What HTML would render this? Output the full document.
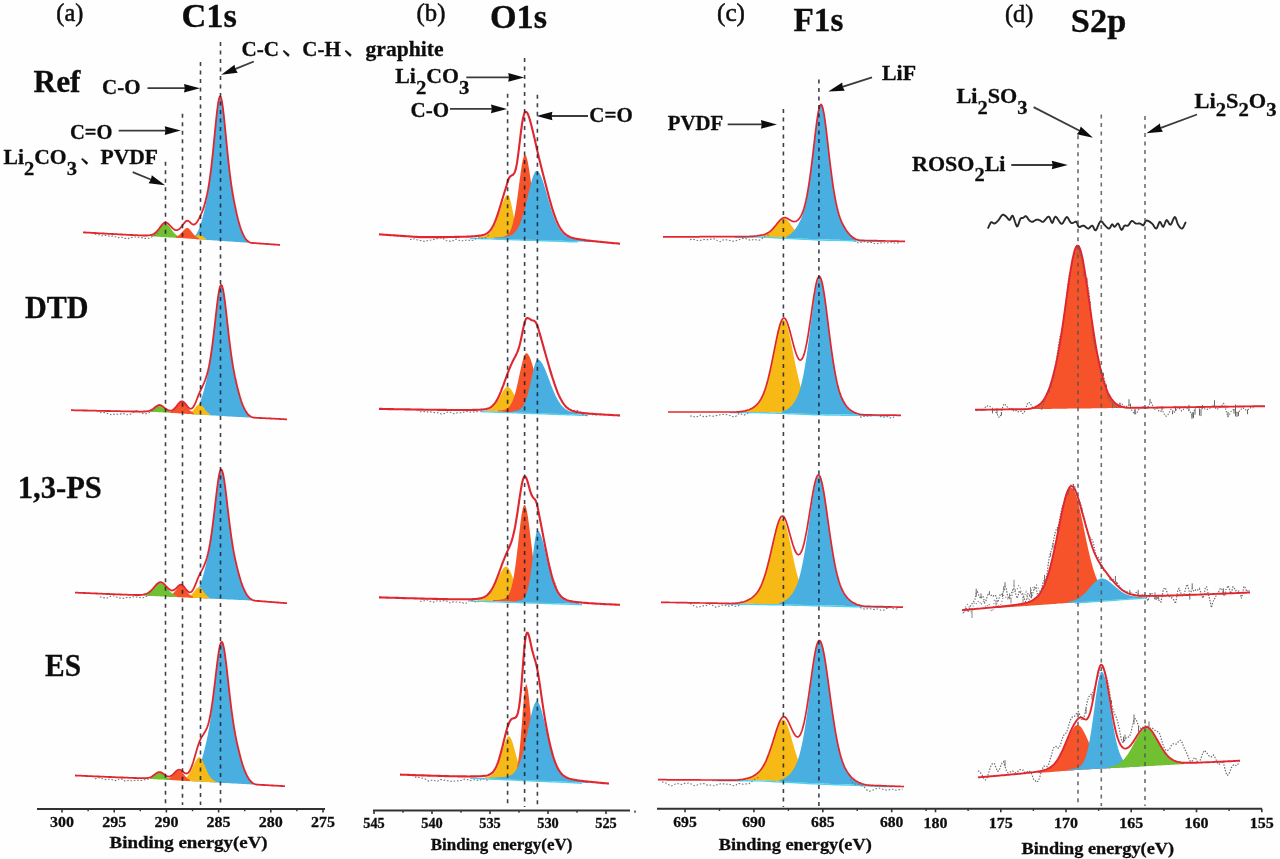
<!DOCTYPE html><html><head><meta charset="utf-8"><style>html,body{margin:0;padding:0;background:#fefefe;overflow:hidden}svg{display:block}</style></head><body><svg width="1280" height="859" viewBox="0 0 1280 859" font-family="'Liberation Serif', serif">
<rect width="1280" height="859" fill="#fefefe"/>
<defs><filter id="bl" x="-2%" y="-2%" width="104%" height="104%"><feGaussianBlur stdDeviation="0.55"/></filter></defs><g filter="url(#bl)">
<polygon points="193.0,237.6 194.0,236.8 195.0,235.8 196.0,234.5 197.0,232.9 198.0,231.0 199.0,228.8 200.0,226.2 201.0,223.2 202.0,219.8 203.0,216.1 204.0,211.9 205.0,207.4 206.0,202.6 207.0,197.6 208.0,192.1 209.0,185.8 210.0,178.7 211.0,170.7 212.0,161.9 213.0,152.4 214.0,142.2 215.0,131.8 216.0,121.6 217.0,112.2 218.0,104.5 219.0,99.1 220.0,96.9 221.0,97.9 222.0,102.0 223.0,108.8 224.0,117.5 225.0,127.3 226.0,137.6 227.0,147.8 228.0,157.6 229.0,166.8 230.0,175.3 231.0,182.9 232.0,189.7 233.0,195.7 234.0,201.0 235.0,206.0 236.0,210.8 237.0,215.2 238.0,219.3 239.0,223.1 240.0,226.5 241.0,229.4 242.0,232.1 243.0,234.4 244.0,236.4 245.0,238.0 246.0,239.4 247.0,240.6 248.0,241.4 248.0,242.8 247.0,242.7 246.0,242.6 245.0,242.6 244.0,242.5 243.0,242.4 242.0,242.3 241.0,242.3 240.0,242.2 239.0,242.1 238.0,242.1 237.0,242.0 236.0,241.9 235.0,241.8 234.0,241.8 233.0,241.7 232.0,241.6 231.0,241.6 230.0,241.5 229.0,241.4 228.0,241.4 227.0,241.3 226.0,241.2 225.0,241.2 224.0,241.1 223.0,241.0 222.0,240.9 221.0,240.9 220.0,240.8 219.0,240.7 218.0,240.7 217.0,240.6 216.0,240.5 215.0,240.4 214.0,240.4 213.0,240.3 212.0,240.2 211.0,240.2 210.0,240.1 209.0,240.0 208.0,240.0 207.0,239.9 206.0,239.8 205.0,239.8 204.0,239.7 203.0,239.6 202.0,239.5 201.0,239.5 200.0,239.4 199.0,239.3 198.0,239.3 197.0,239.2 196.0,239.1 195.0,239.1 194.0,239.0 193.0,238.9" fill="#48aee0"/>
<polygon points="193.0,237.7 194.0,237.2 195.0,236.7 196.0,236.0 197.0,235.4 198.0,234.8 199.0,234.6 200.0,234.6 201.0,235.1 202.0,235.7 203.0,236.5 204.0,237.3 205.0,238.0 206.0,238.6 206.0,239.8 205.0,239.8 204.0,239.7 203.0,239.6 202.0,239.5 201.0,239.5 200.0,239.4 199.0,239.3 198.0,239.3 197.0,239.2 196.0,239.1 195.0,239.1 194.0,239.0 193.0,238.9" fill="#f6b914"/>
<polygon points="151.0,235.2 152.0,234.9 153.0,234.5 154.0,234.0 155.0,233.4 156.0,232.5 157.0,231.5 158.0,230.4 159.0,229.2 160.0,227.9 161.0,226.7 162.0,225.5 163.0,224.6 164.0,223.9 165.0,223.6 166.0,223.7 167.0,224.2 168.0,225.0 169.0,226.2 170.0,227.5 171.0,228.8 172.0,230.2 173.0,231.5 174.0,232.7 175.0,233.8 176.0,234.7 177.0,235.5 178.0,236.1 179.0,236.6 180.0,237.0 180.0,238.0 179.0,237.9 178.0,237.9 177.0,237.8 176.0,237.8 175.0,237.7 174.0,237.7 173.0,237.6 172.0,237.5 171.0,237.5 170.0,237.4 169.0,237.4 168.0,237.3 167.0,237.2 166.0,237.2 165.0,237.1 164.0,237.1 163.0,237.0 162.0,237.0 161.0,236.9 160.0,236.8 159.0,236.8 158.0,236.7 157.0,236.7 156.0,236.6 155.0,236.6 154.0,236.5 153.0,236.4 152.0,236.4 151.0,236.3" fill="#70c032"/>
<polygon points="176.0,236.5 177.0,236.2 178.0,235.7 179.0,235.1 180.0,234.3 181.0,233.3 182.0,232.3 183.0,231.1 184.0,230.0 185.0,229.0 186.0,228.2 187.0,227.9 188.0,228.1 189.0,228.7 190.0,229.7 191.0,230.9 192.0,232.2 193.0,233.5 194.0,234.7 195.0,235.7 196.0,236.5 197.0,237.2 198.0,237.8 199.0,238.2 199.0,239.3 198.0,239.3 197.0,239.2 196.0,239.1 195.0,239.1 194.0,239.0 193.0,238.9 192.0,238.8 191.0,238.8 190.0,238.7 189.0,238.6 188.0,238.6 187.0,238.5 186.0,238.4 185.0,238.3 184.0,238.3 183.0,238.2 182.0,238.1 181.0,238.1 180.0,238.0 179.0,237.9 178.0,237.9 177.0,237.8 176.0,237.8" fill="#f6532a"/>
<polygon points="193.0,412.7 194.0,411.9 195.0,410.9 196.0,409.7 197.0,408.3 198.0,406.6 199.0,404.6 200.0,402.3 201.0,399.7 202.0,396.8 203.0,393.5 204.0,390.0 205.0,386.1 206.0,382.0 207.0,377.8 208.0,373.2 209.0,368.0 210.0,362.2 211.0,355.6 212.0,348.4 213.0,340.5 214.0,332.0 215.0,323.2 216.0,314.2 217.0,305.5 218.0,297.7 219.0,291.2 220.0,286.9 221.0,285.0 222.0,285.9 223.0,289.3 224.0,295.0 225.0,302.4 226.0,310.8 227.0,319.7 228.0,328.7 229.0,337.4 230.0,345.6 231.0,353.2 232.0,360.2 233.0,366.4 234.0,372.0 235.0,377.0 236.0,381.4 237.0,385.7 238.0,389.8 239.0,393.6 240.0,397.1 241.0,400.3 242.0,403.1 243.0,405.7 244.0,408.0 245.0,409.9 246.0,411.7 247.0,413.1 248.0,414.4 249.0,415.4 250.0,416.2 250.0,417.5 249.0,417.5 248.0,417.4 247.0,417.4 246.0,417.3 245.0,417.3 244.0,417.2 243.0,417.2 242.0,417.1 241.0,417.1 240.0,417.0 239.0,417.0 238.0,416.9 237.0,416.9 236.0,416.8 235.0,416.8 234.0,416.7 233.0,416.7 232.0,416.6 231.0,416.6 230.0,416.5 229.0,416.4 228.0,416.4 227.0,416.3 226.0,416.3 225.0,416.2 224.0,416.1 223.0,416.1 222.0,416.0 221.0,415.9 220.0,415.9 219.0,415.8 218.0,415.8 217.0,415.7 216.0,415.6 215.0,415.6 214.0,415.5 213.0,415.5 212.0,415.4 211.0,415.3 210.0,415.3 209.0,415.2 208.0,415.1 207.0,415.1 206.0,415.0 205.0,415.0 204.0,414.9 203.0,414.8 202.0,414.8 201.0,414.7 200.0,414.7 199.0,414.6 198.0,414.5 197.0,414.5 196.0,414.4 195.0,414.4 194.0,414.3 193.0,414.2" fill="#48aee0"/>
<polygon points="189.0,412.9 190.0,412.6 191.0,412.0 192.0,411.3 193.0,410.4 194.0,409.3 195.0,408.1 196.0,406.8 197.0,405.7 198.0,404.8 199.0,404.2 200.0,404.2 201.0,404.6 202.0,405.6 203.0,406.8 204.0,408.1 205.0,409.5 206.0,410.7 207.0,411.8 208.0,412.8 209.0,413.5 210.0,414.1 210.0,415.3 209.0,415.2 208.0,415.1 207.0,415.1 206.0,415.0 205.0,415.0 204.0,414.9 203.0,414.8 202.0,414.8 201.0,414.7 200.0,414.7 199.0,414.6 198.0,414.5 197.0,414.5 196.0,414.4 195.0,414.4 194.0,414.3 193.0,414.2 192.0,414.2 191.0,414.1 190.0,414.0 189.0,414.0" fill="#f6b914"/>
<polygon points="170.0,411.7 171.0,411.4 172.0,410.9 173.0,410.2 174.0,409.4 175.0,408.4 176.0,407.2 177.0,405.9 178.0,404.6 179.0,403.4 180.0,402.4 181.0,401.7 182.0,401.6 183.0,401.9 184.0,402.6 185.0,403.7 186.0,405.1 187.0,406.5 188.0,407.9 189.0,409.2 190.0,410.4 191.0,411.3 192.0,412.1 193.0,412.7 194.0,413.2 194.0,414.3 193.0,414.2 192.0,414.2 191.0,414.1 190.0,414.0 189.0,414.0 188.0,413.9 187.0,413.9 186.0,413.8 185.0,413.7 184.0,413.7 183.0,413.6 182.0,413.6 181.0,413.5 180.0,413.4 179.0,413.4 178.0,413.3 177.0,413.2 176.0,413.2 175.0,413.1 174.0,413.1 173.0,413.0 172.0,412.9 171.0,412.9 170.0,412.8" fill="#f6532a"/>
<polygon points="150.0,410.6 151.0,410.2 152.0,409.6 153.0,409.0 154.0,408.3 155.0,407.5 156.0,406.7 157.0,406.0 158.0,405.5 159.0,405.2 160.0,405.2 161.0,405.5 162.0,406.1 163.0,406.8 164.0,407.7 165.0,408.5 166.0,409.4 167.0,410.1 168.0,410.8 169.0,411.3 170.0,411.8 170.0,412.8 169.0,412.8 168.0,412.7 167.0,412.6 166.0,412.6 165.0,412.5 164.0,412.4 163.0,412.4 162.0,412.3 161.0,412.3 160.0,412.2 159.0,412.2 158.0,412.2 157.0,412.1 156.0,412.1 155.0,412.1 154.0,412.1 153.0,412.0 152.0,412.0 151.0,412.0 150.0,412.0" fill="#70c032"/>
<polygon points="192.0,596.6 193.0,595.9 194.0,595.0 195.0,593.9 196.0,592.6 197.0,591.1 198.0,589.3 199.0,587.2 200.0,584.8 201.0,582.2 202.0,579.2 203.0,575.9 204.0,572.4 205.0,568.5 206.0,564.5 207.0,560.3 208.0,555.7 209.0,550.5 210.0,544.7 211.0,538.2 212.0,531.0 213.0,523.2 214.0,515.0 215.0,506.3 216.0,497.7 217.0,489.3 218.0,481.8 219.0,475.6 220.0,471.4 221.0,469.7 222.0,470.5 223.0,473.7 224.0,479.0 225.0,485.9 226.0,493.8 227.0,502.3 228.0,510.9 229.0,519.3 230.0,527.3 231.0,534.8 232.0,541.7 233.0,547.9 234.0,553.5 235.0,558.4 236.0,562.9 237.0,567.0 238.0,571.0 239.0,574.8 240.0,578.3 241.0,581.5 242.0,584.5 243.0,587.1 244.0,589.5 245.0,591.6 246.0,593.4 247.0,595.0 248.0,596.4 249.0,597.5 250.0,598.4 251.0,599.2 251.0,600.5 250.0,600.4 249.0,600.4 248.0,600.3 247.0,600.3 246.0,600.2 245.0,600.2 244.0,600.1 243.0,600.1 242.0,600.0 241.0,600.0 240.0,600.0 239.0,599.9 238.0,599.9 237.0,599.8 236.0,599.8 235.0,599.7 234.0,599.7 233.0,599.6 232.0,599.6 231.0,599.6 230.0,599.5 229.0,599.5 228.0,599.4 227.0,599.4 226.0,599.3 225.0,599.3 224.0,599.2 223.0,599.2 222.0,599.2 221.0,599.1 220.0,599.1 219.0,599.0 218.0,599.0 217.0,598.9 216.0,598.9 215.0,598.8 214.0,598.8 213.0,598.8 212.0,598.7 211.0,598.7 210.0,598.6 209.0,598.6 208.0,598.5 207.0,598.5 206.0,598.4 205.0,598.4 204.0,598.4 203.0,598.3 202.0,598.3 201.0,598.2 200.0,598.2 199.0,598.1 198.0,598.1 197.0,598.0 196.0,598.0 195.0,598.0 194.0,597.9 193.0,597.9 192.0,597.8" fill="#48aee0"/>
<polygon points="189.0,596.3 190.0,595.8 191.0,595.0 192.0,594.1 193.0,593.0 194.0,591.7 195.0,590.4 196.0,589.1 197.0,588.1 198.0,587.4 199.0,587.1 200.0,587.4 201.0,588.2 202.0,589.4 203.0,590.8 204.0,592.2 205.0,593.5 206.0,594.7 207.0,595.7 208.0,596.6 209.0,597.2 209.0,598.6 208.0,598.5 207.0,598.5 206.0,598.4 205.0,598.4 204.0,598.4 203.0,598.3 202.0,598.3 201.0,598.2 200.0,598.2 199.0,598.1 198.0,598.1 197.0,598.0 196.0,598.0 195.0,598.0 194.0,597.9 193.0,597.9 192.0,597.8 191.0,597.8 190.0,597.7 189.0,597.7" fill="#f6b914"/>
<polygon points="169.0,595.7 170.0,595.4 171.0,594.9 172.0,594.2 173.0,593.4 174.0,592.4 175.0,591.2 176.0,589.9 177.0,588.6 178.0,587.3 179.0,586.3 180.0,585.6 181.0,585.3 182.0,585.6 183.0,586.3 184.0,587.3 185.0,588.7 186.0,590.1 187.0,591.5 188.0,592.8 189.0,593.9 190.0,594.9 191.0,595.7 192.0,596.3 193.0,596.7 193.0,597.9 192.0,597.8 191.0,597.8 190.0,597.7 189.0,597.7 188.0,597.6 187.0,597.6 186.0,597.5 185.0,597.5 184.0,597.5 183.0,597.4 182.0,597.4 181.0,597.3 180.0,597.3 179.0,597.2 178.0,597.2 177.0,597.1 176.0,597.1 175.0,597.1 174.0,597.0 173.0,597.0 172.0,596.9 171.0,596.9 170.0,596.8 169.0,596.8" fill="#f6532a"/>
<polygon points="144.0,594.6 145.0,594.3 146.0,594.0 147.0,593.6 148.0,593.0 149.0,592.4 150.0,591.6 151.0,590.7 152.0,589.7 153.0,588.6 154.0,587.5 155.0,586.3 156.0,585.2 157.0,584.2 158.0,583.4 159.0,582.8 160.0,582.5 161.0,582.5 162.0,582.8 163.0,583.4 164.0,584.3 165.0,585.4 166.0,586.6 167.0,587.8 168.0,589.0 169.0,590.2 170.0,591.4 171.0,592.4 172.0,593.3 173.0,594.0 174.0,594.7 175.0,595.2 176.0,595.7 177.0,596.0 177.0,597.1 176.0,597.1 175.0,597.1 174.0,597.0 173.0,597.0 172.0,596.9 171.0,596.9 170.0,596.8 169.0,596.8 168.0,596.7 167.0,596.7 166.0,596.7 165.0,596.6 164.0,596.6 163.0,596.5 162.0,596.5 161.0,596.4 160.0,596.4 159.0,596.3 158.0,596.3 157.0,596.3 156.0,596.2 155.0,596.2 154.0,596.1 153.0,596.1 152.0,596.0 151.0,596.0 150.0,595.9 149.0,595.9 148.0,595.9 147.0,595.8 146.0,595.8 145.0,595.7 144.0,595.7" fill="#70c032"/>
<polygon points="191.0,779.6 192.0,778.8 193.0,777.9 194.0,776.8 195.0,775.4 196.0,773.8 197.0,772.0 198.0,769.9 199.0,767.6 200.0,764.9 201.0,762.0 202.0,758.7 203.0,755.2 204.0,751.4 205.0,747.4 206.0,743.2 207.0,738.8 208.0,733.9 209.0,728.5 210.0,722.3 211.0,715.6 212.0,708.2 213.0,700.3 214.0,691.9 215.0,683.1 216.0,674.2 217.0,665.6 218.0,657.6 219.0,650.9 220.0,645.8 221.0,642.9 222.0,642.4 223.0,644.5 224.0,648.8 225.0,655.1 226.0,662.8 227.0,671.3 228.0,680.2 229.0,689.2 230.0,697.9 231.0,706.1 232.0,713.8 233.0,720.9 234.0,727.4 235.0,733.2 236.0,738.5 237.0,743.1 238.0,747.5 239.0,751.7 240.0,755.7 241.0,759.4 242.0,762.9 243.0,766.1 244.0,768.9 245.0,771.5 246.0,773.8 247.0,775.9 248.0,777.7 249.0,779.2 250.0,780.5 251.0,781.6 252.0,782.6 253.0,783.3 253.0,784.5 252.0,784.4 251.0,784.4 250.0,784.3 249.0,784.3 248.0,784.2 247.0,784.2 246.0,784.1 245.0,784.1 244.0,784.0 243.0,784.0 242.0,783.9 241.0,783.8 240.0,783.8 239.0,783.7 238.0,783.7 237.0,783.6 236.0,783.6 235.0,783.5 234.0,783.5 233.0,783.4 232.0,783.4 231.0,783.3 230.0,783.3 229.0,783.2 228.0,783.1 227.0,783.1 226.0,783.0 225.0,783.0 224.0,782.9 223.0,782.9 222.0,782.8 221.0,782.8 220.0,782.7 219.0,782.7 218.0,782.6 217.0,782.6 216.0,782.5 215.0,782.4 214.0,782.4 213.0,782.3 212.0,782.3 211.0,782.2 210.0,782.2 209.0,782.1 208.0,782.1 207.0,782.0 206.0,782.0 205.0,781.9 204.0,781.9 203.0,781.8 202.0,781.7 201.0,781.7 200.0,781.6 199.0,781.6 198.0,781.5 197.0,781.5 196.0,781.4 195.0,781.4 194.0,781.3 193.0,781.3 192.0,781.2 191.0,781.1" fill="#48aee0"/>
<polygon points="181.0,779.6 182.0,779.4 183.0,779.2 184.0,778.8 185.0,778.3 186.0,777.6 187.0,776.7 188.0,775.6 189.0,774.2 190.0,772.6 191.0,770.8 192.0,768.7 193.0,766.6 194.0,764.4 195.0,762.3 196.0,760.4 197.0,758.8 198.0,757.7 199.0,757.1 200.0,757.3 201.0,758.1 202.0,759.6 203.0,761.6 204.0,763.9 205.0,766.3 206.0,768.8 207.0,771.1 208.0,773.2 209.0,775.1 210.0,776.7 211.0,778.0 212.0,779.1 213.0,779.9 214.0,780.5 215.0,781.0 216.0,781.4 216.0,782.5 215.0,782.4 214.0,782.4 213.0,782.3 212.0,782.3 211.0,782.2 210.0,782.2 209.0,782.1 208.0,782.1 207.0,782.0 206.0,782.0 205.0,781.9 204.0,781.9 203.0,781.8 202.0,781.7 201.0,781.7 200.0,781.6 199.0,781.6 198.0,781.5 197.0,781.5 196.0,781.4 195.0,781.4 194.0,781.3 193.0,781.3 192.0,781.2 191.0,781.1 190.0,781.1 189.0,781.0 188.0,781.0 187.0,780.9 186.0,780.9 185.0,780.8 184.0,780.8 183.0,780.7 182.0,780.7 181.0,780.6" fill="#f6b914"/>
<polygon points="168.0,778.7 169.0,778.3 170.0,777.7 171.0,777.0 172.0,776.2 173.0,775.2 174.0,774.1 175.0,773.0 176.0,772.0 177.0,771.2 178.0,770.7 179.0,770.5 180.0,770.8 181.0,771.4 182.0,772.3 183.0,773.5 184.0,774.6 185.0,775.8 186.0,776.9 187.0,777.9 188.0,778.7 189.0,779.3 190.0,779.9 190.0,781.1 189.0,781.0 188.0,781.0 187.0,780.9 186.0,780.9 185.0,780.8 184.0,780.8 183.0,780.7 182.0,780.7 181.0,780.6 180.0,780.6 179.0,780.5 178.0,780.4 177.0,780.4 176.0,780.3 175.0,780.3 174.0,780.2 173.0,780.2 172.0,780.1 171.0,780.1 170.0,780.0 169.0,780.0 168.0,779.9" fill="#f6532a"/>
<polygon points="150.0,777.6 151.0,777.2 152.0,776.7 153.0,776.0 154.0,775.3 155.0,774.6 156.0,773.9 157.0,773.2 158.0,772.7 159.0,772.5 160.0,772.5 161.0,772.8 162.0,773.4 163.0,774.1 164.0,774.9 165.0,775.8 166.0,776.6 167.0,777.3 168.0,778.0 169.0,778.5 170.0,779.0 170.0,780.0 169.0,780.0 168.0,779.9 167.0,779.9 166.0,779.8 165.0,779.7 164.0,779.7 163.0,779.6 162.0,779.6 161.0,779.5 160.0,779.5 159.0,779.4 158.0,779.4 157.0,779.3 156.0,779.3 155.0,779.2 154.0,779.2 153.0,779.1 152.0,779.0 151.0,779.0 150.0,778.9" fill="#70c032"/>
<polygon points="479.0,236.9 480.0,236.8 481.0,236.7 482.0,236.6 483.0,236.4 484.0,236.2 485.0,235.8 486.0,235.4 487.0,234.9 488.0,234.2 489.0,233.4 490.0,232.4 491.0,231.2 492.0,229.8 493.0,228.2 494.0,226.3 495.0,224.1 496.0,221.7 497.0,219.1 498.0,216.3 499.0,213.4 500.0,210.4 501.0,207.4 502.0,204.6 503.0,201.9 504.0,199.5 505.0,197.5 506.0,196.1 507.0,195.2 508.0,195.0 509.0,196.1 510.0,198.8 511.0,202.9 512.0,207.6 513.0,212.7 514.0,217.6 515.0,222.2 516.0,226.2 517.0,229.4 518.0,232.1 519.0,234.1 520.0,235.5 521.0,236.6 522.0,237.3 523.0,237.8 524.0,238.2 525.0,238.4 525.0,239.5 524.0,239.5 523.0,239.5 522.0,239.4 521.0,239.4 520.0,239.4 519.0,239.3 518.0,239.3 517.0,239.3 516.0,239.2 515.0,239.2 514.0,239.2 513.0,239.1 512.0,239.1 511.0,239.1 510.0,239.0 509.0,239.0 508.0,239.0 507.0,238.9 506.0,238.9 505.0,238.8 504.0,238.8 503.0,238.8 502.0,238.7 501.0,238.7 500.0,238.7 499.0,238.6 498.0,238.6 497.0,238.6 496.0,238.5 495.0,238.5 494.0,238.5 493.0,238.4 492.0,238.4 491.0,238.4 490.0,238.3 489.0,238.3 488.0,238.3 487.0,238.2 486.0,238.2 485.0,238.2 484.0,238.1 483.0,238.1 482.0,238.1 481.0,238.0 480.0,238.0 479.0,238.0" fill="#f6b914"/>
<polygon points="495.0,237.5 496.0,237.5 497.0,237.4 498.0,237.4 499.0,237.3 500.0,237.2 501.0,237.1 502.0,237.0 503.0,236.8 504.0,236.6 505.0,236.3 506.0,235.8 507.0,235.1 508.0,234.3 509.0,233.0 510.0,231.4 511.0,229.2 512.0,226.4 513.0,222.8 514.0,218.5 515.0,213.2 516.0,207.2 517.0,200.4 518.0,193.0 519.0,185.3 520.0,177.6 521.0,170.3 522.0,163.9 523.0,158.9 524.0,155.6 525.0,154.5 526.0,155.6 527.0,158.5 528.0,163.0 529.0,168.9 530.0,175.6 531.0,182.8 532.0,190.1 533.0,197.3 534.0,204.1 535.0,210.2 536.0,215.7 537.0,220.4 538.0,224.4 539.0,227.7 540.0,230.3 541.0,232.4 542.0,234.1 543.0,235.3 544.0,236.3 545.0,237.0 546.0,237.5 547.0,237.9 548.0,238.3 549.0,238.5 550.0,238.7 551.0,238.9 552.0,239.1 553.0,239.2 554.0,239.3 555.0,239.4 556.0,239.5 557.0,239.6 557.0,240.6 556.0,240.6 555.0,240.6 554.0,240.5 553.0,240.5 552.0,240.4 551.0,240.4 550.0,240.4 549.0,240.3 548.0,240.3 547.0,240.3 546.0,240.2 545.0,240.2 544.0,240.2 543.0,240.1 542.0,240.1 541.0,240.1 540.0,240.0 539.0,240.0 538.0,240.0 537.0,239.9 536.0,239.9 535.0,239.9 534.0,239.8 533.0,239.8 532.0,239.8 531.0,239.7 530.0,239.7 529.0,239.7 528.0,239.6 527.0,239.6 526.0,239.6 525.0,239.5 524.0,239.5 523.0,239.5 522.0,239.4 521.0,239.4 520.0,239.4 519.0,239.3 518.0,239.3 517.0,239.3 516.0,239.2 515.0,239.2 514.0,239.2 513.0,239.1 512.0,239.1 511.0,239.1 510.0,239.0 509.0,239.0 508.0,239.0 507.0,238.9 506.0,238.9 505.0,238.8 504.0,238.8 503.0,238.8 502.0,238.7 501.0,238.7 500.0,238.7 499.0,238.6 498.0,238.6 497.0,238.6 496.0,238.5 495.0,238.5" fill="#f6532a"/>
<polygon points="493.0,237.4 494.0,237.4 495.0,237.4 496.0,237.4 497.0,237.3 498.0,237.3 499.0,237.3 500.0,237.2 501.0,237.2 502.0,237.1 503.0,237.0 504.0,236.9 505.0,236.8 506.0,236.7 507.0,236.5 508.0,236.3 509.0,236.0 510.0,235.6 511.0,235.2 512.0,234.7 513.0,234.0 514.0,233.2 515.0,232.2 516.0,231.0 517.0,229.6 518.0,227.9 519.0,225.9 520.0,223.7 521.0,221.1 522.0,218.2 523.0,215.0 524.0,211.6 525.0,207.8 526.0,203.8 527.0,199.7 528.0,195.5 529.0,191.2 530.0,187.1 531.0,183.2 532.0,179.6 533.0,176.5 534.0,173.9 535.0,172.1 536.0,171.1 537.0,171.0 538.0,171.5 539.0,172.5 540.0,174.1 541.0,176.2 542.0,178.7 543.0,181.5 544.0,184.6 545.0,187.9 546.0,191.3 547.0,194.8 548.0,198.3 549.0,201.8 550.0,205.2 551.0,208.5 552.0,211.7 553.0,214.6 554.0,217.4 555.0,220.0 556.0,222.4 557.0,224.5 558.0,226.5 559.0,228.3 560.0,229.8 561.0,231.2 562.0,232.4 563.0,233.5 564.0,234.4 565.0,235.2 566.0,235.9 567.0,236.5 568.0,237.0 569.0,237.5 570.0,237.9 571.0,238.2 572.0,238.5 573.0,238.7 574.0,238.9 575.0,239.1 576.0,239.3 577.0,239.5 578.0,239.6 579.0,239.7 580.0,239.8 581.0,240.0 582.0,240.1 583.0,240.3 584.0,240.4 585.0,240.5 586.0,240.6 587.0,240.7 588.0,240.9 589.0,241.0 590.0,241.1 591.0,241.2 591.0,242.2 590.0,242.1 589.0,242.1 588.0,242.0 587.0,241.9 586.0,241.8 585.0,241.8 584.0,241.7 583.0,241.6 582.0,241.5 581.0,241.5 580.0,241.4 579.0,241.4 578.0,241.3 577.0,241.3 576.0,241.3 575.0,241.2 574.0,241.2 573.0,241.2 572.0,241.1 571.0,241.1 570.0,241.1 569.0,241.0 568.0,241.0 567.0,241.0 566.0,240.9 565.0,240.9 564.0,240.9 563.0,240.8 562.0,240.8 561.0,240.8 560.0,240.7 559.0,240.7 558.0,240.7 557.0,240.6 556.0,240.6 555.0,240.6 554.0,240.5 553.0,240.5 552.0,240.4 551.0,240.4 550.0,240.4 549.0,240.3 548.0,240.3 547.0,240.3 546.0,240.2 545.0,240.2 544.0,240.2 543.0,240.1 542.0,240.1 541.0,240.1 540.0,240.0 539.0,240.0 538.0,240.0 537.0,239.9 536.0,239.9 535.0,239.9 534.0,239.8 533.0,239.8 532.0,239.8 531.0,239.7 530.0,239.7 529.0,239.7 528.0,239.6 527.0,239.6 526.0,239.6 525.0,239.5 524.0,239.5 523.0,239.5 522.0,239.4 521.0,239.4 520.0,239.4 519.0,239.3 518.0,239.3 517.0,239.3 516.0,239.2 515.0,239.2 514.0,239.2 513.0,239.1 512.0,239.1 511.0,239.1 510.0,239.0 509.0,239.0 508.0,239.0 507.0,238.9 506.0,238.9 505.0,238.8 504.0,238.8 503.0,238.8 502.0,238.7 501.0,238.7 500.0,238.7 499.0,238.6 498.0,238.6 497.0,238.6 496.0,238.5 495.0,238.5 494.0,238.5 493.0,238.4" fill="#48aee0"/>
<polygon points="486.0,410.1 487.0,409.9 488.0,409.7 489.0,409.4 490.0,409.0 491.0,408.4 492.0,407.8 493.0,407.0 494.0,406.0 495.0,404.8 496.0,403.5 497.0,402.0 498.0,400.4 499.0,398.6 500.0,396.8 501.0,394.9 502.0,393.1 503.0,391.3 504.0,389.8 505.0,388.5 506.0,387.6 507.0,387.1 508.0,387.0 509.0,387.4 510.0,388.3 511.0,389.5 512.0,391.0 513.0,392.7 514.0,394.6 515.0,396.6 516.0,398.5 517.0,400.4 518.0,402.1 519.0,403.7 520.0,405.2 521.0,406.5 522.0,407.6 523.0,408.6 524.0,409.3 525.0,410.0 526.0,410.5 527.0,411.0 528.0,411.3 529.0,411.6 529.0,412.8 528.0,412.7 527.0,412.7 526.0,412.6 525.0,412.6 524.0,412.6 523.0,412.5 522.0,412.5 521.0,412.5 520.0,412.4 519.0,412.4 518.0,412.4 517.0,412.3 516.0,412.3 515.0,412.2 514.0,412.2 513.0,412.2 512.0,412.1 511.0,412.1 510.0,412.1 509.0,412.0 508.0,412.0 507.0,412.0 506.0,411.9 505.0,411.9 504.0,411.9 503.0,411.8 502.0,411.8 501.0,411.8 500.0,411.7 499.0,411.7 498.0,411.6 497.0,411.6 496.0,411.6 495.0,411.5 494.0,411.5 493.0,411.5 492.0,411.4 491.0,411.4 490.0,411.4 489.0,411.3 488.0,411.3 487.0,411.2 486.0,411.2" fill="#f6b914"/>
<polygon points="498.0,410.6 499.0,410.6 500.0,410.5 501.0,410.4 502.0,410.3 503.0,410.1 504.0,409.9 505.0,409.6 506.0,409.2 507.0,408.6 508.0,407.9 509.0,406.9 510.0,405.7 511.0,404.1 512.0,402.2 513.0,399.9 514.0,397.1 515.0,393.9 516.0,390.2 517.0,386.1 518.0,381.7 519.0,377.1 520.0,372.3 521.0,367.7 522.0,363.4 523.0,359.5 524.0,356.4 525.0,354.3 526.0,353.2 527.0,353.3 528.0,354.2 529.0,355.7 530.0,357.8 531.0,360.5 532.0,363.6 533.0,367.1 534.0,370.7 535.0,374.4 536.0,378.2 537.0,381.9 538.0,385.4 539.0,388.8 540.0,391.9 541.0,394.8 542.0,397.5 543.0,399.8 544.0,401.9 545.0,403.7 546.0,405.2 547.0,406.6 548.0,407.7 549.0,408.6 550.0,409.4 551.0,410.1 552.0,410.6 553.0,411.0 554.0,411.4 555.0,411.7 556.0,412.0 557.0,412.2 558.0,412.3 559.0,412.5 560.0,412.6 561.0,412.8 562.0,412.9 563.0,413.0 563.0,414.0 562.0,413.9 561.0,413.9 560.0,413.9 559.0,413.8 558.0,413.8 557.0,413.8 556.0,413.7 555.0,413.7 554.0,413.6 553.0,413.6 552.0,413.6 551.0,413.5 550.0,413.5 549.0,413.5 548.0,413.4 547.0,413.4 546.0,413.4 545.0,413.3 544.0,413.3 543.0,413.2 542.0,413.2 541.0,413.2 540.0,413.1 539.0,413.1 538.0,413.1 537.0,413.0 536.0,413.0 535.0,413.0 534.0,412.9 533.0,412.9 532.0,412.9 531.0,412.8 530.0,412.8 529.0,412.8 528.0,412.7 527.0,412.7 526.0,412.6 525.0,412.6 524.0,412.6 523.0,412.5 522.0,412.5 521.0,412.5 520.0,412.4 519.0,412.4 518.0,412.4 517.0,412.3 516.0,412.3 515.0,412.2 514.0,412.2 513.0,412.2 512.0,412.1 511.0,412.1 510.0,412.1 509.0,412.0 508.0,412.0 507.0,412.0 506.0,411.9 505.0,411.9 504.0,411.9 503.0,411.8 502.0,411.8 501.0,411.8 500.0,411.7 499.0,411.7 498.0,411.6" fill="#f6532a"/>
<polygon points="513.0,411.1 514.0,411.0 515.0,410.9 516.0,410.8 517.0,410.5 518.0,410.2 519.0,409.8 520.0,409.2 521.0,408.5 522.0,407.5 523.0,406.1 524.0,404.4 525.0,402.3 526.0,399.8 527.0,396.8 528.0,393.3 529.0,389.4 530.0,385.2 531.0,380.7 532.0,376.1 533.0,371.7 534.0,367.6 535.0,364.1 536.0,361.5 537.0,359.9 538.0,359.6 539.0,359.9 540.0,360.6 541.0,361.7 542.0,363.2 543.0,365.0 544.0,367.0 545.0,369.2 546.0,371.6 547.0,374.2 548.0,376.8 549.0,379.5 550.0,382.1 551.0,384.8 552.0,387.3 553.0,389.8 554.0,392.1 555.0,394.4 556.0,396.5 557.0,398.4 558.0,400.2 559.0,401.8 560.0,403.3 561.0,404.7 562.0,405.9 563.0,406.9 564.0,407.8 565.0,408.7 566.0,409.4 567.0,410.0 568.0,410.5 569.0,411.0 570.0,411.4 571.0,411.8 572.0,412.1 573.0,412.3 574.0,412.5 575.0,412.7 576.0,412.9 577.0,413.1 578.0,413.2 579.0,413.3 580.0,413.4 581.0,413.5 582.0,413.6 582.0,414.6 581.0,414.6 580.0,414.6 579.0,414.5 578.0,414.5 577.0,414.5 576.0,414.4 575.0,414.4 574.0,414.4 573.0,414.3 572.0,414.3 571.0,414.2 570.0,414.2 569.0,414.2 568.0,414.1 567.0,414.1 566.0,414.1 565.0,414.0 564.0,414.0 563.0,414.0 562.0,413.9 561.0,413.9 560.0,413.9 559.0,413.8 558.0,413.8 557.0,413.8 556.0,413.7 555.0,413.7 554.0,413.6 553.0,413.6 552.0,413.6 551.0,413.5 550.0,413.5 549.0,413.5 548.0,413.4 547.0,413.4 546.0,413.4 545.0,413.3 544.0,413.3 543.0,413.2 542.0,413.2 541.0,413.2 540.0,413.1 539.0,413.1 538.0,413.1 537.0,413.0 536.0,413.0 535.0,413.0 534.0,412.9 533.0,412.9 532.0,412.9 531.0,412.8 530.0,412.8 529.0,412.8 528.0,412.7 527.0,412.7 526.0,412.6 525.0,412.6 524.0,412.6 523.0,412.5 522.0,412.5 521.0,412.5 520.0,412.4 519.0,412.4 518.0,412.4 517.0,412.3 516.0,412.3 515.0,412.2 514.0,412.2 513.0,412.2" fill="#48aee0"/>
<polygon points="478.0,599.6 479.0,599.5 480.0,599.4 481.0,599.2 482.0,599.0 483.0,598.7 484.0,598.3 485.0,597.9 486.0,597.3 487.0,596.6 488.0,595.8 489.0,594.8 490.0,593.6 491.0,592.3 492.0,590.8 493.0,589.1 494.0,587.2 495.0,585.2 496.0,583.1 497.0,580.9 498.0,578.6 499.0,576.4 500.0,574.2 501.0,572.2 502.0,570.4 503.0,568.8 504.0,567.6 505.0,566.9 506.0,566.6 507.0,566.8 508.0,567.7 509.0,569.1 510.0,571.0 511.0,573.3 512.0,575.8 513.0,578.5 514.0,581.2 515.0,583.9 516.0,586.4 517.0,588.7 518.0,590.9 519.0,592.8 520.0,594.5 521.0,595.9 522.0,597.1 523.0,598.1 524.0,598.9 525.0,599.5 526.0,600.1 527.0,600.5 528.0,600.8 529.0,601.1 530.0,601.3 530.0,602.4 529.0,602.3 528.0,602.3 527.0,602.3 526.0,602.2 525.0,602.2 524.0,602.2 523.0,602.1 522.0,602.1 521.0,602.1 520.0,602.0 519.0,602.0 518.0,602.0 517.0,601.9 516.0,601.9 515.0,601.9 514.0,601.8 513.0,601.8 512.0,601.8 511.0,601.7 510.0,601.7 509.0,601.7 508.0,601.6 507.0,601.6 506.0,601.6 505.0,601.5 504.0,601.5 503.0,601.5 502.0,601.4 501.0,601.4 500.0,601.4 499.0,601.3 498.0,601.3 497.0,601.3 496.0,601.2 495.0,601.2 494.0,601.2 493.0,601.2 492.0,601.1 491.0,601.1 490.0,601.1 489.0,601.0 488.0,601.0 487.0,601.0 486.0,600.9 485.0,600.9 484.0,600.9 483.0,600.8 482.0,600.8 481.0,600.8 480.0,600.7 479.0,600.7 478.0,600.7" fill="#f6b914"/>
<polygon points="493.0,600.1 494.0,600.1 495.0,600.0 496.0,600.0 497.0,599.9 498.0,599.9 499.0,599.8 500.0,599.7 501.0,599.5 502.0,599.3 503.0,599.1 504.0,598.8 505.0,598.3 506.0,597.7 507.0,596.8 508.0,595.6 509.0,593.9 510.0,591.7 511.0,588.9 512.0,585.2 513.0,580.7 514.0,575.2 515.0,568.7 516.0,561.3 517.0,553.2 518.0,544.5 519.0,535.6 520.0,526.9 521.0,519.0 522.0,512.3 523.0,507.5 524.0,505.0 525.0,505.0 526.0,507.3 527.0,511.6 528.0,517.6 529.0,524.9 530.0,532.9 531.0,541.3 532.0,549.6 533.0,557.6 534.0,565.1 535.0,571.7 536.0,577.6 537.0,582.6 538.0,586.7 539.0,590.1 540.0,592.8 541.0,594.9 542.0,596.6 543.0,597.8 544.0,598.7 545.0,599.4 546.0,600.0 547.0,600.4 548.0,600.7 549.0,601.0 550.0,601.2 551.0,601.4 552.0,601.5 553.0,601.7 554.0,601.8 555.0,601.9 556.0,602.0 557.0,602.1 558.0,602.2 558.0,603.3 557.0,603.2 556.0,603.2 555.0,603.2 554.0,603.1 553.0,603.1 552.0,603.1 551.0,603.0 550.0,603.0 549.0,603.0 548.0,602.9 547.0,602.9 546.0,602.9 545.0,602.8 544.0,602.8 543.0,602.8 542.0,602.8 541.0,602.7 540.0,602.7 539.0,602.7 538.0,602.6 537.0,602.6 536.0,602.6 535.0,602.5 534.0,602.5 533.0,602.5 532.0,602.4 531.0,602.4 530.0,602.4 529.0,602.3 528.0,602.3 527.0,602.3 526.0,602.2 525.0,602.2 524.0,602.2 523.0,602.1 522.0,602.1 521.0,602.1 520.0,602.0 519.0,602.0 518.0,602.0 517.0,601.9 516.0,601.9 515.0,601.9 514.0,601.8 513.0,601.8 512.0,601.8 511.0,601.7 510.0,601.7 509.0,601.7 508.0,601.6 507.0,601.6 506.0,601.6 505.0,601.5 504.0,601.5 503.0,601.5 502.0,601.4 501.0,601.4 500.0,601.4 499.0,601.3 498.0,601.3 497.0,601.3 496.0,601.2 495.0,601.2 494.0,601.2 493.0,601.2" fill="#f6532a"/>
<polygon points="516.0,600.9 517.0,600.8 518.0,600.7 519.0,600.6 520.0,600.4 521.0,600.1 522.0,599.7 523.0,599.1 524.0,598.2 525.0,596.8 526.0,594.9 527.0,592.1 528.0,588.5 529.0,583.7 530.0,577.9 531.0,571.0 532.0,563.2 533.0,555.1 534.0,547.0 535.0,539.8 536.0,534.3 537.0,531.1 538.0,530.7 539.0,531.5 540.0,533.1 541.0,535.4 542.0,538.4 543.0,541.9 544.0,545.8 545.0,550.0 546.0,554.3 547.0,558.8 548.0,563.1 549.0,567.4 550.0,571.5 551.0,575.3 552.0,578.9 553.0,582.2 554.0,585.1 555.0,587.8 556.0,590.1 557.0,592.1 558.0,593.9 559.0,595.4 560.0,596.6 561.0,597.7 562.0,598.6 563.0,599.3 564.0,599.9 565.0,600.4 566.0,600.8 567.0,601.2 568.0,601.5 569.0,601.7 570.0,601.9 571.0,602.1 572.0,602.2 573.0,602.4 574.0,602.5 575.0,602.6 576.0,602.7 577.0,602.8 578.0,602.9 579.0,603.0 579.0,604.0 578.0,603.9 577.0,603.9 576.0,603.9 575.0,603.8 574.0,603.8 573.0,603.8 572.0,603.7 571.0,603.7 570.0,603.7 569.0,603.6 568.0,603.6 567.0,603.6 566.0,603.5 565.0,603.5 564.0,603.5 563.0,603.4 562.0,603.4 561.0,603.4 560.0,603.3 559.0,603.3 558.0,603.3 557.0,603.2 556.0,603.2 555.0,603.2 554.0,603.1 553.0,603.1 552.0,603.1 551.0,603.0 550.0,603.0 549.0,603.0 548.0,602.9 547.0,602.9 546.0,602.9 545.0,602.8 544.0,602.8 543.0,602.8 542.0,602.8 541.0,602.7 540.0,602.7 539.0,602.7 538.0,602.6 537.0,602.6 536.0,602.6 535.0,602.5 534.0,602.5 533.0,602.5 532.0,602.4 531.0,602.4 530.0,602.4 529.0,602.3 528.0,602.3 527.0,602.3 526.0,602.2 525.0,602.2 524.0,602.2 523.0,602.1 522.0,602.1 521.0,602.1 520.0,602.0 519.0,602.0 518.0,602.0 517.0,601.9 516.0,601.9" fill="#48aee0"/>
<polygon points="485.0,777.1 486.0,777.0 487.0,776.9 488.0,776.7 489.0,776.4 490.0,776.0 491.0,775.5 492.0,774.7 493.0,773.8 494.0,772.7 495.0,771.2 496.0,769.4 497.0,767.3 498.0,764.9 499.0,762.1 500.0,759.0 501.0,755.7 502.0,752.3 503.0,748.8 504.0,745.5 505.0,742.4 506.0,739.8 507.0,737.8 508.0,736.6 509.0,736.3 510.0,736.9 511.0,738.5 512.0,740.9 513.0,744.0 514.0,747.4 515.0,751.1 516.0,754.9 517.0,758.5 518.0,761.9 519.0,765.0 520.0,767.8 521.0,770.2 522.0,772.2 523.0,773.8 524.0,775.1 525.0,776.2 526.0,777.0 527.0,777.7 528.0,778.2 529.0,778.6 530.0,778.9 531.0,779.1 532.0,779.3 532.0,780.3 531.0,780.3 530.0,780.2 529.0,780.2 528.0,780.1 527.0,780.1 526.0,780.0 525.0,780.0 524.0,779.9 523.0,779.9 522.0,779.9 521.0,779.8 520.0,779.8 519.0,779.7 518.0,779.7 517.0,779.6 516.0,779.6 515.0,779.5 514.0,779.5 513.0,779.5 512.0,779.4 511.0,779.4 510.0,779.3 509.0,779.3 508.0,779.2 507.0,779.2 506.0,779.1 505.0,779.1 504.0,779.1 503.0,779.0 502.0,779.0 501.0,778.9 500.0,778.9 499.0,778.8 498.0,778.8 497.0,778.8 496.0,778.7 495.0,778.7 494.0,778.6 493.0,778.6 492.0,778.5 491.0,778.5 490.0,778.4 489.0,778.4 488.0,778.4 487.0,778.3 486.0,778.3 485.0,778.2" fill="#f6b914"/>
<polygon points="505.0,778.1 506.0,778.0 507.0,778.0 508.0,777.9 509.0,777.8 510.0,777.6 511.0,777.4 512.0,777.0 513.0,776.4 514.0,775.5 515.0,774.0 516.0,771.6 517.0,767.9 518.0,762.6 519.0,755.2 520.0,745.7 521.0,734.3 522.0,721.5 523.0,708.5 524.0,696.7 525.0,688.0 526.0,684.1 527.0,685.4 528.0,690.4 529.0,698.4 530.0,708.3 531.0,719.3 532.0,730.2 533.0,740.4 534.0,749.4 535.0,757.0 536.0,763.2 537.0,767.9 538.0,771.4 539.0,773.9 540.0,775.6 541.0,776.9 542.0,777.7 543.0,778.3 544.0,778.7 545.0,779.0 546.0,779.3 547.0,779.5 548.0,779.6 549.0,779.8 550.0,779.9 551.0,780.1 551.0,781.1 550.0,781.1 549.0,781.1 548.0,781.0 547.0,781.0 546.0,780.9 545.0,780.9 544.0,780.8 543.0,780.8 542.0,780.7 541.0,780.7 540.0,780.7 539.0,780.6 538.0,780.6 537.0,780.5 536.0,780.5 535.0,780.4 534.0,780.4 533.0,780.3 532.0,780.3 531.0,780.3 530.0,780.2 529.0,780.2 528.0,780.1 527.0,780.1 526.0,780.0 525.0,780.0 524.0,779.9 523.0,779.9 522.0,779.9 521.0,779.8 520.0,779.8 519.0,779.7 518.0,779.7 517.0,779.6 516.0,779.6 515.0,779.5 514.0,779.5 513.0,779.5 512.0,779.4 511.0,779.4 510.0,779.3 509.0,779.3 508.0,779.2 507.0,779.2 506.0,779.1 505.0,779.1" fill="#f6532a"/>
<polygon points="490.0,777.4 491.0,777.4 492.0,777.4 493.0,777.4 494.0,777.4 495.0,777.4 496.0,777.4 497.0,777.3 498.0,777.3 499.0,777.3 500.0,777.2 501.0,777.2 502.0,777.1 503.0,777.0 504.0,776.9 505.0,776.8 506.0,776.7 507.0,776.5 508.0,776.2 509.0,775.9 510.0,775.5 511.0,775.0 512.0,774.4 513.0,773.7 514.0,772.8 515.0,771.6 516.0,770.3 517.0,768.7 518.0,766.8 519.0,764.6 520.0,762.1 521.0,759.2 522.0,755.9 523.0,752.3 524.0,748.4 525.0,744.1 526.0,739.6 527.0,734.9 528.0,730.1 529.0,725.2 530.0,720.5 531.0,715.9 532.0,711.8 533.0,708.2 534.0,705.2 535.0,703.0 536.0,701.8 537.0,701.5 538.0,702.2 539.0,703.6 540.0,705.8 541.0,708.7 542.0,712.1 543.0,716.0 544.0,720.1 545.0,724.5 546.0,729.1 547.0,733.6 548.0,738.1 549.0,742.4 550.0,746.5 551.0,750.5 552.0,754.1 553.0,757.5 554.0,760.5 555.0,763.3 556.0,765.8 557.0,767.9 558.0,769.8 559.0,771.5 560.0,772.9 561.0,774.1 562.0,775.2 563.0,776.1 564.0,776.8 565.0,777.4 566.0,778.0 567.0,778.4 568.0,778.8 569.0,779.1 570.0,779.4 571.0,779.6 572.0,779.9 573.0,780.0 574.0,780.2 575.0,780.4 576.0,780.5 577.0,780.7 578.0,780.8 579.0,781.0 580.0,781.1 581.0,781.2 582.0,781.3 583.0,781.4 584.0,781.5 585.0,781.7 586.0,781.8 587.0,781.9 588.0,782.0 588.0,783.0 587.0,782.9 586.0,782.9 585.0,782.8 584.0,782.7 583.0,782.7 582.0,782.6 581.0,782.6 580.0,782.5 579.0,782.4 578.0,782.4 577.0,782.3 576.0,782.3 575.0,782.2 574.0,782.2 573.0,782.1 572.0,782.1 571.0,782.0 570.0,782.0 569.0,781.9 568.0,781.9 567.0,781.8 566.0,781.8 565.0,781.8 564.0,781.7 563.0,781.7 562.0,781.6 561.0,781.6 560.0,781.5 559.0,781.5 558.0,781.4 557.0,781.4 556.0,781.4 555.0,781.3 554.0,781.3 553.0,781.2 552.0,781.2 551.0,781.1 550.0,781.1 549.0,781.1 548.0,781.0 547.0,781.0 546.0,780.9 545.0,780.9 544.0,780.8 543.0,780.8 542.0,780.7 541.0,780.7 540.0,780.7 539.0,780.6 538.0,780.6 537.0,780.5 536.0,780.5 535.0,780.4 534.0,780.4 533.0,780.3 532.0,780.3 531.0,780.3 530.0,780.2 529.0,780.2 528.0,780.1 527.0,780.1 526.0,780.0 525.0,780.0 524.0,779.9 523.0,779.9 522.0,779.9 521.0,779.8 520.0,779.8 519.0,779.7 518.0,779.7 517.0,779.6 516.0,779.6 515.0,779.5 514.0,779.5 513.0,779.5 512.0,779.4 511.0,779.4 510.0,779.3 509.0,779.3 508.0,779.2 507.0,779.2 506.0,779.1 505.0,779.1 504.0,779.1 503.0,779.0 502.0,779.0 501.0,778.9 500.0,778.9 499.0,778.8 498.0,778.8 497.0,778.8 496.0,778.7 495.0,778.7 494.0,778.6 493.0,778.6 492.0,778.5 491.0,778.5 490.0,778.4" fill="#48aee0"/>
<polygon points="760.0,235.4 761.0,235.2 762.0,235.0 763.0,234.8 764.0,234.5 765.0,234.2 766.0,233.8 767.0,233.4 768.0,232.8 769.0,232.2 770.0,231.4 771.0,230.6 772.0,229.6 773.0,228.6 774.0,227.4 775.0,226.2 776.0,225.0 777.0,223.7 778.0,222.5 779.0,221.3 780.0,220.2 781.0,219.3 782.0,218.7 783.0,218.3 784.0,218.2 785.0,218.4 786.0,218.9 787.0,219.8 788.0,220.8 789.0,222.1 790.0,223.5 791.0,224.9 792.0,226.3 793.0,227.7 794.0,229.0 795.0,230.3 796.0,231.4 797.0,232.5 798.0,233.4 799.0,234.2 800.0,234.9 801.0,235.5 802.0,236.0 803.0,236.4 804.0,236.8 805.0,237.1 806.0,237.4 807.0,237.7 807.0,238.8 806.0,238.7 805.0,238.7 804.0,238.6 803.0,238.6 802.0,238.5 801.0,238.5 800.0,238.4 799.0,238.4 798.0,238.3 797.0,238.3 796.0,238.2 795.0,238.2 794.0,238.1 793.0,238.1 792.0,238.0 791.0,238.0 790.0,237.9 789.0,237.9 788.0,237.9 787.0,237.8 786.0,237.8 785.0,237.7 784.0,237.7 783.0,237.6 782.0,237.6 781.0,237.5 780.0,237.5 779.0,237.4 778.0,237.4 777.0,237.3 776.0,237.3 775.0,237.2 774.0,237.2 773.0,237.1 772.0,237.1 771.0,237.0 770.0,237.0 769.0,236.9 768.0,236.9 767.0,236.8 766.0,236.8 765.0,236.7 764.0,236.7 763.0,236.6 762.0,236.6 761.0,236.5 760.0,236.5" fill="#f6b914"/>
<polygon points="786.0,236.7 787.0,236.3 788.0,235.8 789.0,235.2 790.0,234.5 791.0,233.7 792.0,232.8 793.0,231.8 794.0,230.7 795.0,229.5 796.0,228.1 797.0,226.6 798.0,224.9 799.0,223.1 800.0,221.1 801.0,218.9 802.0,216.4 803.0,213.5 804.0,210.1 805.0,206.2 806.0,201.7 807.0,196.6 808.0,190.8 809.0,184.4 810.0,177.5 811.0,169.9 812.0,161.9 813.0,153.4 814.0,144.8 815.0,136.2 816.0,127.9 817.0,120.3 818.0,113.8 819.0,108.7 820.0,105.5 821.0,104.4 822.0,105.6 823.0,108.8 824.0,113.9 825.0,120.6 826.0,128.2 827.0,136.6 828.0,145.3 829.0,154.0 830.0,162.5 831.0,170.6 832.0,178.2 833.0,185.3 834.0,191.7 835.0,197.5 836.0,202.7 837.0,207.3 838.0,211.3 839.0,214.8 840.0,217.8 841.0,220.3 842.0,222.6 843.0,224.6 844.0,226.5 845.0,228.3 846.0,229.9 847.0,231.3 848.0,232.6 849.0,233.8 850.0,234.9 851.0,235.8 852.0,236.7 853.0,237.5 854.0,238.1 855.0,238.7 856.0,239.2 856.0,240.2 855.0,240.2 854.0,240.2 853.0,240.2 852.0,240.2 851.0,240.1 850.0,240.1 849.0,240.1 848.0,240.1 847.0,240.0 846.0,240.0 845.0,240.0 844.0,240.0 843.0,239.9 842.0,239.9 841.0,239.9 840.0,239.9 839.0,239.8 838.0,239.8 837.0,239.8 836.0,239.8 835.0,239.8 834.0,239.7 833.0,239.7 832.0,239.7 831.0,239.7 830.0,239.6 829.0,239.6 828.0,239.6 827.0,239.6 826.0,239.5 825.0,239.5 824.0,239.5 823.0,239.5 822.0,239.4 821.0,239.4 820.0,239.4 819.0,239.4 818.0,239.3 817.0,239.3 816.0,239.2 815.0,239.2 814.0,239.1 813.0,239.1 812.0,239.0 811.0,239.0 810.0,238.9 809.0,238.9 808.0,238.8 807.0,238.8 806.0,238.7 805.0,238.7 804.0,238.6 803.0,238.6 802.0,238.5 801.0,238.5 800.0,238.4 799.0,238.4 798.0,238.3 797.0,238.3 796.0,238.2 795.0,238.2 794.0,238.1 793.0,238.1 792.0,238.0 791.0,238.0 790.0,237.9 789.0,237.9 788.0,237.9 787.0,237.8 786.0,237.8" fill="#48aee0"/>
<polygon points="745.0,410.9 746.0,410.6 747.0,410.3 748.0,410.0 749.0,409.7 750.0,409.3 751.0,408.8 752.0,408.3 753.0,407.7 754.0,407.0 755.0,406.2 756.0,405.3 757.0,404.3 758.0,403.2 759.0,402.0 760.0,400.5 761.0,398.9 762.0,397.0 763.0,394.9 764.0,392.4 765.0,389.6 766.0,386.5 767.0,383.1 768.0,379.4 769.0,375.3 770.0,371.0 771.0,366.4 772.0,361.6 773.0,356.6 774.0,351.6 775.0,346.6 776.0,341.7 777.0,337.0 778.0,332.6 779.0,328.7 780.0,325.3 781.0,322.7 782.0,320.9 783.0,320.0 784.0,320.0 785.0,321.0 786.0,322.9 787.0,325.6 788.0,329.0 789.0,333.0 790.0,337.5 791.0,342.2 792.0,347.2 793.0,352.3 794.0,357.5 795.0,362.5 796.0,367.4 797.0,372.0 798.0,376.4 799.0,380.6 800.0,384.4 801.0,387.9 802.0,391.0 803.0,393.9 804.0,396.4 805.0,398.7 806.0,400.6 807.0,402.3 808.0,403.8 809.0,405.1 810.0,406.2 811.0,407.3 812.0,408.2 813.0,409.0 814.0,409.7 815.0,410.4 816.0,410.9 817.0,411.4 818.0,411.9 819.0,412.3 820.0,412.6 821.0,412.9 822.0,413.2 822.0,414.3 821.0,414.3 820.0,414.3 819.0,414.3 818.0,414.2 817.0,414.2 816.0,414.1 815.0,414.1 814.0,414.1 813.0,414.0 812.0,414.0 811.0,414.0 810.0,413.9 809.0,413.9 808.0,413.8 807.0,413.8 806.0,413.8 805.0,413.7 804.0,413.7 803.0,413.6 802.0,413.6 801.0,413.6 800.0,413.5 799.0,413.5 798.0,413.5 797.0,413.4 796.0,413.4 795.0,413.3 794.0,413.3 793.0,413.3 792.0,413.2 791.0,413.2 790.0,413.1 789.0,413.1 788.0,413.1 787.0,413.0 786.0,413.0 785.0,413.0 784.0,412.9 783.0,412.9 782.0,412.8 781.0,412.8 780.0,412.8 779.0,412.7 778.0,412.7 777.0,412.7 776.0,412.6 775.0,412.6 774.0,412.5 773.0,412.5 772.0,412.5 771.0,412.4 770.0,412.4 769.0,412.3 768.0,412.3 767.0,412.3 766.0,412.2 765.0,412.2 764.0,412.2 763.0,412.1 762.0,412.1 761.0,412.0 760.0,412.0 759.0,412.0 758.0,412.0 757.0,412.0 756.0,412.0 755.0,412.0 754.0,412.0 753.0,412.0 752.0,412.0 751.0,412.0 750.0,412.0 749.0,412.0 748.0,412.0 747.0,412.0 746.0,412.0 745.0,412.0" fill="#f6b914"/>
<polygon points="782.0,411.6 783.0,411.3 784.0,410.9 785.0,410.5 786.0,410.0 787.0,409.5 788.0,408.8 789.0,408.1 790.0,407.3 791.0,406.3 792.0,405.3 793.0,404.0 794.0,402.6 795.0,401.1 796.0,399.3 797.0,397.3 798.0,395.0 799.0,392.3 800.0,389.2 801.0,385.6 802.0,381.5 803.0,376.9 804.0,371.7 805.0,366.0 806.0,359.7 807.0,353.0 808.0,345.8 809.0,338.3 810.0,330.5 811.0,322.6 812.0,314.8 813.0,307.1 814.0,299.9 815.0,293.3 816.0,287.7 817.0,283.2 818.0,280.1 819.0,278.5 820.0,278.5 821.0,280.1 822.0,283.3 823.0,287.9 824.0,293.6 825.0,300.2 826.0,307.5 827.0,315.2 828.0,323.1 829.0,331.0 830.0,338.9 831.0,346.4 832.0,353.7 833.0,360.4 834.0,366.7 835.0,372.5 836.0,377.7 837.0,382.4 838.0,386.6 839.0,390.2 840.0,393.4 841.0,396.1 842.0,398.5 843.0,400.5 844.0,402.3 845.0,404.0 846.0,405.4 847.0,406.7 848.0,407.8 849.0,408.8 850.0,409.7 851.0,410.4 852.0,411.1 853.0,411.7 854.0,412.3 855.0,412.7 856.0,413.1 857.0,413.5 857.0,414.8 856.0,414.7 855.0,414.7 854.0,414.7 853.0,414.7 852.0,414.7 851.0,414.7 850.0,414.7 849.0,414.7 848.0,414.6 847.0,414.6 846.0,414.6 845.0,414.6 844.0,414.6 843.0,414.6 842.0,414.6 841.0,414.6 840.0,414.5 839.0,414.5 838.0,414.5 837.0,414.5 836.0,414.5 835.0,414.5 834.0,414.5 833.0,414.5 832.0,414.4 831.0,414.4 830.0,414.4 829.0,414.4 828.0,414.4 827.0,414.4 826.0,414.4 825.0,414.4 824.0,414.3 823.0,414.3 822.0,414.3 821.0,414.3 820.0,414.3 819.0,414.3 818.0,414.2 817.0,414.2 816.0,414.1 815.0,414.1 814.0,414.1 813.0,414.0 812.0,414.0 811.0,414.0 810.0,413.9 809.0,413.9 808.0,413.8 807.0,413.8 806.0,413.8 805.0,413.7 804.0,413.7 803.0,413.6 802.0,413.6 801.0,413.6 800.0,413.5 799.0,413.5 798.0,413.5 797.0,413.4 796.0,413.4 795.0,413.3 794.0,413.3 793.0,413.3 792.0,413.2 791.0,413.2 790.0,413.1 789.0,413.1 788.0,413.1 787.0,413.0 786.0,413.0 785.0,413.0 784.0,412.9 783.0,412.9 782.0,412.8" fill="#48aee0"/>
<polygon points="741.0,602.4 742.0,602.2 743.0,602.0 744.0,601.7 745.0,601.3 746.0,601.0 747.0,600.6 748.0,600.1 749.0,599.6 750.0,599.0 751.0,598.4 752.0,597.7 753.0,596.9 754.0,596.0 755.0,595.0 756.0,593.9 757.0,592.7 758.0,591.3 759.0,589.7 760.0,587.8 761.0,585.8 762.0,583.5 763.0,580.9 764.0,578.1 765.0,575.0 766.0,571.7 767.0,568.1 768.0,564.3 769.0,560.3 770.0,556.1 771.0,551.8 772.0,547.5 773.0,543.1 774.0,538.9 775.0,534.7 776.0,530.8 777.0,527.3 778.0,524.2 779.0,521.7 780.0,519.9 781.0,518.7 782.0,518.3 783.0,518.9 784.0,520.3 785.0,522.6 786.0,525.6 787.0,529.3 788.0,533.4 789.0,537.9 790.0,542.6 791.0,547.5 792.0,552.3 793.0,557.0 794.0,561.6 795.0,566.0 796.0,570.2 797.0,574.1 798.0,577.6 799.0,580.9 800.0,583.8 801.0,586.4 802.0,588.7 803.0,590.8 804.0,592.6 805.0,594.1 806.0,595.4 807.0,596.6 808.0,597.7 809.0,598.6 810.0,599.5 811.0,600.3 812.0,600.9 813.0,601.5 814.0,602.1 815.0,602.5 816.0,603.0 817.0,603.3 818.0,603.7 819.0,604.0 820.0,604.3 820.0,605.3 819.0,605.3 818.0,605.2 817.0,605.2 816.0,605.2 815.0,605.2 814.0,605.1 813.0,605.1 812.0,605.1 811.0,605.1 810.0,605.0 809.0,605.0 808.0,605.0 807.0,605.0 806.0,604.9 805.0,604.9 804.0,604.9 803.0,604.9 802.0,604.8 801.0,604.8 800.0,604.8 799.0,604.8 798.0,604.8 797.0,604.7 796.0,604.7 795.0,604.7 794.0,604.6 793.0,604.6 792.0,604.6 791.0,604.6 790.0,604.5 789.0,604.5 788.0,604.5 787.0,604.5 786.0,604.4 785.0,604.4 784.0,604.4 783.0,604.4 782.0,604.3 781.0,604.3 780.0,604.3 779.0,604.3 778.0,604.3 777.0,604.2 776.0,604.2 775.0,604.2 774.0,604.2 773.0,604.2 772.0,604.2 771.0,604.1 770.0,604.1 769.0,604.1 768.0,604.1 767.0,604.1 766.0,604.1 765.0,604.0 764.0,604.0 763.0,604.0 762.0,604.0 761.0,604.0 760.0,604.0 759.0,603.9 758.0,603.9 757.0,603.9 756.0,603.9 755.0,603.9 754.0,603.9 753.0,603.8 752.0,603.8 751.0,603.8 750.0,603.8 749.0,603.8 748.0,603.8 747.0,603.7 746.0,603.7 745.0,603.7 744.0,603.7 743.0,603.7 742.0,603.7 741.0,603.6" fill="#f6b914"/>
<polygon points="779.0,603.1 780.0,602.8 781.0,602.4 782.0,602.1 783.0,601.6 784.0,601.1 785.0,600.6 786.0,599.9 787.0,599.2 788.0,598.4 789.0,597.5 790.0,596.5 791.0,595.3 792.0,594.0 793.0,592.5 794.0,590.9 795.0,589.1 796.0,587.0 797.0,584.5 798.0,581.7 799.0,578.5 800.0,574.9 801.0,570.8 802.0,566.3 803.0,561.3 804.0,555.8 805.0,550.0 806.0,543.7 807.0,537.1 808.0,530.3 809.0,523.3 810.0,516.2 811.0,509.2 812.0,502.4 813.0,496.0 814.0,490.2 815.0,485.2 816.0,481.1 817.0,478.2 818.0,476.6 819.0,476.3 820.0,477.5 821.0,479.9 822.0,483.6 823.0,488.3 824.0,493.8 825.0,500.1 826.0,506.8 827.0,513.8 828.0,520.9 829.0,528.0 830.0,535.0 831.0,541.7 832.0,548.2 833.0,554.2 834.0,559.9 835.0,565.1 836.0,569.9 837.0,574.2 838.0,578.0 839.0,581.5 840.0,584.5 841.0,587.1 842.0,589.4 843.0,591.4 844.0,593.1 845.0,594.7 846.0,596.1 847.0,597.4 848.0,598.5 849.0,599.5 850.0,600.4 851.0,601.2 852.0,601.9 853.0,602.6 854.0,603.1 855.0,603.6 856.0,604.1 857.0,604.5 858.0,604.8 859.0,605.2 859.0,606.2 858.0,606.2 857.0,606.1 856.0,606.1 855.0,606.1 854.0,606.1 853.0,606.1 852.0,606.0 851.0,606.0 850.0,606.0 849.0,606.0 848.0,605.9 847.0,605.9 846.0,605.9 845.0,605.9 844.0,605.8 843.0,605.8 842.0,605.8 841.0,605.8 840.0,605.8 839.0,605.7 838.0,605.7 837.0,605.7 836.0,605.7 835.0,605.6 834.0,605.6 833.0,605.6 832.0,605.6 831.0,605.6 830.0,605.5 829.0,605.5 828.0,605.5 827.0,605.5 826.0,605.4 825.0,605.4 824.0,605.4 823.0,605.4 822.0,605.3 821.0,605.3 820.0,605.3 819.0,605.3 818.0,605.2 817.0,605.2 816.0,605.2 815.0,605.2 814.0,605.1 813.0,605.1 812.0,605.1 811.0,605.1 810.0,605.0 809.0,605.0 808.0,605.0 807.0,605.0 806.0,604.9 805.0,604.9 804.0,604.9 803.0,604.9 802.0,604.8 801.0,604.8 800.0,604.8 799.0,604.8 798.0,604.8 797.0,604.7 796.0,604.7 795.0,604.7 794.0,604.6 793.0,604.6 792.0,604.6 791.0,604.6 790.0,604.5 789.0,604.5 788.0,604.5 787.0,604.5 786.0,604.4 785.0,604.4 784.0,604.4 783.0,604.4 782.0,604.3 781.0,604.3 780.0,604.3 779.0,604.3" fill="#48aee0"/>
<polygon points="744.0,779.1 745.0,778.9 746.0,778.7 747.0,778.4 748.0,778.2 749.0,777.9 750.0,777.5 751.0,777.1 752.0,776.7 753.0,776.2 754.0,775.6 755.0,775.0 756.0,774.3 757.0,773.6 758.0,772.7 759.0,771.8 760.0,770.7 761.0,769.5 762.0,768.1 763.0,766.5 764.0,764.8 765.0,762.9 766.0,760.8 767.0,758.4 768.0,755.9 769.0,753.3 770.0,750.4 771.0,747.5 772.0,744.4 773.0,741.3 774.0,738.1 775.0,735.0 776.0,732.0 777.0,729.1 778.0,726.5 779.0,724.2 780.0,722.3 781.0,720.8 782.0,719.9 783.0,719.5 784.0,719.8 785.0,720.7 786.0,722.3 787.0,724.4 788.0,727.0 789.0,730.0 790.0,733.2 791.0,736.6 792.0,740.1 793.0,743.7 794.0,747.1 795.0,750.5 796.0,753.8 797.0,756.8 798.0,759.7 799.0,762.3 800.0,764.7 801.0,766.9 802.0,768.9 803.0,770.7 804.0,772.2 805.0,773.6 806.0,774.7 807.0,775.8 808.0,776.7 809.0,777.5 810.0,778.2 811.0,778.9 812.0,779.5 813.0,780.0 814.0,780.5 815.0,780.9 816.0,781.3 817.0,781.7 818.0,782.0 819.0,782.3 819.0,783.4 818.0,783.4 817.0,783.3 816.0,783.3 815.0,783.2 814.0,783.2 813.0,783.1 812.0,783.1 811.0,783.0 810.0,783.0 809.0,782.9 808.0,782.9 807.0,782.8 806.0,782.8 805.0,782.7 804.0,782.6 803.0,782.6 802.0,782.5 801.0,782.5 800.0,782.4 799.0,782.4 798.0,782.3 797.0,782.3 796.0,782.2 795.0,782.2 794.0,782.1 793.0,782.1 792.0,782.0 791.0,782.0 790.0,781.9 789.0,781.8 788.0,781.8 787.0,781.7 786.0,781.7 785.0,781.6 784.0,781.6 783.0,781.5 782.0,781.5 781.0,781.4 780.0,781.4 779.0,781.3 778.0,781.3 777.0,781.2 776.0,781.2 775.0,781.1 774.0,781.0 773.0,781.0 772.0,780.9 771.0,780.9 770.0,780.8 769.0,780.8 768.0,780.7 767.0,780.7 766.0,780.6 765.0,780.6 764.0,780.5 763.0,780.5 762.0,780.4 761.0,780.4 760.0,780.3 759.0,780.3 758.0,780.3 757.0,780.3 756.0,780.3 755.0,780.3 754.0,780.3 753.0,780.3 752.0,780.3 751.0,780.2 750.0,780.2 749.0,780.2 748.0,780.2 747.0,780.2 746.0,780.2 745.0,780.2 744.0,780.2" fill="#f6b914"/>
<polygon points="779.0,780.2 780.0,780.0 781.0,779.7 782.0,779.3 783.0,778.9 784.0,778.4 785.0,777.9 786.0,777.3 787.0,776.6 788.0,775.8 789.0,775.0 790.0,774.0 791.0,772.8 792.0,771.5 793.0,770.1 794.0,768.5 795.0,766.7 796.0,764.6 797.0,762.2 798.0,759.5 799.0,756.3 800.0,752.7 801.0,748.7 802.0,744.1 803.0,739.1 804.0,733.5 805.0,727.4 806.0,720.9 807.0,714.0 808.0,706.7 809.0,699.1 810.0,691.4 811.0,683.6 812.0,676.0 813.0,668.6 814.0,661.7 815.0,655.5 816.0,650.2 817.0,646.0 818.0,643.1 819.0,641.6 820.0,641.7 821.0,643.0 822.0,645.7 823.0,649.5 824.0,654.3 825.0,660.0 826.0,666.3 827.0,673.2 828.0,680.3 829.0,687.7 830.0,695.1 831.0,702.4 832.0,709.5 833.0,716.4 834.0,722.9 835.0,729.1 836.0,734.8 837.0,740.2 838.0,745.1 839.0,749.5 840.0,753.5 841.0,757.1 842.0,760.3 843.0,763.1 844.0,765.6 845.0,767.8 846.0,769.6 847.0,771.4 848.0,772.9 849.0,774.4 850.0,775.6 851.0,776.8 852.0,777.8 853.0,778.7 854.0,779.5 855.0,780.3 856.0,780.9 857.0,781.5 858.0,782.1 859.0,782.6 860.0,783.0 861.0,783.4 862.0,783.8 862.0,785.0 861.0,785.0 860.0,785.0 859.0,784.9 858.0,784.9 857.0,784.9 856.0,784.8 855.0,784.8 854.0,784.7 853.0,784.7 852.0,784.7 851.0,784.6 850.0,784.6 849.0,784.6 848.0,784.5 847.0,784.5 846.0,784.5 845.0,784.4 844.0,784.4 843.0,784.3 842.0,784.3 841.0,784.3 840.0,784.2 839.0,784.2 838.0,784.2 837.0,784.1 836.0,784.1 835.0,784.1 834.0,784.0 833.0,784.0 832.0,783.9 831.0,783.9 830.0,783.9 829.0,783.8 828.0,783.8 827.0,783.8 826.0,783.7 825.0,783.7 824.0,783.6 823.0,783.6 822.0,783.6 821.0,783.5 820.0,783.5 819.0,783.4 818.0,783.4 817.0,783.3 816.0,783.3 815.0,783.2 814.0,783.2 813.0,783.1 812.0,783.1 811.0,783.0 810.0,783.0 809.0,782.9 808.0,782.9 807.0,782.8 806.0,782.8 805.0,782.7 804.0,782.6 803.0,782.6 802.0,782.5 801.0,782.5 800.0,782.4 799.0,782.4 798.0,782.3 797.0,782.3 796.0,782.2 795.0,782.2 794.0,782.1 793.0,782.1 792.0,782.0 791.0,782.0 790.0,781.9 789.0,781.8 788.0,781.8 787.0,781.7 786.0,781.7 785.0,781.6 784.0,781.6 783.0,781.5 782.0,781.5 781.0,781.4 780.0,781.4 779.0,781.3" fill="#48aee0"/>
<polygon points="1033.0,407.9 1034.0,407.6 1035.0,407.2 1036.0,406.7 1037.0,406.2 1038.0,405.6 1039.0,404.8 1040.0,404.0 1041.0,403.1 1042.0,402.0 1043.0,400.8 1044.0,399.4 1045.0,397.8 1046.0,396.0 1047.0,393.9 1048.0,391.7 1049.0,389.1 1050.0,386.3 1051.0,383.1 1052.0,379.8 1053.0,376.1 1054.0,372.2 1055.0,368.1 1056.0,363.8 1057.0,359.0 1058.0,353.9 1059.0,348.4 1060.0,342.5 1061.0,336.4 1062.0,329.9 1063.0,323.1 1064.0,316.2 1065.0,309.1 1066.0,301.9 1067.0,294.6 1068.0,287.5 1069.0,280.5 1070.0,273.9 1071.0,267.6 1072.0,261.9 1073.0,256.9 1074.0,252.6 1075.0,249.3 1076.0,247.0 1077.0,245.7 1078.0,245.6 1079.0,246.6 1080.0,248.7 1081.0,251.8 1082.0,255.9 1083.0,260.7 1084.0,266.3 1085.0,272.4 1086.0,279.0 1087.0,285.9 1088.0,292.9 1089.0,300.1 1090.0,307.3 1091.0,314.4 1092.0,321.4 1093.0,328.2 1094.0,334.7 1095.0,340.9 1096.0,346.8 1097.0,352.3 1098.0,357.5 1099.0,362.3 1100.0,366.7 1101.0,370.8 1102.0,374.7 1103.0,378.4 1104.0,381.8 1105.0,385.0 1106.0,387.8 1107.0,390.4 1108.0,392.8 1109.0,394.8 1110.0,396.6 1111.0,398.3 1112.0,399.7 1113.0,400.9 1114.0,402.0 1115.0,402.9 1116.0,403.7 1117.0,404.4 1118.0,405.1 1119.0,405.6 1120.0,406.0 1121.0,406.4 1122.0,406.8 1122.0,408.0 1121.0,408.0 1120.0,408.0 1119.0,408.0 1118.0,408.0 1117.0,408.0 1116.0,408.0 1115.0,408.1 1114.0,408.1 1113.0,408.1 1112.0,408.1 1111.0,408.1 1110.0,408.1 1109.0,408.1 1108.0,408.1 1107.0,408.2 1106.0,408.2 1105.0,408.2 1104.0,408.2 1103.0,408.2 1102.0,408.2 1101.0,408.2 1100.0,408.2 1099.0,408.3 1098.0,408.3 1097.0,408.3 1096.0,408.3 1095.0,408.3 1094.0,408.3 1093.0,408.3 1092.0,408.3 1091.0,408.4 1090.0,408.4 1089.0,408.4 1088.0,408.4 1087.0,408.4 1086.0,408.4 1085.0,408.4 1084.0,408.4 1083.0,408.5 1082.0,408.5 1081.0,408.5 1080.0,408.5 1079.0,408.5 1078.0,408.5 1077.0,408.5 1076.0,408.5 1075.0,408.6 1074.0,408.6 1073.0,408.6 1072.0,408.6 1071.0,408.6 1070.0,408.6 1069.0,408.6 1068.0,408.6 1067.0,408.7 1066.0,408.7 1065.0,408.7 1064.0,408.7 1063.0,408.7 1062.0,408.7 1061.0,408.7 1060.0,408.7 1059.0,408.8 1058.0,408.8 1057.0,408.8 1056.0,408.8 1055.0,408.8 1054.0,408.8 1053.0,408.8 1052.0,408.8 1051.0,408.9 1050.0,408.9 1049.0,408.9 1048.0,408.9 1047.0,408.9 1046.0,408.9 1045.0,408.9 1044.0,408.9 1043.0,409.0 1042.0,409.0 1041.0,409.0 1040.0,409.0 1039.0,409.0 1038.0,409.0 1037.0,409.0 1036.0,409.0 1035.0,409.1 1034.0,409.1 1033.0,409.1" fill="#f6532a"/>
<polygon points="997.0,607.0 998.0,606.9 999.0,606.8 1000.0,606.7 1001.0,606.6 1002.0,606.5 1003.0,606.4 1004.0,606.3 1005.0,606.2 1006.0,606.1 1007.0,606.0 1008.0,605.9 1009.0,605.8 1010.0,605.6 1011.0,605.5 1012.0,605.4 1013.0,605.3 1014.0,605.2 1015.0,605.0 1016.0,604.9 1017.0,604.7 1018.0,604.6 1019.0,604.4 1020.0,604.3 1021.0,604.1 1022.0,603.9 1023.0,603.7 1024.0,603.5 1025.0,603.3 1026.0,603.0 1027.0,602.7 1028.0,602.4 1029.0,602.1 1030.0,601.7 1031.0,601.3 1032.0,600.8 1033.0,600.2 1034.0,599.6 1035.0,598.8 1036.0,598.0 1037.0,597.1 1038.0,596.0 1039.0,594.8 1040.0,593.4 1041.0,591.9 1042.0,590.2 1043.0,588.3 1044.0,586.1 1045.0,583.8 1046.0,581.2 1047.0,578.3 1048.0,575.2 1049.0,571.9 1050.0,568.3 1051.0,564.4 1052.0,560.3 1053.0,556.0 1054.0,551.5 1055.0,546.8 1056.0,542.0 1057.0,537.1 1058.0,532.1 1059.0,527.1 1060.0,522.1 1061.0,517.2 1062.0,512.5 1063.0,508.0 1064.0,503.7 1065.0,499.9 1066.0,496.4 1067.0,493.5 1068.0,491.1 1069.0,489.3 1070.0,488.2 1071.0,487.7 1072.0,487.9 1073.0,488.8 1074.0,490.3 1075.0,492.4 1076.0,495.1 1077.0,498.3 1078.0,501.9 1079.0,505.9 1080.0,510.3 1081.0,514.8 1082.0,519.5 1083.0,524.3 1084.0,529.2 1085.0,534.1 1086.0,538.9 1087.0,543.6 1088.0,548.2 1089.0,552.6 1090.0,556.8 1091.0,560.8 1092.0,564.5 1093.0,568.0 1094.0,571.3 1095.0,574.3 1096.0,577.0 1097.0,579.6 1098.0,581.8 1099.0,583.9 1100.0,585.7 1101.0,587.3 1102.0,588.7 1103.0,590.0 1104.0,591.1 1105.0,592.0 1106.0,592.8 1107.0,593.5 1108.0,594.2 1109.0,594.7 1110.0,595.1 1111.0,595.5 1112.0,595.8 1113.0,596.0 1114.0,596.2 1115.0,596.4 1116.0,596.6 1117.0,596.7 1118.0,596.8 1119.0,596.8 1120.0,596.9 1121.0,596.9 1122.0,597.0 1123.0,597.0 1124.0,597.0 1125.0,597.0 1126.0,597.0 1127.0,597.0 1128.0,597.0 1129.0,597.0 1130.0,597.0 1131.0,596.9 1132.0,596.9 1133.0,596.9 1134.0,596.9 1135.0,596.8 1136.0,596.8 1137.0,596.8 1138.0,596.7 1139.0,596.7 1140.0,596.7 1141.0,596.6 1142.0,596.6 1143.0,596.6 1144.0,596.5 1145.0,596.5 1146.0,596.5 1146.0,597.5 1145.0,597.5 1144.0,597.6 1143.0,597.6 1142.0,597.7 1141.0,597.8 1140.0,597.9 1139.0,597.9 1138.0,598.0 1137.0,598.1 1136.0,598.1 1135.0,598.2 1134.0,598.3 1133.0,598.3 1132.0,598.4 1131.0,598.5 1130.0,598.6 1129.0,598.6 1128.0,598.7 1127.0,598.8 1126.0,598.8 1125.0,598.9 1124.0,599.0 1123.0,599.0 1122.0,599.1 1121.0,599.2 1120.0,599.3 1119.0,599.3 1118.0,599.4 1117.0,599.5 1116.0,599.5 1115.0,599.6 1114.0,599.7 1113.0,599.7 1112.0,599.8 1111.0,599.9 1110.0,600.0 1109.0,600.0 1108.0,600.1 1107.0,600.2 1106.0,600.2 1105.0,600.3 1104.0,600.4 1103.0,600.4 1102.0,600.5 1101.0,600.6 1100.0,600.7 1099.0,600.7 1098.0,600.8 1097.0,600.9 1096.0,600.9 1095.0,601.0 1094.0,601.1 1093.0,601.1 1092.0,601.2 1091.0,601.3 1090.0,601.4 1089.0,601.4 1088.0,601.5 1087.0,601.6 1086.0,601.6 1085.0,601.7 1084.0,601.8 1083.0,601.8 1082.0,601.9 1081.0,602.0 1080.0,602.1 1079.0,602.1 1078.0,602.2 1077.0,602.3 1076.0,602.3 1075.0,602.4 1074.0,602.5 1073.0,602.6 1072.0,602.6 1071.0,602.7 1070.0,602.8 1069.0,602.9 1068.0,602.9 1067.0,603.0 1066.0,603.1 1065.0,603.1 1064.0,603.2 1063.0,603.3 1062.0,603.4 1061.0,603.4 1060.0,603.5 1059.0,603.6 1058.0,603.6 1057.0,603.7 1056.0,603.8 1055.0,603.9 1054.0,603.9 1053.0,604.0 1052.0,604.1 1051.0,604.2 1050.0,604.2 1049.0,604.3 1048.0,604.4 1047.0,604.4 1046.0,604.5 1045.0,604.6 1044.0,604.7 1043.0,604.7 1042.0,604.8 1041.0,604.9 1040.0,605.0 1039.0,605.0 1038.0,605.1 1037.0,605.2 1036.0,605.2 1035.0,605.3 1034.0,605.4 1033.0,605.5 1032.0,605.5 1031.0,605.6 1030.0,605.7 1029.0,605.8 1028.0,605.8 1027.0,605.9 1026.0,606.0 1025.0,606.0 1024.0,606.1 1023.0,606.2 1022.0,606.3 1021.0,606.3 1020.0,606.4 1019.0,606.5 1018.0,606.5 1017.0,606.6 1016.0,606.7 1015.0,606.8 1014.0,606.8 1013.0,606.9 1012.0,607.0 1011.0,607.1 1010.0,607.1 1009.0,607.2 1008.0,607.3 1007.0,607.3 1006.0,607.4 1005.0,607.5 1004.0,607.6 1003.0,607.6 1002.0,607.7 1001.0,607.8 1000.0,607.9 999.0,607.9 998.0,608.0 997.0,608.1" fill="#f6532a"/>
<polygon points="1068.0,601.9 1069.0,601.7 1070.0,601.5 1071.0,601.2 1072.0,601.0 1073.0,600.7 1074.0,600.3 1075.0,599.9 1076.0,599.5 1077.0,599.0 1078.0,598.5 1079.0,597.9 1080.0,597.2 1081.0,596.5 1082.0,595.7 1083.0,594.8 1084.0,593.9 1085.0,593.0 1086.0,591.9 1087.0,590.9 1088.0,589.8 1089.0,588.6 1090.0,587.5 1091.0,586.3 1092.0,585.2 1093.0,584.1 1094.0,583.0 1095.0,582.1 1096.0,581.2 1097.0,580.4 1098.0,579.7 1099.0,579.2 1100.0,578.8 1101.0,578.6 1102.0,578.5 1103.0,578.6 1104.0,578.8 1105.0,579.2 1106.0,579.6 1107.0,580.1 1108.0,580.8 1109.0,581.5 1110.0,582.2 1111.0,583.0 1112.0,583.9 1113.0,584.7 1114.0,585.6 1115.0,586.5 1116.0,587.3 1117.0,588.2 1118.0,589.0 1119.0,589.8 1120.0,590.6 1121.0,591.3 1122.0,592.0 1123.0,592.6 1124.0,593.2 1125.0,593.7 1126.0,594.2 1127.0,594.6 1128.0,595.0 1129.0,595.3 1130.0,595.6 1131.0,595.9 1132.0,596.1 1133.0,596.3 1134.0,596.4 1135.0,596.6 1136.0,596.7 1137.0,596.8 1138.0,596.8 1139.0,596.9 1139.0,597.9 1138.0,598.0 1137.0,598.1 1136.0,598.1 1135.0,598.2 1134.0,598.3 1133.0,598.3 1132.0,598.4 1131.0,598.5 1130.0,598.6 1129.0,598.6 1128.0,598.7 1127.0,598.8 1126.0,598.8 1125.0,598.9 1124.0,599.0 1123.0,599.0 1122.0,599.1 1121.0,599.2 1120.0,599.3 1119.0,599.3 1118.0,599.4 1117.0,599.5 1116.0,599.5 1115.0,599.6 1114.0,599.7 1113.0,599.7 1112.0,599.8 1111.0,599.9 1110.0,600.0 1109.0,600.0 1108.0,600.1 1107.0,600.2 1106.0,600.2 1105.0,600.3 1104.0,600.4 1103.0,600.4 1102.0,600.5 1101.0,600.6 1100.0,600.7 1099.0,600.7 1098.0,600.8 1097.0,600.9 1096.0,600.9 1095.0,601.0 1094.0,601.1 1093.0,601.1 1092.0,601.2 1091.0,601.3 1090.0,601.4 1089.0,601.4 1088.0,601.5 1087.0,601.6 1086.0,601.6 1085.0,601.7 1084.0,601.8 1083.0,601.8 1082.0,601.9 1081.0,602.0 1080.0,602.1 1079.0,602.1 1078.0,602.2 1077.0,602.3 1076.0,602.3 1075.0,602.4 1074.0,602.5 1073.0,602.6 1072.0,602.6 1071.0,602.7 1070.0,602.8 1069.0,602.9 1068.0,602.9" fill="#48aee0"/>
<polygon points="1038.0,772.0 1039.0,771.8 1040.0,771.6 1041.0,771.4 1042.0,771.2 1043.0,771.0 1044.0,770.7 1045.0,770.4 1046.0,770.1 1047.0,769.7 1048.0,769.3 1049.0,768.8 1050.0,768.2 1051.0,767.5 1052.0,766.8 1053.0,765.9 1054.0,764.9 1055.0,763.8 1056.0,762.6 1057.0,761.3 1058.0,759.8 1059.0,758.1 1060.0,756.4 1061.0,754.5 1062.0,752.4 1063.0,750.3 1064.0,748.0 1065.0,745.7 1066.0,743.4 1067.0,741.0 1068.0,738.7 1069.0,736.4 1070.0,734.2 1071.0,732.1 1072.0,730.2 1073.0,728.6 1074.0,727.2 1075.0,726.1 1076.0,725.4 1077.0,725.0 1078.0,725.0 1079.0,725.4 1080.0,726.1 1081.0,727.2 1082.0,728.6 1083.0,730.2 1084.0,732.0 1085.0,734.0 1086.0,736.1 1087.0,738.3 1088.0,740.5 1089.0,742.8 1090.0,745.0 1091.0,747.1 1092.0,749.2 1093.0,751.2 1094.0,753.0 1095.0,754.7 1096.0,756.3 1097.0,757.8 1098.0,759.1 1099.0,760.3 1100.0,761.3 1101.0,762.2 1102.0,763.0 1103.0,763.7 1104.0,764.3 1105.0,764.8 1106.0,765.2 1107.0,765.5 1108.0,765.8 1109.0,766.1 1110.0,766.3 1111.0,766.4 1112.0,766.5 1113.0,766.6 1114.0,766.7 1115.0,766.7 1116.0,766.8 1117.0,766.8 1117.0,767.8 1116.0,767.9 1115.0,767.9 1114.0,768.0 1113.0,768.0 1112.0,768.1 1111.0,768.1 1110.0,768.2 1109.0,768.2 1108.0,768.3 1107.0,768.3 1106.0,768.4 1105.0,768.4 1104.0,768.5 1103.0,768.6 1102.0,768.6 1101.0,768.7 1100.0,768.7 1099.0,768.8 1098.0,768.8 1097.0,768.9 1096.0,768.9 1095.0,769.0 1094.0,769.0 1093.0,769.1 1092.0,769.1 1091.0,769.2 1090.0,769.3 1089.0,769.3 1088.0,769.4 1087.0,769.4 1086.0,769.5 1085.0,769.5 1084.0,769.6 1083.0,769.6 1082.0,769.7 1081.0,769.7 1080.0,769.8 1079.0,769.8 1078.0,769.9 1077.0,770.0 1076.0,770.1 1075.0,770.1 1074.0,770.2 1073.0,770.3 1072.0,770.4 1071.0,770.4 1070.0,770.5 1069.0,770.6 1068.0,770.7 1067.0,770.8 1066.0,770.8 1065.0,770.9 1064.0,771.0 1063.0,771.1 1062.0,771.1 1061.0,771.2 1060.0,771.3 1059.0,771.4 1058.0,771.5 1057.0,771.5 1056.0,771.6 1055.0,771.7 1054.0,771.8 1053.0,771.8 1052.0,771.9 1051.0,772.0 1050.0,772.1 1049.0,772.2 1048.0,772.2 1047.0,772.3 1046.0,772.4 1045.0,772.5 1044.0,772.5 1043.0,772.6 1042.0,772.7 1041.0,772.8 1040.0,772.9 1039.0,772.9 1038.0,773.0" fill="#f6532a"/>
<polygon points="1069.0,769.6 1070.0,769.4 1071.0,769.3 1072.0,769.1 1073.0,768.9 1074.0,768.7 1075.0,768.5 1076.0,768.2 1077.0,767.8 1078.0,767.4 1079.0,766.9 1080.0,766.2 1081.0,765.3 1082.0,764.2 1083.0,762.8 1084.0,760.9 1085.0,758.7 1086.0,755.9 1087.0,752.5 1088.0,748.4 1089.0,743.7 1090.0,738.3 1091.0,732.2 1092.0,725.6 1093.0,718.4 1094.0,711.0 1095.0,703.5 1096.0,696.1 1097.0,689.2 1098.0,683.0 1099.0,678.0 1100.0,674.2 1101.0,672.1 1102.0,671.7 1103.0,672.6 1104.0,674.9 1105.0,678.2 1106.0,682.5 1107.0,687.6 1108.0,693.3 1109.0,699.4 1110.0,705.8 1111.0,712.1 1112.0,718.3 1113.0,724.3 1114.0,730.0 1115.0,735.2 1116.0,740.0 1117.0,744.2 1118.0,748.0 1119.0,751.2 1120.0,754.0 1121.0,756.3 1122.0,758.3 1123.0,759.9 1124.0,761.2 1125.0,762.2 1126.0,763.0 1127.0,763.7 1128.0,764.1 1129.0,764.5 1130.0,764.8 1131.0,765.0 1132.0,765.2 1133.0,765.3 1134.0,765.4 1135.0,765.4 1136.0,765.5 1137.0,765.5 1138.0,765.5 1139.0,765.5 1140.0,765.5 1140.0,766.6 1139.0,766.6 1138.0,766.7 1137.0,766.7 1136.0,766.8 1135.0,766.8 1134.0,766.9 1133.0,766.9 1132.0,767.0 1131.0,767.1 1130.0,767.1 1129.0,767.2 1128.0,767.2 1127.0,767.3 1126.0,767.3 1125.0,767.4 1124.0,767.4 1123.0,767.5 1122.0,767.5 1121.0,767.6 1120.0,767.6 1119.0,767.7 1118.0,767.8 1117.0,767.8 1116.0,767.9 1115.0,767.9 1114.0,768.0 1113.0,768.0 1112.0,768.1 1111.0,768.1 1110.0,768.2 1109.0,768.2 1108.0,768.3 1107.0,768.3 1106.0,768.4 1105.0,768.4 1104.0,768.5 1103.0,768.6 1102.0,768.6 1101.0,768.7 1100.0,768.7 1099.0,768.8 1098.0,768.8 1097.0,768.9 1096.0,768.9 1095.0,769.0 1094.0,769.0 1093.0,769.1 1092.0,769.1 1091.0,769.2 1090.0,769.3 1089.0,769.3 1088.0,769.4 1087.0,769.4 1086.0,769.5 1085.0,769.5 1084.0,769.6 1083.0,769.6 1082.0,769.7 1081.0,769.7 1080.0,769.8 1079.0,769.8 1078.0,769.9 1077.0,770.0 1076.0,770.1 1075.0,770.1 1074.0,770.2 1073.0,770.3 1072.0,770.4 1071.0,770.4 1070.0,770.5 1069.0,770.6" fill="#48aee0"/>
<polygon points="1108.0,767.3 1109.0,767.1 1110.0,766.9 1111.0,766.7 1112.0,766.5 1113.0,766.2 1114.0,765.9 1115.0,765.5 1116.0,765.1 1117.0,764.6 1118.0,764.1 1119.0,763.5 1120.0,762.8 1121.0,762.0 1122.0,761.2 1123.0,760.2 1124.0,759.2 1125.0,758.0 1126.0,756.7 1127.0,755.3 1128.0,753.9 1129.0,752.3 1130.0,750.6 1131.0,748.9 1132.0,747.1 1133.0,745.3 1134.0,743.4 1135.0,741.5 1136.0,739.7 1137.0,737.9 1138.0,736.2 1139.0,734.5 1140.0,733.0 1141.0,731.7 1142.0,730.5 1143.0,729.6 1144.0,728.9 1145.0,728.4 1146.0,728.2 1147.0,728.3 1148.0,728.7 1149.0,729.3 1150.0,730.1 1151.0,731.1 1152.0,732.4 1153.0,733.7 1154.0,735.3 1155.0,736.9 1156.0,738.6 1157.0,740.3 1158.0,742.1 1159.0,743.9 1160.0,745.6 1161.0,747.3 1162.0,748.9 1163.0,750.4 1164.0,751.9 1165.0,753.3 1166.0,754.5 1167.0,755.7 1168.0,756.7 1169.0,757.7 1170.0,758.5 1171.0,759.3 1172.0,760.0 1173.0,760.5 1174.0,761.0 1175.0,761.5 1176.0,761.8 1177.0,762.1 1178.0,762.4 1179.0,762.6 1180.0,762.7 1181.0,762.9 1182.0,763.0 1183.0,763.1 1184.0,763.1 1184.0,764.1 1183.0,764.2 1182.0,764.2 1181.0,764.3 1180.0,764.3 1179.0,764.4 1178.0,764.5 1177.0,764.5 1176.0,764.6 1175.0,764.6 1174.0,764.7 1173.0,764.7 1172.0,764.8 1171.0,764.8 1170.0,764.9 1169.0,765.0 1168.0,765.0 1167.0,765.1 1166.0,765.1 1165.0,765.2 1164.0,765.2 1163.0,765.3 1162.0,765.3 1161.0,765.4 1160.0,765.5 1159.0,765.5 1158.0,765.6 1157.0,765.6 1156.0,765.7 1155.0,765.7 1154.0,765.8 1153.0,765.9 1152.0,765.9 1151.0,766.0 1150.0,766.0 1149.0,766.1 1148.0,766.1 1147.0,766.2 1146.0,766.2 1145.0,766.3 1144.0,766.4 1143.0,766.4 1142.0,766.5 1141.0,766.5 1140.0,766.6 1139.0,766.6 1138.0,766.7 1137.0,766.7 1136.0,766.8 1135.0,766.8 1134.0,766.9 1133.0,766.9 1132.0,767.0 1131.0,767.1 1130.0,767.1 1129.0,767.2 1128.0,767.2 1127.0,767.3 1126.0,767.3 1125.0,767.4 1124.0,767.4 1123.0,767.5 1122.0,767.5 1121.0,767.6 1120.0,767.6 1119.0,767.7 1118.0,767.8 1117.0,767.8 1116.0,767.9 1115.0,767.9 1114.0,768.0 1113.0,768.0 1112.0,768.1 1111.0,768.1 1110.0,768.2 1109.0,768.2 1108.0,768.3" fill="#70c032"/>
<polyline points="470.0,238.5 474.0,238.5 478.0,238.6 482.0,238.7 486.0,238.8 490.0,238.9 494.0,239.1 498.0,239.2 502.0,239.3 506.0,239.5 510.0,239.6 514.0,239.8 518.0,239.9 522.0,240.0 526.0,240.2 530.0,240.3 534.0,240.4 538.0,240.6 542.0,240.7 546.0,240.8 550.0,241.0 554.0,241.1 558.0,241.3 562.0,241.4 566.0,241.5 570.0,241.7 574.0,241.8 578.0,241.9" fill="none" stroke="#4fd2f0" stroke-width="1.4"/>
<polyline points="480.0,411.6 484.0,411.7 488.0,411.9 492.0,412.0 496.0,412.2 500.0,412.3 504.0,412.5 508.0,412.6 512.0,412.7 516.0,412.9 520.0,413.0 524.0,413.2 528.0,413.3 532.0,413.5 536.0,413.6 540.0,413.7 544.0,413.9 548.0,414.0 552.0,414.2 556.0,414.3 560.0,414.5 564.0,414.6 568.0,414.7 572.0,414.9 576.0,415.0 580.0,415.2 584.0,415.3 588.0,415.5" fill="none" stroke="#4fd2f0" stroke-width="1.4"/>
<polyline points="470.0,601.0 474.0,601.1 478.0,601.3 482.0,601.4 486.0,601.5 490.0,601.7 494.0,601.8 498.0,601.9 502.0,602.0 506.0,602.2 510.0,602.3 514.0,602.4 518.0,602.6 522.0,602.7 526.0,602.8 530.0,603.0 534.0,603.1 538.0,603.2 542.0,603.4 546.0,603.5 550.0,603.6 554.0,603.7 558.0,603.9 562.0,604.0 566.0,604.1 570.0,604.3 574.0,604.4 578.0,604.5 582.0,604.7" fill="none" stroke="#4fd2f0" stroke-width="1.4"/>
<polyline points="470.0,778.2 474.0,778.4 478.0,778.5 482.0,778.7 486.0,778.9 490.0,779.0 494.0,779.2 498.0,779.4 502.0,779.6 506.0,779.7 510.0,779.9 514.0,780.1 518.0,780.3 522.0,780.5 526.0,780.6 530.0,780.8 534.0,781.0 538.0,781.2 542.0,781.3 546.0,781.5 550.0,781.7 554.0,781.9 558.0,782.0 562.0,782.2 566.0,782.4 570.0,782.6 574.0,782.8 578.0,783.0 582.0,783.2" fill="none" stroke="#4fd2f0" stroke-width="1.4"/>
<polyline points="735.0,237.2 739.0,237.2 743.0,237.2 747.0,237.2 751.0,237.1 755.0,237.1 759.0,237.1 763.0,237.2 767.0,237.4 771.0,237.6 775.0,237.8 779.0,238.0 783.0,238.2 787.0,238.4 791.0,238.6 795.0,238.8 799.0,239.0 803.0,239.2 807.0,239.4 811.0,239.6 815.0,239.8 819.0,240.0 823.0,240.1 827.0,240.2 831.0,240.3 835.0,240.4 839.0,240.4 843.0,240.5 847.0,240.6 851.0,240.7 855.0,240.8 859.0,240.9 863.0,241.0 867.0,241.1 871.0,241.2 875.0,241.3 879.0,241.4 883.0,241.5" fill="none" stroke="#4fd2f0" stroke-width="1.4"/>
<polyline points="730.0,412.6 734.0,412.6 738.0,412.6 742.0,412.6 746.0,412.6 750.0,412.6 754.0,412.6 758.0,412.6 762.0,412.7 766.0,412.8 770.0,413.0 774.0,413.1 778.0,413.3 782.0,413.4 786.0,413.6 790.0,413.8 794.0,413.9 798.0,414.1 802.0,414.2 806.0,414.4 810.0,414.5 814.0,414.7 818.0,414.8 822.0,414.9 826.0,415.0 830.0,415.0 834.0,415.1 838.0,415.1 842.0,415.2 846.0,415.2 850.0,415.3 854.0,415.3 858.0,415.4 862.0,415.4 866.0,415.5 870.0,415.5 874.0,415.6 878.0,415.6 882.0,415.7 886.0,415.7 890.0,415.8" fill="none" stroke="#4fd2f0" stroke-width="1.4"/>
<polyline points="725.0,604.0 729.0,604.0 733.0,604.1 737.0,604.2 741.0,604.2 745.0,604.3 749.0,604.4 753.0,604.4 757.0,604.5 761.0,604.6 765.0,604.6 769.0,604.7 773.0,604.8 777.0,604.8 781.0,604.9 785.0,605.0 789.0,605.1 793.0,605.2 797.0,605.3 801.0,605.4 805.0,605.5 809.0,605.6 813.0,605.7 817.0,605.8 821.0,605.9 825.0,606.0 829.0,606.1 833.0,606.2 837.0,606.3 841.0,606.4 845.0,606.5 849.0,606.6 853.0,606.7 857.0,606.7 861.0,606.8 865.0,606.9 869.0,607.0 873.0,607.1 877.0,607.2 881.0,607.3 885.0,607.4 889.0,607.5" fill="none" stroke="#4fd2f0" stroke-width="1.4"/>
<polyline points="712.0,780.6 716.0,780.6 720.0,780.7 724.0,780.7 728.0,780.7 732.0,780.7 736.0,780.8 740.0,780.8 744.0,780.8 748.0,780.8 752.0,780.9 756.0,780.9 760.0,780.9 764.0,781.1 768.0,781.3 772.0,781.5 776.0,781.8 780.0,782.0 784.0,782.2 788.0,782.4 792.0,782.6 796.0,782.8 800.0,783.0 804.0,783.2 808.0,783.5 812.0,783.7 816.0,783.9 820.0,784.1 824.0,784.2 828.0,784.4 832.0,784.5 836.0,784.7 840.0,784.8 844.0,785.0 848.0,785.1 852.0,785.3 856.0,785.4 860.0,785.6 864.0,785.7 868.0,785.9 872.0,786.0 876.0,786.2 880.0,786.3 884.0,786.5 888.0,786.6 892.0,786.7" fill="none" stroke="#4fd2f0" stroke-width="1.4"/>
<polyline points="1075.0,603.0 1079.0,602.7 1083.0,602.4 1087.0,602.2 1091.0,601.9 1095.0,601.6 1099.0,601.3 1103.0,601.0 1107.0,600.8 1111.0,600.5 1115.0,600.2 1119.0,599.9 1123.0,599.6 1127.0,599.4 1131.0,599.1 1135.0,598.8 1139.0,598.5 1143.0,598.2 1147.0,598.0" fill="none" stroke="#4fd2f0" stroke-width="1.4"/>
<polyline points="95.0,234.5 96.5,234.0 98.0,234.3 99.5,234.9 101.0,235.7 102.5,235.8 104.0,235.7 105.5,235.4 107.0,235.4 108.5,235.9 110.0,236.3 111.5,236.2 113.0,235.9 114.5,236.3 116.0,237.0 117.5,237.5 119.0,237.6 120.5,237.3 122.0,237.3 123.5,237.8 125.0,238.4 126.5,238.5 128.0,238.6 129.5,238.1 131.0,237.7 132.5,237.3 134.0,237.1 135.5,237.0 137.0,237.1 138.5,237.2 140.0,237.4 141.5,237.6 143.0,237.9 144.5,238.4 146.0,238.4 147.5,238.4 149.0,238.2 150.5,237.6 152.0,236.7 153.5,236.0 155.0,235.2 156.5,234.1 158.0,232.7 159.5,230.6" fill="none" stroke="#777" stroke-width="1.1" stroke-dasharray="1.6 1.8"/>
<polyline points="100.0,412.7 101.5,412.5 103.0,412.5 104.5,412.6 106.0,412.8 107.5,413.4 109.0,414.1 110.5,414.5 112.0,414.7 113.5,414.4 115.0,414.0 116.5,414.1 118.0,414.3 119.5,414.2 121.0,413.9 122.5,413.6 124.0,413.7 125.5,414.1 127.0,414.6 128.5,414.8 130.0,414.4 131.5,413.6 133.0,412.5 134.5,411.5 136.0,410.9 137.5,411.0 139.0,411.5 140.5,412.3 142.0,413.1 143.5,413.7 145.0,413.8 146.5,413.7 148.0,413.2 149.5,412.5 151.0,411.8 152.5,410.8 154.0,409.8 155.5,408.7 157.0,408.1 158.5,407.8" fill="none" stroke="#777" stroke-width="1.1" stroke-dasharray="1.6 1.8"/>
<polyline points="100.0,596.7 101.5,597.2 103.0,597.6 104.5,597.9 106.0,598.2 107.5,597.9 109.0,597.3 110.5,596.3 112.0,595.8 113.5,595.7 115.0,596.5 116.5,597.1 118.0,597.5 119.5,597.9 121.0,598.4 122.5,598.5 124.0,598.1 125.5,597.7 127.0,597.5 128.5,597.6 130.0,597.6 131.5,597.4 133.0,596.9 134.5,596.6 136.0,596.9 137.5,597.0 139.0,597.2 140.5,597.7 142.0,597.8 143.5,597.6 145.0,597.2 146.5,596.3 148.0,595.5 149.5,594.5" fill="none" stroke="#777" stroke-width="1.1" stroke-dasharray="1.6 1.8"/>
<polyline points="95.0,778.9 96.5,778.2 98.0,777.8 99.5,777.8 101.0,778.0 102.5,778.7 104.0,779.1 105.5,779.6 107.0,779.4 108.5,779.3 110.0,779.2 111.5,779.5 113.0,780.0 114.5,780.5 116.0,780.6 117.5,780.2 119.0,779.2 120.5,778.8 122.0,779.2 123.5,780.3 125.0,781.1 126.5,781.0 128.0,780.5 129.5,780.4 131.0,780.7 132.5,781.0 134.0,780.7 135.5,780.1 137.0,780.1 138.5,780.3 140.0,780.5 141.5,780.5 143.0,780.3 144.5,779.8 146.0,779.5 147.5,779.2 149.0,778.9" fill="none" stroke="#777" stroke-width="1.1" stroke-dasharray="1.6 1.8"/>
<polyline points="410.0,239.6 411.5,239.2 413.0,239.0 414.5,238.7 416.0,239.3 417.5,239.9 419.0,240.4 420.5,240.6 422.0,241.0 423.5,241.2 425.0,241.4 426.5,241.0 428.0,240.4 429.5,240.2 431.0,240.0 432.5,239.7 434.0,239.4 435.5,238.9 437.0,238.7 438.5,238.4 440.0,237.9 441.5,238.0 443.0,238.5 444.5,239.6 446.0,240.5 447.5,240.8 449.0,241.0 450.5,241.4 452.0,241.3 453.5,240.5 455.0,239.4 456.5,239.1 458.0,239.6 459.5,240.5 461.0,240.9 462.5,240.7 464.0,240.5 465.5,240.3 467.0,240.0 468.5,240.1 470.0,240.5 471.5,240.6 473.0,240.3 474.5,239.4 476.0,238.6 477.5,238.0 479.0,237.8 480.5,237.8 482.0,238.0 483.5,238.2 485.0,237.9 486.5,237.0 488.0,235.6 489.5,234.4" fill="none" stroke="#777" stroke-width="1.1" stroke-dasharray="1.6 1.8"/>
<polyline points="420.0,411.8 421.5,411.7 423.0,411.8 424.5,411.5 426.0,411.8 427.5,411.9 429.0,412.1 430.5,411.9 432.0,412.2 433.5,412.5 435.0,412.6 436.5,412.7 438.0,412.9 439.5,413.2 441.0,413.9 442.5,413.9 444.0,413.7 445.5,413.0 447.0,412.3 448.5,411.9 450.0,412.2 451.5,412.6 453.0,413.5 454.5,413.7 456.0,413.2 457.5,412.7 459.0,412.8 460.5,412.7 462.0,412.5 463.5,412.1 465.0,411.6 466.5,411.4 468.0,411.9 469.5,412.0 471.0,412.1 472.5,412.0 474.0,411.9 475.5,411.8 477.0,411.6 478.5,411.9" fill="none" stroke="#777" stroke-width="1.1" stroke-dasharray="1.6 1.8"/>
<polyline points="540.0,335.2 541.5,340.3 543.0,345.5 544.5,350.6 546.0,356.1 547.5,361.8 549.0,367.5 550.5,372.9 552.0,377.4 553.5,381.2 555.0,385.1 556.5,389.2 558.0,393.1 559.5,396.5 561.0,399.3 562.5,401.5 564.0,403.6 565.5,405.5 567.0,407.2 568.5,408.7 570.0,409.8 571.5,410.3 573.0,410.7 574.5,410.4 576.0,410.6 577.5,410.6 579.0,411.3 580.5,412.2 582.0,414.0 583.5,415.0 585.0,415.5 586.5,415.1 588.0,414.1 589.5,413.9 591.0,414.3 592.5,414.8 594.0,415.1 595.5,415.0 597.0,414.7 598.5,414.6" fill="none" stroke="#777" stroke-width="1.1" stroke-dasharray="1.6 1.8"/>
<polyline points="420.0,601.3 421.5,601.3 423.0,601.2 424.5,600.7 426.0,599.9 427.5,600.0 429.0,600.6 430.5,601.4 432.0,602.0 433.5,602.1 435.0,601.6 436.5,601.1 438.0,600.6 439.5,600.9 441.0,601.2 442.5,601.1 444.0,600.7 445.5,600.7 447.0,601.3 448.5,602.4 450.0,602.8 451.5,602.5 453.0,601.9 454.5,601.7 456.0,601.9 457.5,602.0 459.0,602.2 460.5,602.2 462.0,602.4 463.5,603.2 465.0,603.5 466.5,602.9 468.0,601.6 469.5,600.5 471.0,600.1 472.5,600.7 474.0,601.4 475.5,602.0 477.0,602.0 478.5,602.0" fill="none" stroke="#777" stroke-width="1.1" stroke-dasharray="1.6 1.8"/>
<polyline points="540.0,519.7 541.5,527.2 543.0,535.2 544.5,543.5 546.0,550.9 547.5,557.4 549.0,563.8 550.5,569.6 552.0,575.0 553.5,579.4 555.0,583.6 556.5,587.8 558.0,591.9 559.5,594.6 561.0,596.4 562.5,597.4 564.0,598.3 565.5,599.3 567.0,599.8 568.5,600.2" fill="none" stroke="#777" stroke-width="1.1" stroke-dasharray="1.6 1.8"/>
<polyline points="415.0,777.6 416.5,776.8 418.0,776.9 419.5,777.5 421.0,777.9 422.5,778.2 424.0,778.5 425.5,779.2 427.0,780.3 428.5,781.1 430.0,780.8 431.5,780.2 433.0,780.0 434.5,780.6 436.0,781.1 437.5,781.2 439.0,780.3 440.5,779.6 442.0,779.6 443.5,780.0 445.0,780.4 446.5,780.8 448.0,780.6 449.5,780.9 451.0,781.2 452.5,781.5 454.0,781.2 455.5,781.0 457.0,780.9 458.5,780.8 460.0,780.8 461.5,780.2 463.0,779.5 464.5,779.1 466.0,779.4 467.5,779.5 469.0,780.3 470.5,780.7 472.0,780.4 473.5,780.0 475.0,779.8 476.5,780.0 478.0,780.4 479.5,780.5 481.0,779.6 482.5,778.7 484.0,778.7 485.5,779.3 487.0,780.1 488.5,780.1" fill="none" stroke="#777" stroke-width="1.1" stroke-dasharray="1.6 1.8"/>
<polyline points="690.0,239.6 691.5,239.4 693.0,239.2 694.5,239.6 696.0,240.1 697.5,240.5 699.0,240.6 700.5,240.4 702.0,239.9 703.5,239.6 705.0,239.5 706.5,239.6 708.0,239.6 709.5,239.5 711.0,239.1 712.5,238.8 714.0,238.8 715.5,239.4 717.0,240.4 718.5,241.3 720.0,241.7 721.5,241.1 723.0,240.1 724.5,239.5 726.0,239.7 727.5,240.0 729.0,240.3 730.5,240.7 732.0,241.1 733.5,241.2 735.0,241.1 736.5,240.5 738.0,240.0 739.5,239.4 741.0,239.0 742.5,238.5 744.0,238.3 745.5,238.5 747.0,239.0 748.5,239.7 750.0,240.1 751.5,240.1 753.0,239.7 754.5,239.5 756.0,239.7 757.5,240.1 759.0,240.2 760.5,239.8 762.0,238.7 763.5,237.4 765.0,235.9 766.5,235.3 768.0,235.3 769.5,235.7" fill="none" stroke="#777" stroke-width="1.1" stroke-dasharray="1.6 1.8"/>
<polyline points="850.0,235.3 851.5,237.0 853.0,238.8 854.5,240.8 856.0,242.1 857.5,242.7 859.0,242.7 860.5,242.4 862.0,241.9 863.5,241.7 865.0,241.7 866.5,242.2 868.0,242.5 869.5,242.6 871.0,242.4 872.5,242.7 874.0,243.3 875.5,243.8 877.0,243.7 878.5,243.4 880.0,243.0 881.5,242.9 883.0,242.7 884.5,242.7 886.0,242.9 887.5,242.8 889.0,242.6 890.5,242.3 892.0,242.3 893.5,242.8 895.0,243.2 896.5,243.0 898.0,242.8 899.5,243.0" fill="none" stroke="#777" stroke-width="1.1" stroke-dasharray="1.6 1.8"/>
<polyline points="690.0,416.0 691.5,416.1 693.0,416.3 694.5,416.9 696.0,417.2 697.5,416.6 699.0,415.5 700.5,415.0 702.0,415.6 703.5,416.7 705.0,417.0 706.5,416.4 708.0,415.8 709.5,415.7 711.0,416.0 712.5,416.2 714.0,416.1 715.5,415.7 717.0,415.4 718.5,415.1 720.0,414.8 721.5,414.6 723.0,414.5 724.5,414.1 726.0,414.3 727.5,414.8 729.0,415.2 730.5,415.5 732.0,416.4 733.5,416.8 735.0,416.9 736.5,415.8 738.0,414.2 739.5,413.3 741.0,414.1 742.5,414.7 744.0,415.1 745.5,414.5 747.0,413.6 748.5,412.6" fill="none" stroke="#777" stroke-width="1.1" stroke-dasharray="1.6 1.8"/>
<polyline points="860.0,417.1 861.5,416.9 863.0,416.4 864.5,416.3 866.0,416.0 867.5,416.1 869.0,416.2 870.5,416.0 872.0,415.6 873.5,415.4 875.0,415.1 876.5,415.3 878.0,415.7 879.5,416.5 881.0,416.8 882.5,417.3 884.0,417.1 885.5,416.9 887.0,416.6 888.5,417.4 890.0,417.9 891.5,418.1 893.0,417.5 894.5,416.5 896.0,415.5 897.5,415.3 899.0,415.4" fill="none" stroke="#777" stroke-width="1.1" stroke-dasharray="1.6 1.8"/>
<polyline points="690.0,603.6 691.5,604.3 693.0,605.1 694.5,606.2 696.0,606.8 697.5,607.2 699.0,607.0 700.5,606.4 702.0,605.7 703.5,605.9 705.0,605.9 706.5,605.4 708.0,604.6 709.5,604.2 711.0,604.3 712.5,605.2 714.0,606.3 715.5,607.1 717.0,606.9 718.5,606.6 720.0,605.8 721.5,605.3 723.0,605.2 724.5,605.4 726.0,605.7 727.5,606.2 729.0,606.1 730.5,605.6 732.0,605.4 733.5,605.6 735.0,606.1 736.5,606.4 738.0,606.0 739.5,605.3" fill="none" stroke="#777" stroke-width="1.1" stroke-dasharray="1.6 1.8"/>
<polyline points="860.0,607.6 861.5,608.2 863.0,608.8 864.5,609.1 866.0,609.2 867.5,608.7 869.0,608.6 870.5,608.8 872.0,609.2 873.5,609.4 875.0,609.4 876.5,609.0 878.0,609.0 879.5,609.6 881.0,610.3 882.5,610.4 884.0,610.0 885.5,609.1 887.0,608.4 888.5,607.8 890.0,607.4 891.5,607.5 893.0,608.2 894.5,608.7 896.0,609.0 897.5,608.9 899.0,609.0" fill="none" stroke="#777" stroke-width="1.1" stroke-dasharray="1.6 1.8"/>
<polyline points="662.0,782.2 663.5,782.0 665.0,782.4 666.5,783.4 668.0,784.3 669.5,785.3 671.0,785.9 672.5,785.6 674.0,784.8 675.5,783.9 677.0,783.3 678.5,783.8 680.0,784.1 681.5,784.5 683.0,783.9 684.5,783.4 686.0,783.0 687.5,783.2 689.0,782.9 690.5,783.7 692.0,784.3 693.5,785.3 695.0,785.7 696.5,785.3 698.0,784.8 699.5,784.4 701.0,783.7 702.5,783.6 704.0,783.6 705.5,784.4 707.0,785.1 708.5,785.2 710.0,785.0 711.5,785.2 713.0,785.5 714.5,785.7 716.0,785.3 717.5,784.5 719.0,784.0 720.5,783.9 722.0,783.9 723.5,783.8 725.0,783.9 726.5,784.2 728.0,783.9 729.5,784.3 731.0,784.9 732.5,785.5 734.0,785.8 735.5,785.6 737.0,784.2 738.5,783.5 740.0,783.6 741.5,783.9 743.0,784.3 744.5,784.2 746.0,783.9 747.5,784.1 749.0,783.8 750.5,782.7 752.0,781.4 753.5,780.1 755.0,779.1 756.5,778.4 758.0,777.6 759.5,776.5" fill="none" stroke="#777" stroke-width="1.1" stroke-dasharray="1.6 1.8"/>
<polyline points="850.0,779.3 851.5,781.5 853.0,783.4 854.5,784.1 856.0,784.1 857.5,784.1 859.0,784.5 860.5,785.0 862.0,785.8 863.5,786.4 865.0,787.9 866.5,789.5 868.0,791.0 869.5,791.1 871.0,791.0 872.5,790.2 874.0,789.8 875.5,788.9 877.0,788.4 878.5,788.0 880.0,788.2 881.5,788.7 883.0,789.3 884.5,789.7 886.0,790.0 887.5,790.2 889.0,789.9 890.5,789.3 892.0,789.2 893.5,789.2 895.0,789.9 896.5,790.3 898.0,790.2 899.5,789.6 901.0,789.4 902.5,789.1" fill="none" stroke="#777" stroke-width="1.1" stroke-dasharray="1.6 1.8"/>
<polyline points="976.0,410.8 977.5,409.8 979.0,409.7 980.5,409.2 982.0,410.2 983.5,410.4 985.0,407.5 986.5,405.9 988.0,406.0 989.5,406.2 991.0,407.0 992.5,408.3 994.0,409.7 995.5,411.9 997.0,413.7 998.5,416.8 1000.0,417.3 1001.5,412.2 1003.0,405.6 1004.5,403.8 1006.0,405.4 1007.5,407.3 1009.0,408.7 1010.5,407.8 1012.0,408.8 1013.5,410.7 1015.0,411.3 1016.5,410.5 1018.0,411.7 1019.5,411.6 1021.0,411.2 1022.5,413.2 1024.0,413.2 1025.5,409.0 1027.0,404.6 1028.5,402.2 1030.0,403.2 1031.5,405.6 1033.0,408.0 1034.5,408.1 1036.0,406.5 1037.5,406.4 1039.0,408.1 1040.5,409.2 1042.0,409.0 1043.5,404.5 1045.0,397.3 1046.5,393.2 1048.0,391.1 1049.5,387.6 1051.0,384.5 1052.5,381.2 1054.0,375.9 1055.5,367.8 1057.0,356.5 1058.5,344.8 1060.0,336.7 1061.5,332.6 1063.0,325.6 1064.5,313.3 1066.0,301.1 1067.5,287.2 1069.0,276.2 1070.5,270.2 1072.0,264.7 1073.5,257.5 1075.0,254.2 1076.5,253.5 1078.0,252.4 1079.5,252.4 1081.0,256.4 1082.5,263.5 1084.0,271.2 1085.5,277.4 1087.0,282.1 1088.5,288.5 1090.0,301.6 1091.5,319.3 1093.0,336.2 1094.5,347.2 1096.0,351.0 1097.5,354.3 1099.0,361.2 1100.5,368.9 1102.0,372.4 1103.5,376.0 1105.0,382.1 1106.5,389.9 1108.0,397.7 1109.5,400.6 1111.0,401.2 1112.5,403.1 1114.0,405.1 1115.5,407.7 1117.0,407.2 1118.5,403.9 1120.0,403.0 1121.5,403.7 1123.0,404.6 1124.5,406.8 1126.0,406.7 1127.5,405.4 1129.0,405.4 1130.5,407.7 1132.0,410.7 1133.5,412.7 1135.0,414.0 1136.5,413.7 1138.0,410.9 1139.5,408.2 1141.0,407.3 1142.5,406.6 1144.0,407.2 1145.5,407.6 1147.0,407.5 1148.5,406.1 1150.0,403.1 1151.5,402.6 1153.0,406.8 1154.5,409.7 1156.0,407.9 1157.5,408.6 1159.0,411.2 1160.5,411.5 1162.0,410.5 1163.5,412.3 1165.0,415.8 1166.5,416.1 1168.0,414.6 1169.5,411.9 1171.0,409.3 1172.5,410.6 1174.0,412.7 1175.5,411.1 1177.0,408.1 1178.5,407.2 1180.0,409.2 1181.5,411.0 1183.0,410.4 1184.5,407.3 1186.0,406.8 1187.5,408.4 1189.0,410.7 1190.5,412.4 1192.0,413.4 1193.5,412.3 1195.0,408.8 1196.5,406.5 1198.0,407.8 1199.5,409.1 1201.0,409.2 1202.5,408.5 1204.0,408.8 1205.5,409.0 1207.0,409.4 1208.5,409.0 1210.0,408.1 1211.5,406.6 1213.0,405.1 1214.5,406.1 1216.0,408.8 1217.5,409.2 1219.0,407.8 1220.5,406.9 1222.0,405.5 1223.5,403.4 1225.0,405.6 1226.5,412.6 1228.0,416.6 1229.5,414.4 1231.0,411.5 1232.5,410.3 1234.0,409.0 1235.5,410.5 1237.0,412.5 1238.5,411.9 1240.0,410.6 1241.5,408.8 1243.0,407.9 1244.5,409.6 1246.0,409.9 1247.5,409.8 1249.0,409.0 1250.5,407.7 1252.0,408.1 1253.5,407.6" fill="none" stroke="#666" stroke-width="1.1" stroke-dasharray="1.3 1.5"/>
<line x1="1189.0" y1="410.7" x2="1189.0" y2="404.8" stroke="#666" stroke-width="1"/>
<line x1="1201.0" y1="409.2" x2="1201.0" y2="416.1" stroke="#666" stroke-width="1"/>
<line x1="1192.0" y1="413.4" x2="1192.0" y2="418.9" stroke="#666" stroke-width="1"/>
<line x1="1195.0" y1="408.8" x2="1195.0" y2="414.7" stroke="#666" stroke-width="1"/>
<line x1="1235.5" y1="410.5" x2="1235.5" y2="416.3" stroke="#666" stroke-width="1"/>
<line x1="1106.5" y1="389.9" x2="1106.5" y2="386.7" stroke="#666" stroke-width="1"/>
<line x1="1130.5" y1="407.7" x2="1130.5" y2="403.7" stroke="#666" stroke-width="1"/>
<line x1="1090.0" y1="301.6" x2="1090.0" y2="304.9" stroke="#666" stroke-width="1"/>
<line x1="1199.5" y1="409.1" x2="1199.5" y2="415.5" stroke="#666" stroke-width="1"/>
<line x1="1120.0" y1="403.0" x2="1120.0" y2="407.5" stroke="#666" stroke-width="1"/>
<line x1="1237.0" y1="412.5" x2="1237.0" y2="417.0" stroke="#666" stroke-width="1"/>
<line x1="1079.5" y1="252.4" x2="1079.5" y2="245.8" stroke="#666" stroke-width="1"/>
<line x1="1103.5" y1="376.0" x2="1103.5" y2="372.9" stroke="#666" stroke-width="1"/>
<line x1="1087.0" y1="282.1" x2="1087.0" y2="277.8" stroke="#666" stroke-width="1"/>
<line x1="992.5" y1="408.3" x2="992.5" y2="413.4" stroke="#666" stroke-width="1"/>
<line x1="1202.5" y1="408.5" x2="1202.5" y2="405.2" stroke="#666" stroke-width="1"/>
<line x1="1238.5" y1="411.9" x2="1238.5" y2="416.0" stroke="#666" stroke-width="1"/>
<line x1="1162.0" y1="410.5" x2="1162.0" y2="406.1" stroke="#666" stroke-width="1"/>
<line x1="1214.5" y1="406.1" x2="1214.5" y2="400.2" stroke="#666" stroke-width="1"/>
<line x1="1129.0" y1="405.4" x2="1129.0" y2="399.2" stroke="#666" stroke-width="1"/>
<line x1="1130.5" y1="407.7" x2="1130.5" y2="404.2" stroke="#666" stroke-width="1"/>
<line x1="1112.5" y1="403.1" x2="1112.5" y2="408.2" stroke="#666" stroke-width="1"/>
<line x1="1247.5" y1="409.8" x2="1247.5" y2="414.2" stroke="#666" stroke-width="1"/>
<line x1="1192.0" y1="413.4" x2="1192.0" y2="417.2" stroke="#666" stroke-width="1"/>
<line x1="1051.0" y1="384.5" x2="1051.0" y2="387.7" stroke="#666" stroke-width="1"/>
<line x1="1150.0" y1="403.1" x2="1150.0" y2="398.9" stroke="#666" stroke-width="1"/>
<line x1="1193.5" y1="412.3" x2="1193.5" y2="418.1" stroke="#666" stroke-width="1"/>
<line x1="1084.0" y1="271.2" x2="1084.0" y2="276.2" stroke="#666" stroke-width="1"/>
<line x1="1235.5" y1="410.5" x2="1235.5" y2="404.6" stroke="#666" stroke-width="1"/>
<line x1="1049.5" y1="387.6" x2="1049.5" y2="392.5" stroke="#666" stroke-width="1"/>
<line x1="997.0" y1="413.7" x2="997.0" y2="408.3" stroke="#666" stroke-width="1"/>
<line x1="1234.0" y1="409.0" x2="1234.0" y2="413.7" stroke="#666" stroke-width="1"/>
<line x1="1172.5" y1="410.6" x2="1172.5" y2="414.3" stroke="#666" stroke-width="1"/>
<line x1="1135.0" y1="414.0" x2="1135.0" y2="409.1" stroke="#666" stroke-width="1"/>
<line x1="1001.5" y1="412.2" x2="1001.5" y2="415.5" stroke="#666" stroke-width="1"/>
<line x1="1106.5" y1="389.9" x2="1106.5" y2="384.5" stroke="#666" stroke-width="1"/>
<line x1="1066.0" y1="301.1" x2="1066.0" y2="305.3" stroke="#666" stroke-width="1"/>
<line x1="1175.5" y1="411.1" x2="1175.5" y2="406.1" stroke="#666" stroke-width="1"/>
<line x1="1135.0" y1="414.0" x2="1135.0" y2="409.6" stroke="#666" stroke-width="1"/>
<line x1="1228.0" y1="416.6" x2="1228.0" y2="411.7" stroke="#666" stroke-width="1"/>
<polyline points="963.0,612.0 964.2,612.8 965.4,608.7 966.6,608.5 967.8,612.1 969.0,610.3 970.2,606.2 971.4,604.9 972.6,602.7 973.8,601.4 975.0,599.2 976.2,593.2 977.4,591.7 978.6,594.7 979.8,597.2 981.0,598.5 982.2,596.1 983.4,597.0 984.6,602.4 985.8,601.5 987.0,597.2 988.2,593.5 989.4,594.4 990.6,595.7 991.8,595.1 993.0,596.2 994.2,595.5 995.4,595.1 996.6,598.1 997.8,602.2 999.0,598.5 1000.2,594.8 1001.4,595.2 1002.6,593.1 1003.8,590.7 1005.0,586.7 1006.2,588.2 1007.4,594.9 1008.6,598.7 1009.8,597.5 1011.0,594.8 1012.2,591.3 1013.4,588.2 1014.6,589.5 1015.8,594.2 1017.0,598.3 1018.2,595.4 1019.4,590.8 1020.6,592.5 1021.8,593.2 1023.0,594.0 1024.2,598.5 1025.4,601.7 1026.6,599.2 1027.8,593.9 1029.0,593.7 1030.2,597.0 1031.4,597.7 1032.6,593.9 1033.8,590.0 1035.0,586.7 1036.2,587.9 1037.4,594.2 1038.6,596.3 1039.8,593.2 1041.0,590.9 1042.2,586.1 1043.4,580.9 1044.6,580.6 1045.8,579.8 1047.0,574.0 1048.2,564.4 1049.4,556.6 1050.6,552.9 1051.8,548.8 1053.0,543.3 1054.2,537.3 1055.4,531.5 1056.6,528.8 1057.8,527.2 1059.0,523.3 1060.2,516.3 1061.4,509.9 1062.6,506.2 1063.8,503.3 1065.0,498.7 1066.2,494.0 1067.4,491.3 1068.6,489.4 1069.8,487.5 1071.0,485.0 1072.2,484.2 1073.4,484.6 1074.6,486.2 1075.8,490.6 1077.0,494.9 1078.2,498.0 1079.4,500.6 1080.6,503.6 1081.8,508.4 1083.0,513.2 1084.2,517.4 1085.4,522.7 1086.6,528.9 1087.8,533.9 1089.0,536.1 1090.2,537.7 1091.4,538.9 1092.6,540.3 1093.8,545.0 1095.0,551.0 1096.2,555.7 1097.4,556.7 1098.6,557.8 1099.8,559.4 1101.0,561.8 1102.2,566.6 1103.4,569.8 1104.6,570.8 1105.8,571.6 1107.0,573.5 1108.2,574.4 1109.4,578.0 1110.6,580.8 1111.8,579.3 1113.0,579.4 1114.2,581.1 1115.4,581.5 1116.6,581.9 1117.8,583.9 1119.0,585.6 1120.2,587.4 1121.4,589.1 1122.6,591.0 1123.8,590.6 1125.0,591.1 1126.2,592.0 1127.4,591.8 1128.6,593.5 1129.8,594.3 1131.0,592.7 1132.2,593.7 1133.4,595.3 1134.6,594.9 1135.8,592.5 1137.0,592.4 1138.2,594.8 1139.4,596.1 1140.6,596.0 1141.8,595.4 1143.0,594.6 1144.2,595.0 1145.4,595.5 1146.6,596.8 1147.8,600.9 1149.0,597.9 1150.2,593.1 1151.4,593.4 1152.6,594.1 1153.8,597.8 1155.0,598.7 1156.2,596.1 1157.4,597.7 1158.6,599.6 1159.8,601.9 1161.0,602.0 1162.2,595.4 1163.4,589.5 1164.6,587.7 1165.8,589.0 1167.0,592.4 1168.2,595.3 1169.4,596.8 1170.6,597.5 1171.8,597.8 1173.0,599.0 1174.2,600.4 1175.4,603.6 1176.6,598.4 1177.8,589.9 1179.0,588.4 1180.2,591.9 1181.4,593.9 1182.6,595.7 1183.8,595.0 1185.0,591.1 1186.2,586.2 1187.4,584.5 1188.6,589.1 1189.8,593.8 1191.0,591.9 1192.2,588.6 1193.4,590.6 1194.6,591.4 1195.8,589.7 1197.0,590.4 1198.2,589.8 1199.4,588.5 1200.6,592.0 1201.8,596.2 1203.0,598.1 1204.2,594.5 1205.4,587.2 1206.6,586.8 1207.8,592.1 1209.0,596.0 1210.2,601.8 1211.4,607.6 1212.6,603.3 1213.8,599.6 1215.0,598.1 1216.2,595.3 1217.4,592.9 1218.6,592.0 1219.8,589.2 1221.0,588.2 1222.2,589.7 1223.4,594.4 1224.6,596.1 1225.8,589.9 1227.0,587.6 1228.2,585.7 1229.4,588.8 1230.6,593.6 1231.8,591.2 1233.0,586.8 1234.2,587.8 1235.4,590.7 1236.6,590.3 1237.8,590.9 1239.0,591.2 1240.2,593.6 1241.4,598.4 1242.6,593.8 1243.8,586.3 1245.0,587.4 1246.2,590.2 1247.4,591.7 1248.6,590.0 1249.8,591.0" fill="none" stroke="#6a6a6a" stroke-width="1.2" stroke-dasharray="1.4 1.4"/>
<line x1="1116.6" y1="581.9" x2="1116.6" y2="585.6" stroke="#6a6a6a" stroke-width="1"/>
<line x1="1002.6" y1="593.1" x2="1002.6" y2="597.1" stroke="#6a6a6a" stroke-width="1"/>
<line x1="1068.6" y1="489.4" x2="1068.6" y2="495.0" stroke="#6a6a6a" stroke-width="1"/>
<line x1="981.0" y1="598.5" x2="981.0" y2="593.5" stroke="#6a6a6a" stroke-width="1"/>
<line x1="1044.6" y1="580.6" x2="1044.6" y2="586.1" stroke="#6a6a6a" stroke-width="1"/>
<line x1="1053.0" y1="543.3" x2="1053.0" y2="548.5" stroke="#6a6a6a" stroke-width="1"/>
<line x1="1065.0" y1="498.7" x2="1065.0" y2="501.8" stroke="#6a6a6a" stroke-width="1"/>
<line x1="1044.6" y1="580.6" x2="1044.6" y2="584.0" stroke="#6a6a6a" stroke-width="1"/>
<line x1="1189.8" y1="593.8" x2="1189.8" y2="599.6" stroke="#6a6a6a" stroke-width="1"/>
<line x1="1223.4" y1="594.4" x2="1223.4" y2="588.4" stroke="#6a6a6a" stroke-width="1"/>
<line x1="1081.8" y1="508.4" x2="1081.8" y2="512.1" stroke="#6a6a6a" stroke-width="1"/>
<line x1="989.4" y1="594.4" x2="989.4" y2="591.2" stroke="#6a6a6a" stroke-width="1"/>
<line x1="1081.8" y1="508.4" x2="1081.8" y2="511.6" stroke="#6a6a6a" stroke-width="1"/>
<line x1="1138.2" y1="594.8" x2="1138.2" y2="589.8" stroke="#6a6a6a" stroke-width="1"/>
<line x1="1044.6" y1="580.6" x2="1044.6" y2="574.9" stroke="#6a6a6a" stroke-width="1"/>
<line x1="1057.8" y1="527.2" x2="1057.8" y2="532.7" stroke="#6a6a6a" stroke-width="1"/>
<line x1="1115.4" y1="581.5" x2="1115.4" y2="575.9" stroke="#6a6a6a" stroke-width="1"/>
<line x1="1129.8" y1="594.3" x2="1129.8" y2="589.8" stroke="#6a6a6a" stroke-width="1"/>
<line x1="1155.0" y1="598.7" x2="1155.0" y2="592.4" stroke="#6a6a6a" stroke-width="1"/>
<line x1="976.2" y1="593.2" x2="976.2" y2="588.7" stroke="#6a6a6a" stroke-width="1"/>
<line x1="1050.6" y1="552.9" x2="1050.6" y2="556.7" stroke="#6a6a6a" stroke-width="1"/>
<line x1="976.2" y1="593.2" x2="976.2" y2="596.6" stroke="#6a6a6a" stroke-width="1"/>
<line x1="1003.8" y1="590.7" x2="1003.8" y2="586.4" stroke="#6a6a6a" stroke-width="1"/>
<line x1="1073.4" y1="484.6" x2="1073.4" y2="491.0" stroke="#6a6a6a" stroke-width="1"/>
<line x1="1156.2" y1="596.1" x2="1156.2" y2="600.1" stroke="#6a6a6a" stroke-width="1"/>
<line x1="1031.4" y1="597.7" x2="1031.4" y2="591.9" stroke="#6a6a6a" stroke-width="1"/>
<line x1="1150.2" y1="593.1" x2="1150.2" y2="596.2" stroke="#6a6a6a" stroke-width="1"/>
<line x1="1158.6" y1="599.6" x2="1158.6" y2="595.9" stroke="#6a6a6a" stroke-width="1"/>
<line x1="1192.2" y1="588.6" x2="1192.2" y2="583.3" stroke="#6a6a6a" stroke-width="1"/>
<line x1="1005.0" y1="586.7" x2="1005.0" y2="582.2" stroke="#6a6a6a" stroke-width="1"/>
<polyline points="963.0,613.4 964.5,610.0 966.0,605.8 967.5,604.3 969.0,606.6 970.5,612.4 972.0,611.3 973.5,604.2 975.0,602.1 976.5,603.7 978.0,601.5 979.5,601.1 981.0,604.8 982.5,602.6 984.0,600.7 985.5,606.9 987.0,606.0 988.5,603.7 990.0,605.8 991.5,611.5 993.0,610.0 994.5,599.3 996.0,600.7 997.5,606.0 999.0,605.6 1000.5,605.5 1002.0,601.1 1003.5,595.3 1005.0,595.7 1006.5,598.9 1008.0,598.8 1009.5,599.1 1011.0,597.9 1012.5,594.6 1014.0,586.4 1015.5,590.2 1017.0,589.8 1018.5,585.6 1020.0,587.0 1021.5,593.2 1023.0,598.8 1024.5,595.7 1026.0,591.7 1027.5,597.3 1029.0,600.3 1030.5,594.2 1032.0,588.2 1033.5,587.0 1035.0,590.1 1036.5,585.1 1038.0,587.5 1039.5,591.5 1041.0,592.7 1042.5,591.7 1044.0,583.1" fill="none" stroke="#888" stroke-width="1.1" stroke-dasharray="1.2 2"/>
<line x1="972.0" y1="611.3" x2="972.0" y2="618.0" stroke="#888" stroke-width="1"/>
<line x1="996.0" y1="600.7" x2="996.0" y2="607.7" stroke="#888" stroke-width="1"/>
<line x1="1023.0" y1="598.8" x2="1023.0" y2="604.5" stroke="#888" stroke-width="1"/>
<line x1="1014.0" y1="586.4" x2="1014.0" y2="579.7" stroke="#888" stroke-width="1"/>
<line x1="1009.5" y1="599.1" x2="1009.5" y2="593.4" stroke="#888" stroke-width="1"/>
<line x1="1042.5" y1="591.7" x2="1042.5" y2="585.6" stroke="#888" stroke-width="1"/>
<line x1="972.0" y1="611.3" x2="972.0" y2="608.0" stroke="#888" stroke-width="1"/>
<line x1="1030.5" y1="594.2" x2="1030.5" y2="587.5" stroke="#888" stroke-width="1"/>
<line x1="1030.5" y1="594.2" x2="1030.5" y2="587.4" stroke="#888" stroke-width="1"/>
<line x1="1011.0" y1="597.9" x2="1011.0" y2="603.4" stroke="#888" stroke-width="1"/>
<polyline points="978.0,770.8 979.5,771.6 981.0,773.3 982.5,775.7 984.0,778.9 985.5,780.0 987.0,777.9 988.5,773.5 990.0,768.3 991.5,764.7 993.0,763.2 994.5,763.7 996.0,767.6 997.5,771.3 999.0,770.9 1000.5,766.6 1002.0,763.1 1003.5,761.7 1005.0,766.3 1006.5,770.7 1008.0,772.9 1009.5,772.5 1011.0,771.5 1012.5,770.9 1014.0,771.9 1015.5,772.8 1017.0,771.8 1018.5,771.0 1020.0,769.6 1021.5,769.9 1023.0,770.1 1024.5,772.3 1026.0,771.3 1027.5,771.7 1029.0,770.7 1030.5,772.2 1032.0,774.7 1033.5,779.1 1035.0,780.3 1036.5,782.3 1038.0,781.1 1039.5,778.0 1041.0,772.5 1042.5,768.6 1044.0,766.0 1045.5,766.9 1047.0,766.6 1048.5,764.6 1050.0,760.0 1051.5,755.1 1053.0,749.1 1054.5,746.5 1056.0,746.4 1057.5,748.2 1059.0,747.9 1060.5,744.9 1062.0,739.4 1063.5,735.6 1065.0,733.7 1066.5,732.6 1068.0,728.2 1069.5,722.8 1071.0,718.5 1072.5,716.9 1074.0,716.7 1075.5,715.3 1077.0,712.5 1078.5,711.7 1080.0,715.6 1081.5,719.1 1083.0,720.3 1084.5,715.4 1086.0,708.1 1087.5,700.5 1089.0,696.6 1090.5,694.5 1092.0,693.9 1093.5,691.2 1095.0,686.9 1096.5,681.0 1098.0,676.7 1099.5,671.5 1101.0,668.8 1102.5,667.9 1104.0,669.8 1105.5,673.1 1107.0,678.4 1108.5,685.2 1110.0,694.6 1111.5,703.7 1113.0,709.6 1114.5,713.8 1116.0,716.6 1117.5,721.0 1119.0,727.6 1120.5,735.7 1122.0,741.8 1123.5,742.4 1125.0,739.8 1126.5,737.3 1128.0,737.1 1129.5,736.9 1131.0,732.5 1132.5,725.5 1134.0,719.4 1135.5,718.8 1137.0,721.4 1138.5,726.0 1140.0,727.6 1141.5,728.8 1143.0,727.3 1144.5,726.1 1146.0,725.5 1147.5,726.1 1149.0,727.3 1150.5,728.4 1152.0,727.9 1153.5,729.1 1155.0,730.3 1156.5,731.4 1158.0,731.8 1159.5,733.4 1161.0,737.9 1162.5,743.3 1164.0,747.2 1165.5,750.0 1167.0,750.9 1168.5,749.8 1170.0,748.3 1171.5,745.0 1173.0,743.9 1174.5,743.7 1176.0,744.2 1177.5,742.8 1179.0,740.9 1180.5,740.2 1182.0,742.4 1183.5,746.3 1185.0,749.7 1186.5,752.5 1188.0,756.3 1189.5,760.5 1191.0,761.8 1192.5,760.7 1194.0,758.2 1195.5,757.8 1197.0,761.2 1198.5,763.1 1200.0,760.8 1201.5,756.7 1203.0,752.8 1204.5,750.4 1206.0,752.0 1207.5,753.8 1209.0,755.9 1210.5,757.0 1212.0,756.7 1213.5,755.0 1215.0,757.5 1216.5,760.9 1218.0,764.1 1219.5,764.1 1221.0,762.5 1222.5,761.0 1224.0,764.9 1225.5,771.0 1227.0,775.4 1228.5,774.6 1230.0,771.4 1231.5,767.4 1233.0,765.3 1234.5,764.7 1236.0,765.6 1237.5,765.2 1239.0,762.4" fill="none" stroke="#6a6a6a" stroke-width="1.2" stroke-dasharray="1.4 1.5"/>
<line x1="1111.5" y1="703.7" x2="1111.5" y2="700.5" stroke="#6a6a6a" stroke-width="1"/>
<line x1="1123.5" y1="742.4" x2="1123.5" y2="736.7" stroke="#6a6a6a" stroke-width="1"/>
<line x1="1149.0" y1="727.3" x2="1149.0" y2="721.5" stroke="#6a6a6a" stroke-width="1"/>
<line x1="1134.0" y1="719.4" x2="1134.0" y2="724.1" stroke="#6a6a6a" stroke-width="1"/>
<line x1="1005.0" y1="766.3" x2="1005.0" y2="760.2" stroke="#6a6a6a" stroke-width="1"/>
<line x1="1092.0" y1="693.9" x2="1092.0" y2="699.5" stroke="#6a6a6a" stroke-width="1"/>
<line x1="1086.0" y1="708.1" x2="1086.0" y2="713.6" stroke="#6a6a6a" stroke-width="1"/>
<line x1="1134.0" y1="719.4" x2="1134.0" y2="714.4" stroke="#6a6a6a" stroke-width="1"/>
<line x1="1125.0" y1="739.8" x2="1125.0" y2="734.6" stroke="#6a6a6a" stroke-width="1"/>
<line x1="1138.5" y1="726.0" x2="1138.5" y2="731.7" stroke="#6a6a6a" stroke-width="1"/>
<polyline points="83.0,232.3 84.0,232.4 85.0,232.5 86.0,232.5 87.0,232.6 88.0,232.6 89.0,232.7 90.0,232.7 91.0,232.8 92.0,232.9 93.0,232.9 94.0,233.0 95.0,233.0 96.0,233.1 97.0,233.1 98.0,233.2 99.0,233.3 100.0,233.3 101.0,233.4 102.0,233.4 103.0,233.5 104.0,233.5 105.0,233.6 106.0,233.6 107.0,233.7 108.0,233.8 109.0,233.8 110.0,233.9 111.0,233.9 112.0,234.0 113.0,234.0 114.0,234.1 115.0,234.1 116.0,234.2 117.0,234.2 118.0,234.3 119.0,234.3 120.0,234.4 121.0,234.5 122.0,234.5 123.0,234.6 124.0,234.6 125.0,234.7 126.0,234.7 127.0,234.8 128.0,234.8 129.0,234.9 130.0,234.9 131.0,235.0 132.0,235.0 133.0,235.1 134.0,235.1 135.0,235.1 136.0,235.2 137.0,235.2 138.0,235.3 139.0,235.3 140.0,235.4 141.0,235.4 142.0,235.4 143.0,235.5 144.0,235.5 145.0,235.5 146.0,235.5 147.0,235.5 148.0,235.4 149.0,235.3 150.0,235.2 151.0,235.0 152.0,234.7 153.0,234.3 154.0,233.7 155.0,233.0 156.0,232.2 157.0,231.2 158.0,230.0 159.0,228.8 160.0,227.4 161.0,226.1 162.0,224.9 163.0,223.8 164.0,223.1 165.0,222.6 166.0,222.6 167.0,222.9 168.0,223.6 169.0,224.5 170.0,225.6 171.0,226.6 172.0,227.7 173.0,228.6 174.0,229.4 175.0,229.9 176.0,230.2 177.0,230.1 178.0,229.8 179.0,229.2 180.0,228.4 181.0,227.3 182.0,226.0 183.0,224.6 184.0,223.3 185.0,222.1 186.0,221.1 187.0,220.7 188.0,220.8 189.0,221.3 190.0,222.2 191.0,223.2 192.0,224.0 193.0,224.5 194.0,224.6 195.0,224.2 196.0,223.3 197.0,222.0 198.0,220.4 199.0,218.6 200.0,216.6 201.0,214.5 202.0,212.2 203.0,209.6 204.0,206.6 205.0,203.1 206.0,199.1 207.0,194.8 208.0,189.9 209.0,184.0 210.0,177.2 211.0,169.4 212.0,160.8 213.0,151.4 214.0,141.4 215.0,131.1 216.0,121.0 217.0,111.6 218.0,104.0 219.0,98.7 220.0,96.4 221.0,97.5 222.0,101.7 223.0,108.5 224.0,117.1 225.0,127.0 226.0,137.3 227.0,147.5 228.0,157.4 229.0,166.6 230.0,175.0 231.0,182.7 232.0,189.5 233.0,195.5 234.0,200.8 235.0,205.8 236.0,210.6 237.0,215.1 238.0,219.2 239.0,222.9 240.0,226.3 241.0,229.3 242.0,231.9 243.0,234.2 244.0,236.2 245.0,237.9 246.0,239.3 247.0,240.4 248.0,241.3 249.0,242.0 250.0,242.5 251.0,242.8 252.0,242.9 253.0,243.0 254.0,243.1 255.0,243.2 256.0,243.2 257.0,243.3 258.0,243.4 259.0,243.4 260.0,243.5 261.0,243.6 262.0,243.7 263.0,243.7 264.0,243.8 265.0,243.9 266.0,243.9 267.0,244.0 268.0,244.1 269.0,244.2 270.0,244.2 271.0,244.3 272.0,244.4 273.0,244.4 274.0,244.5 275.0,244.6 276.0,244.7 277.0,244.7 278.0,244.8 279.0,244.9 280.0,244.9" fill="none" stroke="#e0262f" stroke-width="1.8" stroke-linejoin="round"/>
<polyline points="71.0,410.2 72.0,410.2 73.0,410.2 74.0,410.3 75.0,410.3 76.0,410.3 77.0,410.3 78.0,410.3 79.0,410.4 80.0,410.4 81.0,410.4 82.0,410.4 83.0,410.5 84.0,410.5 85.0,410.5 86.0,410.5 87.0,410.5 88.0,410.6 89.0,410.6 90.0,410.6 91.0,410.6 92.0,410.7 93.0,410.7 94.0,410.7 95.0,410.7 96.0,410.7 97.0,410.8 98.0,410.8 99.0,410.8 100.0,410.8 101.0,410.8 102.0,410.9 103.0,410.9 104.0,410.9 105.0,410.9 106.0,411.0 107.0,411.0 108.0,411.0 109.0,411.0 110.0,411.0 111.0,411.1 112.0,411.1 113.0,411.1 114.0,411.1 115.0,411.1 116.0,411.2 117.0,411.2 118.0,411.2 119.0,411.2 120.0,411.2 121.0,411.3 122.0,411.3 123.0,411.3 124.0,411.3 125.0,411.3 126.0,411.4 127.0,411.4 128.0,411.4 129.0,411.4 130.0,411.4 131.0,411.4 132.0,411.5 133.0,411.5 134.0,411.5 135.0,411.5 136.0,411.5 137.0,411.5 138.0,411.5 139.0,411.6 140.0,411.6 141.0,411.6 142.0,411.6 143.0,411.6 144.0,411.5 145.0,411.5 146.0,411.4 147.0,411.3 148.0,411.1 149.0,410.9 150.0,410.5 151.0,410.1 152.0,409.5 153.0,408.9 154.0,408.1 155.0,407.3 156.0,406.6 157.0,405.9 158.0,405.3 159.0,405.0 160.0,405.0 161.0,405.3 162.0,405.9 163.0,406.6 164.0,407.4 165.0,408.2 166.0,408.9 167.0,409.6 168.0,410.1 169.0,410.5 170.0,410.6 171.0,410.6 172.0,410.3 173.0,409.7 174.0,409.0 175.0,408.0 176.0,406.9 177.0,405.6 178.0,404.3 179.0,403.1 180.0,402.1 181.0,401.5 182.0,401.3 183.0,401.6 184.0,402.3 185.0,403.4 186.0,404.6 187.0,405.9 188.0,407.1 189.0,408.1 190.0,408.7 191.0,408.8 192.0,408.3 193.0,407.3 194.0,405.8 195.0,403.8 196.0,401.5 197.0,399.0 198.0,396.4 199.0,393.9 200.0,391.5 201.0,389.4 202.0,387.3 203.0,385.2 204.0,383.0 205.0,380.5 206.0,377.6 207.0,374.4 208.0,370.7 209.0,366.2 210.0,360.8 211.0,354.6 212.0,347.7 213.0,339.9 214.0,331.6 215.0,322.8 216.0,313.9 217.0,305.2 218.0,297.4 219.0,291.0 220.0,286.6 221.0,284.8 222.0,285.7 223.0,289.2 224.0,294.9 225.0,302.2 226.0,310.7 227.0,319.6 228.0,328.6 229.0,337.3 230.0,345.5 231.0,353.1 232.0,360.1 233.0,366.3 234.0,371.9 235.0,376.9 236.0,381.3 237.0,385.6 238.0,389.7 239.0,393.5 240.0,397.0 241.0,400.2 242.0,403.1 243.0,405.6 244.0,407.9 245.0,409.9 246.0,411.6 247.0,413.1 248.0,414.3 249.0,415.3 250.0,416.1 251.0,416.7 252.0,417.2 253.0,417.5 254.0,417.7 255.0,417.7 256.0,417.8 257.0,417.8 258.0,417.9 259.0,417.9 260.0,418.0 261.0,418.0 262.0,418.1 263.0,418.1 264.0,418.2 265.0,418.2 266.0,418.3 267.0,418.3 268.0,418.4 269.0,418.4 270.0,418.5 271.0,418.5 272.0,418.6 273.0,418.6 274.0,418.7 275.0,418.7 276.0,418.8 277.0,418.8 278.0,418.9 279.0,418.9 280.0,419.0 281.0,419.1 282.0,419.1 283.0,419.2 284.0,419.2 285.0,419.3 286.0,419.3 287.0,419.4" fill="none" stroke="#e0262f" stroke-width="1.8" stroke-linejoin="round"/>
<polyline points="75.0,592.6 76.0,592.6 77.0,592.7 78.0,592.7 79.0,592.8 80.0,592.8 81.0,592.8 82.0,592.9 83.0,592.9 84.0,593.0 85.0,593.0 86.0,593.1 87.0,593.1 88.0,593.1 89.0,593.2 90.0,593.2 91.0,593.3 92.0,593.3 93.0,593.4 94.0,593.4 95.0,593.4 96.0,593.5 97.0,593.5 98.0,593.6 99.0,593.6 100.0,593.7 101.0,593.7 102.0,593.7 103.0,593.8 104.0,593.8 105.0,593.9 106.0,593.9 107.0,594.0 108.0,594.0 109.0,594.0 110.0,594.1 111.0,594.1 112.0,594.2 113.0,594.2 114.0,594.2 115.0,594.3 116.0,594.3 117.0,594.4 118.0,594.4 119.0,594.4 120.0,594.5 121.0,594.5 122.0,594.6 123.0,594.6 124.0,594.6 125.0,594.7 126.0,594.7 127.0,594.7 128.0,594.8 129.0,594.8 130.0,594.8 131.0,594.9 132.0,594.9 133.0,594.9 134.0,594.9 135.0,595.0 136.0,595.0 137.0,595.0 138.0,595.0 139.0,595.0 140.0,595.0 141.0,594.9 142.0,594.8 143.0,594.7 144.0,594.5 145.0,594.2 146.0,593.9 147.0,593.5 148.0,592.9 149.0,592.3 150.0,591.5 151.0,590.6 152.0,589.6 153.0,588.5 154.0,587.3 155.0,586.2 156.0,585.0 157.0,584.0 158.0,583.2 159.0,582.6 160.0,582.2 161.0,582.2 162.0,582.5 163.0,583.1 164.0,584.0 165.0,585.0 166.0,586.1 167.0,587.2 168.0,588.2 169.0,589.1 170.0,589.8 171.0,590.3 172.0,590.5 173.0,590.4 174.0,589.9 175.0,589.2 176.0,588.3 177.0,587.3 178.0,586.3 179.0,585.4 180.0,584.8 181.0,584.6 182.0,584.9 183.0,585.7 184.0,586.7 185.0,588.0 186.0,589.3 187.0,590.5 188.0,591.5 189.0,592.2 190.0,592.4 191.0,592.0 192.0,591.2 193.0,589.7 194.0,587.9 195.0,585.6 196.0,583.2 197.0,580.6 198.0,578.1 199.0,575.8 200.0,573.8 201.0,571.9 202.0,570.1 203.0,568.1 204.0,565.9 205.0,563.4 206.0,560.6 207.0,557.4 208.0,553.5 209.0,548.9 210.0,543.5 211.0,537.3 212.0,530.3 213.0,522.7 214.0,514.5 215.0,505.9 216.0,497.3 217.0,489.0 218.0,481.5 219.0,475.3 220.0,471.2 221.0,469.4 222.0,470.2 223.0,473.5 224.0,478.8 225.0,485.7 226.0,493.7 227.0,502.2 228.0,510.8 229.0,519.2 230.0,527.2 231.0,534.7 232.0,541.5 233.0,547.8 234.0,553.3 235.0,558.3 236.0,562.8 237.0,566.9 238.0,570.9 239.0,574.7 240.0,578.2 241.0,581.5 242.0,584.4 243.0,587.1 244.0,589.4 245.0,591.5 246.0,593.3 247.0,594.9 248.0,596.3 249.0,597.4 250.0,598.4 251.0,599.1 252.0,599.8 253.0,600.2 254.0,600.5 255.0,600.7 256.0,600.8 257.0,600.9 258.0,601.0 259.0,601.0 260.0,601.1 261.0,601.2 262.0,601.3 263.0,601.4 264.0,601.4 265.0,601.5 266.0,601.6 267.0,601.7 268.0,601.8 269.0,601.8 270.0,601.9 271.0,602.0 272.0,602.1 273.0,602.1 274.0,602.2 275.0,602.3 276.0,602.4 277.0,602.5 278.0,602.5 279.0,602.6 280.0,602.7 281.0,602.8 282.0,602.8 283.0,602.9 284.0,603.0 285.0,603.1 286.0,603.2 287.0,603.2" fill="none" stroke="#e0262f" stroke-width="1.8" stroke-linejoin="round"/>
<polyline points="75.0,775.5 76.0,775.5 77.0,775.6 78.0,775.6 79.0,775.7 80.0,775.7 81.0,775.7 82.0,775.8 83.0,775.8 84.0,775.9 85.0,775.9 86.0,776.0 87.0,776.0 88.0,776.1 89.0,776.1 90.0,776.1 91.0,776.2 92.0,776.2 93.0,776.3 94.0,776.3 95.0,776.4 96.0,776.4 97.0,776.4 98.0,776.5 99.0,776.5 100.0,776.6 101.0,776.6 102.0,776.7 103.0,776.7 104.0,776.7 105.0,776.8 106.0,776.8 107.0,776.9 108.0,776.9 109.0,777.0 110.0,777.0 111.0,777.0 112.0,777.1 113.0,777.1 114.0,777.2 115.0,777.2 116.0,777.3 117.0,777.3 118.0,777.3 119.0,777.4 120.0,777.4 121.0,777.5 122.0,777.5 123.0,777.5 124.0,777.6 125.0,777.6 126.0,777.7 127.0,777.7 128.0,777.7 129.0,777.8 130.0,777.8 131.0,777.9 132.0,777.9 133.0,777.9 134.0,778.0 135.0,778.0 136.0,778.0 137.0,778.1 138.0,778.1 139.0,778.1 140.0,778.2 141.0,778.2 142.0,778.2 143.0,778.2 144.0,778.2 145.0,778.2 146.0,778.2 147.0,778.1 148.0,777.9 149.0,777.7 150.0,777.4 151.0,777.0 152.0,776.5 153.0,775.8 154.0,775.1 155.0,774.3 156.0,773.6 157.0,772.9 158.0,772.4 159.0,772.1 160.0,772.1 161.0,772.4 162.0,772.9 163.0,773.6 164.0,774.3 165.0,775.1 166.0,775.7 167.0,776.2 168.0,776.5 169.0,776.6 170.0,776.4 171.0,775.9 172.0,775.3 173.0,774.4 174.0,773.4 175.0,772.3 176.0,771.3 177.0,770.5 178.0,769.9 179.0,769.7 180.0,769.8 181.0,770.3 182.0,771.0 183.0,771.8 184.0,772.6 185.0,773.2 186.0,773.5 187.0,773.5 188.0,773.0 189.0,771.9 190.0,770.3 191.0,768.2 192.0,765.7 193.0,762.7 194.0,759.4 195.0,756.0 196.0,752.5 197.0,749.1 198.0,745.8 199.0,742.9 200.0,740.4 201.0,738.2 202.0,736.4 203.0,734.9 204.0,733.3 205.0,731.7 206.0,729.9 207.0,727.8 208.0,725.0 209.0,721.3 210.0,716.8 211.0,711.3 212.0,704.9 213.0,697.8 214.0,689.9 215.0,681.6 216.0,673.0 217.0,664.6 218.0,656.8 219.0,650.2 220.0,645.2 221.0,642.3 222.0,641.9 223.0,644.0 224.0,648.4 225.0,654.7 226.0,662.4 227.0,670.9 228.0,679.9 229.0,688.9 230.0,697.6 231.0,705.9 232.0,713.6 233.0,720.7 234.0,727.2 235.0,733.0 236.0,738.3 237.0,742.9 238.0,747.3 239.0,751.5 240.0,755.5 241.0,759.3 242.0,762.7 243.0,765.9 244.0,768.8 245.0,771.4 246.0,773.7 247.0,775.7 248.0,777.5 249.0,779.1 250.0,780.4 251.0,781.5 252.0,782.5 253.0,783.2 254.0,783.8 255.0,784.2 256.0,784.5 257.0,784.6 258.0,784.7 259.0,784.7 260.0,784.8 261.0,784.8 262.0,784.9 263.0,785.0 264.0,785.0 265.0,785.1 266.0,785.1 267.0,785.2 268.0,785.2 269.0,785.3 270.0,785.3 271.0,785.4 272.0,785.5 273.0,785.5 274.0,785.6 275.0,785.6 276.0,785.7 277.0,785.7 278.0,785.8 279.0,785.8 280.0,785.9 281.0,786.0 282.0,786.0 283.0,786.1 284.0,786.1 285.0,786.2" fill="none" stroke="#e0262f" stroke-width="1.8" stroke-linejoin="round"/>
<polyline points="379.0,234.3 380.0,234.4 381.0,234.5 382.0,234.5 383.0,234.6 384.0,234.7 385.0,234.7 386.0,234.8 387.0,234.9 388.0,235.0 389.0,235.0 390.0,235.1 391.0,235.2 392.0,235.2 393.0,235.3 394.0,235.4 395.0,235.4 396.0,235.5 397.0,235.6 398.0,235.6 399.0,235.7 400.0,235.8 401.0,235.9 402.0,235.9 403.0,236.0 404.0,236.1 405.0,236.1 406.0,236.2 407.0,236.3 408.0,236.3 409.0,236.4 410.0,236.5 411.0,236.5 412.0,236.6 413.0,236.7 414.0,236.7 415.0,236.8 416.0,236.9 417.0,236.9 418.0,237.0 419.0,237.1 420.0,237.1 421.0,237.1 422.0,237.1 423.0,237.1 424.0,237.1 425.0,237.1 426.0,237.1 427.0,237.1 428.0,237.1 429.0,237.1 430.0,237.1 431.0,237.1 432.0,237.1 433.0,237.1 434.0,237.1 435.0,237.1 436.0,237.1 437.0,237.1 438.0,237.1 439.0,237.1 440.0,237.1 441.0,237.1 442.0,237.1 443.0,237.1 444.0,237.1 445.0,237.1 446.0,237.1 447.0,237.1 448.0,237.0 449.0,237.0 450.0,237.0 451.0,237.0 452.0,237.0 453.0,237.0 454.0,237.0 455.0,236.9 456.0,236.9 457.0,236.9 458.0,236.9 459.0,236.9 460.0,236.8 461.0,236.8 462.0,236.8 463.0,236.8 464.0,236.7 465.0,236.7 466.0,236.7 467.0,236.6 468.0,236.6 469.0,236.6 470.0,236.5 471.0,236.5 472.0,236.4 473.0,236.3 474.0,236.3 475.0,236.2 476.0,236.1 477.0,236.0 478.0,235.9 479.0,235.8 480.0,235.6 481.0,235.5 482.0,235.3 483.0,235.1 484.0,234.7 485.0,234.4 486.0,233.9 487.0,233.3 488.0,232.6 489.0,231.7 490.0,230.6 491.0,229.3 492.0,227.8 493.0,226.0 494.0,224.0 495.0,221.7 496.0,219.1 497.0,216.4 498.0,213.4 499.0,210.3 500.0,207.0 501.0,203.7 502.0,200.3 503.0,197.0 504.0,193.7 505.0,190.5 506.0,187.3 507.0,184.0 508.0,180.8 509.0,178.2 510.0,176.7 511.0,175.8 512.0,175.2 513.0,174.7 514.0,173.6 515.0,171.6 516.0,168.1 517.0,163.0 518.0,156.2 519.0,148.2 520.0,139.6 521.0,131.4 522.0,124.1 523.0,118.3 524.0,114.4 525.0,112.2 526.0,111.7 527.0,112.5 528.0,114.3 529.0,117.0 530.0,120.3 531.0,124.0 532.0,127.9 533.0,132.0 534.0,136.3 535.0,140.5 536.0,144.9 537.0,149.4 538.0,153.7 539.0,157.9 540.0,162.0 541.0,166.0 542.0,170.0 543.0,173.9 544.0,177.8 545.0,181.7 546.0,185.6 547.0,189.5 548.0,193.3 549.0,197.1 550.0,200.7 551.0,204.3 552.0,207.7 553.0,210.9 554.0,213.9 555.0,216.7 556.0,219.4 557.0,221.8 558.0,224.0 559.0,225.9 560.0,227.7 561.0,229.3 562.0,230.7 563.0,231.9 564.0,233.0 565.0,233.9 566.0,234.7 567.0,235.4 568.0,236.0 569.0,236.5 570.0,237.0 571.0,237.4 572.0,237.7 573.0,238.0 574.0,238.3 575.0,238.5 576.0,238.7 577.0,238.9 578.0,239.0 579.0,239.2 580.0,239.3 581.0,239.5 582.0,239.7 583.0,239.8 584.0,239.9 585.0,240.1 586.0,240.2 587.0,240.4 588.0,240.5 589.0,240.6 590.0,240.7 591.0,240.8 592.0,241.0 593.0,241.1 594.0,241.2 595.0,241.3 596.0,241.4 597.0,241.5 598.0,241.6 599.0,241.7 600.0,241.8 601.0,241.9 602.0,242.0 603.0,242.1 604.0,242.2 605.0,242.3 606.0,242.4 607.0,242.5 608.0,242.6 609.0,242.7 610.0,242.8 611.0,242.9 612.0,243.0 613.0,243.1 614.0,243.2 615.0,243.3 616.0,243.3 617.0,243.4 618.0,243.5 619.0,243.6 620.0,243.7" fill="none" stroke="#e0262f" stroke-width="2.1" stroke-linejoin="round"/>
<polyline points="379.0,408.9 380.0,408.9 381.0,408.9 382.0,408.9 383.0,409.0 384.0,409.0 385.0,409.0 386.0,409.0 387.0,409.0 388.0,409.1 389.0,409.1 390.0,409.1 391.0,409.1 392.0,409.1 393.0,409.1 394.0,409.2 395.0,409.2 396.0,409.2 397.0,409.2 398.0,409.2 399.0,409.3 400.0,409.3 401.0,409.3 402.0,409.3 403.0,409.3 404.0,409.3 405.0,409.4 406.0,409.4 407.0,409.4 408.0,409.4 409.0,409.4 410.0,409.4 411.0,409.5 412.0,409.5 413.0,409.5 414.0,409.5 415.0,409.5 416.0,409.5 417.0,409.6 418.0,409.6 419.0,409.6 420.0,409.6 421.0,409.6 422.0,409.6 423.0,409.6 424.0,409.7 425.0,409.7 426.0,409.7 427.0,409.7 428.0,409.7 429.0,409.7 430.0,409.8 431.0,409.8 432.0,409.8 433.0,409.8 434.0,409.8 435.0,409.8 436.0,409.8 437.0,409.8 438.0,409.9 439.0,409.9 440.0,409.9 441.0,409.9 442.0,409.9 443.0,409.9 444.0,409.9 445.0,409.9 446.0,409.9 447.0,410.0 448.0,410.0 449.0,410.0 450.0,410.0 451.0,410.0 452.0,410.0 453.0,410.0 454.0,410.0 455.0,410.0 456.0,410.0 457.0,410.0 458.0,410.0 459.0,410.0 460.0,410.0 461.0,410.0 462.0,410.0 463.0,410.0 464.0,410.0 465.0,410.0 466.0,410.0 467.0,410.0 468.0,410.0 469.0,410.0 470.0,410.0 471.0,410.0 472.0,410.0 473.0,409.9 474.0,409.9 475.0,409.9 476.0,409.9 477.0,409.8 478.0,409.8 479.0,409.7 480.0,409.7 481.0,409.6 482.0,409.6 483.0,409.5 484.0,409.4 485.0,409.3 486.0,409.1 487.0,408.8 488.0,408.5 489.0,408.2 490.0,407.7 491.0,407.1 492.0,406.3 493.0,405.4 494.0,404.3 495.0,403.1 496.0,401.6 497.0,399.9 498.0,398.0 499.0,396.0 500.0,393.7 501.0,391.3 502.0,388.7 503.0,386.1 504.0,383.3 505.0,380.5 506.0,377.8 507.0,375.0 508.0,372.4 509.0,369.8 510.0,367.4 511.0,365.1 512.0,362.9 513.0,360.8 514.0,358.8 515.0,357.0 516.0,355.0 517.0,352.9 518.0,350.5 519.0,347.4 520.0,343.7 521.0,339.3 522.0,334.5 523.0,329.5 524.0,324.9 525.0,321.2 526.0,318.9 527.0,318.0 528.0,318.1 529.0,318.5 530.0,319.2 531.0,319.8 532.0,320.2 533.0,320.5 534.0,320.8 535.0,321.5 536.0,322.7 537.0,324.7 538.0,327.6 539.0,331.0 540.0,334.4 541.0,337.9 542.0,341.5 543.0,345.1 544.0,348.7 545.0,352.3 546.0,355.8 547.0,359.3 548.0,362.8 549.0,366.2 550.0,369.6 551.0,372.9 552.0,376.2 553.0,379.3 554.0,382.4 555.0,385.3 556.0,388.2 557.0,390.8 558.0,393.3 559.0,395.6 560.0,397.7 561.0,399.6 562.0,401.4 563.0,403.0 564.0,404.4 565.0,405.6 566.0,406.7 567.0,407.6 568.0,408.4 569.0,409.1 570.0,409.7 571.0,410.3 572.0,410.7 573.0,411.1 574.0,411.4 575.0,411.7 576.0,411.9 577.0,412.1 578.0,412.3 579.0,412.5 580.0,412.6 581.0,412.8 582.0,412.9 583.0,413.0 584.0,413.1 585.0,413.2 586.0,413.3 587.0,413.4 588.0,413.5 589.0,413.6 590.0,413.7 591.0,413.7 592.0,413.8 593.0,413.9 594.0,414.0 595.0,414.0 596.0,414.1 597.0,414.2 598.0,414.2 599.0,414.3 600.0,414.4 601.0,414.4 602.0,414.5 603.0,414.5 604.0,414.6 605.0,414.7 606.0,414.7 607.0,414.8 608.0,414.8 609.0,414.9 610.0,414.9 611.0,415.0 612.0,415.0 613.0,415.1 614.0,415.2 615.0,415.2 616.0,415.3 617.0,415.3 618.0,415.4 619.0,415.4 620.0,415.4" fill="none" stroke="#e0262f" stroke-width="2.1" stroke-linejoin="round"/>
<polyline points="379.0,597.4 380.0,597.4 381.0,597.4 382.0,597.5 383.0,597.5 384.0,597.5 385.0,597.5 386.0,597.6 387.0,597.6 388.0,597.6 389.0,597.7 390.0,597.7 391.0,597.7 392.0,597.7 393.0,597.8 394.0,597.8 395.0,597.8 396.0,597.9 397.0,597.9 398.0,597.9 399.0,598.0 400.0,598.0 401.0,598.0 402.0,598.0 403.0,598.1 404.0,598.1 405.0,598.1 406.0,598.2 407.0,598.2 408.0,598.2 409.0,598.2 410.0,598.3 411.0,598.3 412.0,598.3 413.0,598.3 414.0,598.4 415.0,598.4 416.0,598.4 417.0,598.5 418.0,598.5 419.0,598.5 420.0,598.5 421.0,598.6 422.0,598.6 423.0,598.6 424.0,598.6 425.0,598.7 426.0,598.7 427.0,598.7 428.0,598.7 429.0,598.8 430.0,598.8 431.0,598.8 432.0,598.8 433.0,598.9 434.0,598.9 435.0,598.9 436.0,598.9 437.0,598.9 438.0,599.0 439.0,599.0 440.0,599.0 441.0,599.0 442.0,599.0 443.0,599.1 444.0,599.1 445.0,599.1 446.0,599.1 447.0,599.1 448.0,599.2 449.0,599.2 450.0,599.2 451.0,599.2 452.0,599.2 453.0,599.2 454.0,599.2 455.0,599.2 456.0,599.3 457.0,599.3 458.0,599.3 459.0,599.3 460.0,599.3 461.0,599.3 462.0,599.3 463.0,599.3 464.0,599.3 465.0,599.3 466.0,599.3 467.0,599.3 468.0,599.2 469.0,599.2 470.0,599.2 471.0,599.2 472.0,599.2 473.0,599.1 474.0,599.1 475.0,599.0 476.0,599.0 477.0,598.9 478.0,598.8 479.0,598.6 480.0,598.4 481.0,598.2 482.0,597.9 483.0,597.6 484.0,597.2 485.0,596.7 486.0,596.0 487.0,595.3 488.0,594.4 489.0,593.3 490.0,592.0 491.0,590.6 492.0,589.0 493.0,587.2 494.0,585.1 495.0,583.0 496.0,580.6 497.0,578.1 498.0,575.5 499.0,572.8 500.0,570.0 501.0,567.3 502.0,564.5 503.0,561.9 504.0,559.3 505.0,556.8 506.0,554.4 507.0,552.1 508.0,549.9 509.0,547.7 510.0,545.5 511.0,542.9 512.0,539.9 513.0,536.3 514.0,532.1 515.0,527.2 516.0,521.6 517.0,515.5 518.0,508.9 519.0,502.0 520.0,495.2 521.0,488.9 522.0,483.4 523.0,479.3 524.0,476.9 525.0,476.4 526.0,477.4 527.0,479.8 528.0,483.1 529.0,486.8 530.0,490.4 531.0,493.5 532.0,495.8 533.0,497.4 534.0,498.5 535.0,499.5 536.0,501.2 537.0,504.3 538.0,509.1 539.0,514.2 540.0,519.4 541.0,524.5 542.0,529.7 543.0,534.9 544.0,540.1 545.0,545.2 546.0,550.3 547.0,555.2 548.0,560.0 549.0,564.6 550.0,568.9 551.0,572.9 552.0,576.7 553.0,580.1 554.0,583.2 555.0,585.9 556.0,588.4 557.0,590.5 558.0,592.3 559.0,593.9 560.0,595.2 561.0,596.4 562.0,597.3 563.0,598.1 564.0,598.8 565.0,599.3 566.0,599.8 567.0,600.2 568.0,600.5 569.0,600.8 570.0,601.0 571.0,601.2 572.0,601.4 573.0,601.6 574.0,601.7 575.0,601.9 576.0,602.0 577.0,602.1 578.0,602.2 579.0,602.3 580.0,602.4 581.0,602.5 582.0,602.6 583.0,602.7 584.0,602.8 585.0,602.9 586.0,602.9 587.0,603.0 588.0,603.1 589.0,603.2 590.0,603.2 591.0,603.3 592.0,603.4 593.0,603.4 594.0,603.5 595.0,603.6 596.0,603.6 597.0,603.7 598.0,603.7 599.0,603.8 600.0,603.8 601.0,603.9 602.0,604.0 603.0,604.0 604.0,604.1 605.0,604.1 606.0,604.2 607.0,604.2 608.0,604.3 609.0,604.3 610.0,604.4 611.0,604.4 612.0,604.5 613.0,604.5 614.0,604.5 615.0,604.6 616.0,604.6 617.0,604.7 618.0,604.7 619.0,604.8 620.0,604.8" fill="none" stroke="#e0262f" stroke-width="2.1" stroke-linejoin="round"/>
<polyline points="400.0,774.6 401.0,774.6 402.0,774.7 403.0,774.7 404.0,774.7 405.0,774.8 406.0,774.8 407.0,774.8 408.0,774.9 409.0,774.9 410.0,775.0 411.0,775.0 412.0,775.0 413.0,775.1 414.0,775.1 415.0,775.1 416.0,775.2 417.0,775.2 418.0,775.2 419.0,775.3 420.0,775.3 421.0,775.3 422.0,775.4 423.0,775.4 424.0,775.4 425.0,775.5 426.0,775.5 427.0,775.5 428.0,775.6 429.0,775.6 430.0,775.6 431.0,775.7 432.0,775.7 433.0,775.7 434.0,775.8 435.0,775.8 436.0,775.8 437.0,775.8 438.0,775.9 439.0,775.9 440.0,775.9 441.0,776.0 442.0,776.0 443.0,776.0 444.0,776.0 445.0,776.1 446.0,776.1 447.0,776.1 448.0,776.1 449.0,776.2 450.0,776.2 451.0,776.2 452.0,776.2 453.0,776.3 454.0,776.3 455.0,776.3 456.0,776.3 457.0,776.3 458.0,776.4 459.0,776.4 460.0,776.4 461.0,776.4 462.0,776.4 463.0,776.4 464.0,776.4 465.0,776.4 466.0,776.4 467.0,776.5 468.0,776.5 469.0,776.5 470.0,776.5 471.0,776.4 472.0,776.4 473.0,776.4 474.0,776.4 475.0,776.4 476.0,776.4 477.0,776.3 478.0,776.3 479.0,776.3 480.0,776.2 481.0,776.2 482.0,776.1 483.0,776.0 484.0,775.9 485.0,775.8 486.0,775.7 487.0,775.5 488.0,775.2 489.0,774.8 490.0,774.3 491.0,773.7 492.0,772.9 493.0,771.9 494.0,770.6 495.0,769.1 496.0,767.2 497.0,764.9 498.0,762.3 499.0,759.3 500.0,755.9 501.0,752.3 502.0,748.4 503.0,744.4 504.0,740.3 505.0,736.2 506.0,732.3 507.0,728.7 508.0,725.6 509.0,723.0 510.0,721.0 511.0,719.6 512.0,718.8 513.0,718.4 514.0,718.1 515.0,717.9 516.0,717.2 517.0,715.6 518.0,712.5 519.0,707.5 520.0,700.0 521.0,690.0 522.0,678.0 523.0,664.9 524.0,652.2 525.0,641.7 526.0,635.1 527.0,632.7 528.0,633.2 529.0,636.1 530.0,640.3 531.0,644.9 532.0,649.4 533.0,653.3 534.0,656.8 535.0,660.0 536.0,663.5 537.0,667.8 538.0,673.1 539.0,679.2 540.0,685.9 541.0,692.8 542.0,699.8 543.0,706.6 544.0,713.1 545.0,719.2 546.0,724.9 547.0,730.2 548.0,735.3 549.0,740.0 550.0,744.4 551.0,748.5 552.0,752.3 553.0,755.8 554.0,759.0 555.0,761.9 556.0,764.4 557.0,766.7 558.0,768.7 559.0,770.4 560.0,771.9 561.0,773.2 562.0,774.3 563.0,775.2 564.0,776.0 565.0,776.6 566.0,777.2 567.0,777.7 568.0,778.1 569.0,778.5 570.0,778.8 571.0,779.0 572.0,779.3 573.0,779.5 574.0,779.7 575.0,779.9 576.0,780.0 577.0,780.2 578.0,780.4 579.0,780.5 580.0,780.7 581.0,780.8 582.0,780.9 583.0,781.0 584.0,781.2 585.0,781.3 586.0,781.4 587.0,781.5 588.0,781.6 589.0,781.7 590.0,781.8 591.0,781.9 592.0,782.0 593.0,782.1 594.0,782.2 595.0,782.3 596.0,782.4 597.0,782.5 598.0,782.6 599.0,782.7 600.0,782.8 601.0,782.9 602.0,783.0 603.0,783.1 604.0,783.1 605.0,783.2 606.0,783.3 607.0,783.4 608.0,783.5 609.0,783.5" fill="none" stroke="#e0262f" stroke-width="2.1" stroke-linejoin="round"/>
<polyline points="663.0,236.9 664.0,236.9 665.0,236.9 666.0,236.9 667.0,236.9 668.0,236.9 669.0,236.9 670.0,236.9 671.0,236.9 672.0,236.9 673.0,236.9 674.0,236.9 675.0,236.8 676.0,236.8 677.0,236.8 678.0,236.8 679.0,236.8 680.0,236.8 681.0,236.8 682.0,236.8 683.0,236.8 684.0,236.8 685.0,236.8 686.0,236.8 687.0,236.8 688.0,236.8 689.0,236.8 690.0,236.8 691.0,236.8 692.0,236.8 693.0,236.8 694.0,236.8 695.0,236.8 696.0,236.8 697.0,236.8 698.0,236.8 699.0,236.8 700.0,236.7 701.0,236.7 702.0,236.7 703.0,236.7 704.0,236.7 705.0,236.7 706.0,236.7 707.0,236.7 708.0,236.7 709.0,236.7 710.0,236.7 711.0,236.7 712.0,236.7 713.0,236.7 714.0,236.7 715.0,236.7 716.0,236.7 717.0,236.7 718.0,236.7 719.0,236.7 720.0,236.7 721.0,236.7 722.0,236.7 723.0,236.7 724.0,236.6 725.0,236.6 726.0,236.6 727.0,236.6 728.0,236.6 729.0,236.6 730.0,236.6 731.0,236.6 732.0,236.6 733.0,236.6 734.0,236.6 735.0,236.6 736.0,236.6 737.0,236.6 738.0,236.6 739.0,236.6 740.0,236.6 741.0,236.6 742.0,236.6 743.0,236.6 744.0,236.6 745.0,236.6 746.0,236.5 747.0,236.5 748.0,236.5 749.0,236.5 750.0,236.4 751.0,236.4 752.0,236.3 753.0,236.3 754.0,236.2 755.0,236.1 756.0,236.0 757.0,235.9 758.0,235.7 759.0,235.6 760.0,235.4 761.0,235.2 762.0,235.0 763.0,234.8 764.0,234.5 765.0,234.2 766.0,233.8 767.0,233.4 768.0,232.8 769.0,232.2 770.0,231.4 771.0,230.6 772.0,229.6 773.0,228.6 774.0,227.4 775.0,226.2 776.0,225.0 777.0,223.7 778.0,222.5 779.0,221.3 780.0,220.2 781.0,219.3 782.0,218.6 783.0,218.0 784.0,217.7 785.0,217.7 786.0,217.8 787.0,218.2 788.0,218.8 789.0,219.4 790.0,220.0 791.0,220.6 792.0,221.1 793.0,221.4 794.0,221.6 795.0,221.5 796.0,221.3 797.0,220.7 798.0,219.9 799.0,218.9 800.0,217.5 801.0,215.9 802.0,213.9 803.0,211.4 804.0,208.3 805.0,204.6 806.0,200.4 807.0,195.5 808.0,189.9 809.0,183.7 810.0,176.8 811.0,169.4 812.0,161.5 813.0,153.1 814.0,144.6 815.0,136.0 816.0,127.8 817.0,120.2 818.0,113.7 819.0,108.7 820.0,105.5 821.0,104.4 822.0,105.6 823.0,108.8 824.0,113.9 825.0,120.6 826.0,128.2 827.0,136.6 828.0,145.3 829.0,154.0 830.0,162.5 831.0,170.6 832.0,178.2 833.0,185.3 834.0,191.7 835.0,197.5 836.0,202.7 837.0,207.3 838.0,211.3 839.0,214.8 840.0,217.8 841.0,220.3 842.0,222.6 843.0,224.6 844.0,226.5 845.0,228.3 846.0,229.9 847.0,231.3 848.0,232.6 849.0,233.8 850.0,234.9 851.0,235.8 852.0,236.7 853.0,237.5 854.0,238.1 855.0,238.7 856.0,239.2 857.0,239.5 858.0,239.9 859.0,240.1 860.0,240.3 861.0,240.3 862.0,240.4 863.0,240.4 864.0,240.4 865.0,240.5 866.0,240.5 867.0,240.5 868.0,240.5 869.0,240.6 870.0,240.6 871.0,240.6 872.0,240.6 873.0,240.6 874.0,240.7 875.0,240.7 876.0,240.7 877.0,240.7 878.0,240.8 879.0,240.8 880.0,240.8 881.0,240.8 882.0,240.9 883.0,240.9 884.0,240.9 885.0,240.9 886.0,241.0 887.0,241.0 888.0,241.0 889.0,241.0 890.0,241.0 891.0,241.1 892.0,241.1 893.0,241.1 894.0,241.1 895.0,241.2 896.0,241.2 897.0,241.2 898.0,241.2 899.0,241.3 900.0,241.3 901.0,241.3 902.0,241.3 903.0,241.4 904.0,241.4 905.0,241.4" fill="none" stroke="#e0262f" stroke-width="1.7" stroke-linejoin="round"/>
<polyline points="668.0,412.0 669.0,412.0 670.0,412.0 671.0,412.0 672.0,412.0 673.0,412.0 674.0,412.0 675.0,412.0 676.0,412.0 677.0,412.0 678.0,412.0 679.0,412.0 680.0,412.0 681.0,412.0 682.0,412.0 683.0,412.0 684.0,412.0 685.0,412.0 686.0,412.0 687.0,412.0 688.0,412.0 689.0,412.0 690.0,412.0 691.0,412.0 692.0,412.0 693.0,412.0 694.0,412.0 695.0,412.0 696.0,412.0 697.0,412.0 698.0,412.0 699.0,412.0 700.0,412.0 701.0,412.0 702.0,412.0 703.0,412.0 704.0,412.0 705.0,412.0 706.0,412.0 707.0,412.0 708.0,412.0 709.0,412.0 710.0,412.0 711.0,412.0 712.0,412.0 713.0,412.0 714.0,412.0 715.0,412.0 716.0,412.0 717.0,412.0 718.0,412.0 719.0,412.0 720.0,412.0 721.0,412.0 722.0,412.0 723.0,412.0 724.0,412.0 725.0,412.0 726.0,412.0 727.0,412.0 728.0,412.0 729.0,412.0 730.0,412.0 731.0,412.0 732.0,412.0 733.0,412.0 734.0,412.0 735.0,412.0 736.0,412.0 737.0,411.9 738.0,411.9 739.0,411.8 740.0,411.7 741.0,411.6 742.0,411.4 743.0,411.3 744.0,411.1 745.0,410.9 746.0,410.6 747.0,410.3 748.0,410.0 749.0,409.7 750.0,409.3 751.0,408.8 752.0,408.3 753.0,407.7 754.0,407.0 755.0,406.2 756.0,405.3 757.0,404.3 758.0,403.2 759.0,402.0 760.0,400.5 761.0,398.9 762.0,397.0 763.0,394.9 764.0,392.4 765.0,389.6 766.0,386.5 767.0,383.1 768.0,379.4 769.0,375.3 770.0,371.0 771.0,366.4 772.0,361.6 773.0,356.6 774.0,351.6 775.0,346.6 776.0,341.6 777.0,336.8 778.0,332.3 779.0,328.2 780.0,324.6 781.0,321.8 782.0,319.7 783.0,318.4 784.0,318.0 785.0,318.6 786.0,319.9 787.0,322.0 788.0,324.7 789.0,328.0 790.0,331.6 791.0,335.4 792.0,339.3 793.0,343.1 794.0,346.8 795.0,350.2 796.0,353.3 797.0,355.9 798.0,358.0 799.0,359.4 800.0,360.1 801.0,359.9 802.0,358.9 803.0,357.1 804.0,354.4 805.0,350.9 806.0,346.6 807.0,341.5 808.0,335.8 809.0,329.5 810.0,322.9 811.0,316.0 812.0,309.0 813.0,302.1 814.0,295.6 815.0,289.6 816.0,284.5 817.0,280.4 818.0,277.7 819.0,276.5 820.0,276.8 821.0,278.8 822.0,282.2 823.0,287.0 824.0,292.8 825.0,299.6 826.0,307.0 827.0,314.9 828.0,322.9 829.0,330.9 830.0,338.8 831.0,346.4 832.0,353.6 833.0,360.4 834.0,366.7 835.0,372.5 836.0,377.7 837.0,382.4 838.0,386.6 839.0,390.2 840.0,393.4 841.0,396.1 842.0,398.5 843.0,400.5 844.0,402.3 845.0,404.0 846.0,405.4 847.0,406.7 848.0,407.8 849.0,408.8 850.0,409.7 851.0,410.4 852.0,411.1 853.0,411.7 854.0,412.3 855.0,412.7 856.0,413.1 857.0,413.5 858.0,413.8 859.0,414.1 860.0,414.3 861.0,414.5 862.0,414.6 863.0,414.7 864.0,414.8 865.0,414.9 866.0,414.9 867.0,414.9 868.0,414.9 869.0,414.9 870.0,414.9 871.0,414.9 872.0,414.9 873.0,415.0 874.0,415.0 875.0,415.0 876.0,415.0 877.0,415.0 878.0,415.0 879.0,415.0 880.0,415.0 881.0,415.1 882.0,415.1 883.0,415.1 884.0,415.1 885.0,415.1 886.0,415.1 887.0,415.1 888.0,415.1 889.0,415.2 890.0,415.2 891.0,415.2 892.0,415.2 893.0,415.2 894.0,415.2 895.0,415.2 896.0,415.2 897.0,415.3 898.0,415.3 899.0,415.3 900.0,415.3 901.0,415.3" fill="none" stroke="#e0262f" stroke-width="1.7" stroke-linejoin="round"/>
<polyline points="661.0,602.3 662.0,602.3 663.0,602.3 664.0,602.4 665.0,602.4 666.0,602.4 667.0,602.4 668.0,602.4 669.0,602.4 670.0,602.5 671.0,602.5 672.0,602.5 673.0,602.5 674.0,602.5 675.0,602.5 676.0,602.6 677.0,602.6 678.0,602.6 679.0,602.6 680.0,602.6 681.0,602.6 682.0,602.7 683.0,602.7 684.0,602.7 685.0,602.7 686.0,602.7 687.0,602.7 688.0,602.8 689.0,602.8 690.0,602.8 691.0,602.8 692.0,602.8 693.0,602.8 694.0,602.9 695.0,602.9 696.0,602.9 697.0,602.9 698.0,602.9 699.0,602.9 700.0,603.0 701.0,603.0 702.0,603.0 703.0,603.0 704.0,603.0 705.0,603.0 706.0,603.1 707.0,603.1 708.0,603.1 709.0,603.1 710.0,603.1 711.0,603.1 712.0,603.2 713.0,603.2 714.0,603.2 715.0,603.2 716.0,603.2 717.0,603.2 718.0,603.3 719.0,603.3 720.0,603.3 721.0,603.3 722.0,603.3 723.0,603.3 724.0,603.4 725.0,603.4 726.0,603.4 727.0,603.4 728.0,603.4 729.0,603.4 730.0,603.5 731.0,603.5 732.0,603.4 733.0,603.4 734.0,603.4 735.0,603.3 736.0,603.2 737.0,603.1 738.0,603.0 739.0,602.8 740.0,602.6 741.0,602.4 742.0,602.2 743.0,602.0 744.0,601.7 745.0,601.3 746.0,601.0 747.0,600.6 748.0,600.1 749.0,599.6 750.0,599.0 751.0,598.4 752.0,597.7 753.0,596.9 754.0,596.0 755.0,595.0 756.0,593.9 757.0,592.7 758.0,591.3 759.0,589.7 760.0,587.8 761.0,585.8 762.0,583.5 763.0,580.9 764.0,578.1 765.0,575.0 766.0,571.7 767.0,568.1 768.0,564.3 769.0,560.3 770.0,556.1 771.0,551.8 772.0,547.4 773.0,543.0 774.0,538.6 775.0,534.4 776.0,530.3 777.0,526.6 778.0,523.3 779.0,520.5 780.0,518.3 781.0,516.8 782.0,516.1 783.0,516.1 784.0,517.0 785.0,518.7 786.0,521.1 787.0,524.0 788.0,527.3 789.0,530.9 790.0,534.6 791.0,538.2 792.0,541.7 793.0,545.0 794.0,547.9 795.0,550.5 796.0,552.5 797.0,553.9 798.0,554.6 799.0,554.6 800.0,553.9 801.0,552.4 802.0,550.1 803.0,547.2 804.0,543.5 805.0,539.1 806.0,534.2 807.0,528.8 808.0,523.0 809.0,516.9 810.0,510.6 811.0,504.3 812.0,498.2 813.0,492.4 814.0,487.1 815.0,482.5 816.0,478.9 817.0,476.3 818.0,475.0 819.0,475.1 820.0,476.4 821.0,479.1 822.0,482.9 823.0,487.8 824.0,493.5 825.0,499.8 826.0,506.6 827.0,513.7 828.0,520.8 829.0,528.0 830.0,535.0 831.0,541.7 832.0,548.2 833.0,554.2 834.0,559.9 835.0,565.1 836.0,569.9 837.0,574.2 838.0,578.0 839.0,581.5 840.0,584.5 841.0,587.1 842.0,589.4 843.0,591.4 844.0,593.1 845.0,594.7 846.0,596.1 847.0,597.4 848.0,598.5 849.0,599.5 850.0,600.4 851.0,601.2 852.0,601.9 853.0,602.6 854.0,603.1 855.0,603.6 856.0,604.1 857.0,604.5 858.0,604.8 859.0,605.2 860.0,605.4 861.0,605.7 862.0,605.9 863.0,606.0 864.0,606.2 865.0,606.3 866.0,606.3 867.0,606.4 868.0,606.4 869.0,606.4 870.0,606.4 871.0,606.5 872.0,606.5 873.0,606.5 874.0,606.5 875.0,606.6 876.0,606.6 877.0,606.6 878.0,606.6 879.0,606.7 880.0,606.7 881.0,606.7 882.0,606.7 883.0,606.7 884.0,606.8 885.0,606.8 886.0,606.8 887.0,606.8 888.0,606.9 889.0,606.9 890.0,606.9 891.0,606.9 892.0,606.9 893.0,607.0 894.0,607.0 895.0,607.0 896.0,607.0 897.0,607.1 898.0,607.1 899.0,607.1 900.0,607.1 901.0,607.2 902.0,607.2 903.0,607.2" fill="none" stroke="#e0262f" stroke-width="1.7" stroke-linejoin="round"/>
<polyline points="658.0,779.7 659.0,779.7 660.0,779.7 661.0,779.7 662.0,779.7 663.0,779.7 664.0,779.7 665.0,779.7 666.0,779.7 667.0,779.8 668.0,779.8 669.0,779.8 670.0,779.8 671.0,779.8 672.0,779.8 673.0,779.8 674.0,779.8 675.0,779.8 676.0,779.8 677.0,779.8 678.0,779.8 679.0,779.8 680.0,779.8 681.0,779.8 682.0,779.8 683.0,779.8 684.0,779.9 685.0,779.9 686.0,779.9 687.0,779.9 688.0,779.9 689.0,779.9 690.0,779.9 691.0,779.9 692.0,779.9 693.0,779.9 694.0,779.9 695.0,779.9 696.0,779.9 697.0,779.9 698.0,779.9 699.0,779.9 700.0,779.9 701.0,780.0 702.0,780.0 703.0,780.0 704.0,780.0 705.0,780.0 706.0,780.0 707.0,780.0 708.0,780.0 709.0,780.0 710.0,780.0 711.0,780.0 712.0,780.0 713.0,780.0 714.0,780.0 715.0,780.0 716.0,780.0 717.0,780.0 718.0,780.1 719.0,780.1 720.0,780.1 721.0,780.1 722.0,780.1 723.0,780.1 724.0,780.1 725.0,780.1 726.0,780.1 727.0,780.1 728.0,780.1 729.0,780.1 730.0,780.1 731.0,780.1 732.0,780.1 733.0,780.1 734.0,780.1 735.0,780.1 736.0,780.0 737.0,780.0 738.0,779.9 739.0,779.8 740.0,779.7 741.0,779.6 742.0,779.5 743.0,779.3 744.0,779.1 745.0,778.9 746.0,778.7 747.0,778.4 748.0,778.2 749.0,777.9 750.0,777.5 751.0,777.1 752.0,776.7 753.0,776.2 754.0,775.6 755.0,775.0 756.0,774.3 757.0,773.6 758.0,772.7 759.0,771.8 760.0,770.7 761.0,769.5 762.0,768.1 763.0,766.5 764.0,764.8 765.0,762.9 766.0,760.8 767.0,758.4 768.0,755.9 769.0,753.3 770.0,750.4 771.0,747.5 772.0,744.4 773.0,741.2 774.0,738.0 775.0,734.7 776.0,731.6 777.0,728.5 778.0,725.7 779.0,723.1 780.0,720.9 781.0,719.1 782.0,717.7 783.0,716.9 784.0,716.7 785.0,717.0 786.0,717.9 787.0,719.3 788.0,721.1 789.0,723.1 790.0,725.3 791.0,727.5 792.0,729.7 793.0,731.7 794.0,733.5 795.0,735.0 796.0,736.2 797.0,736.8 798.0,736.9 799.0,736.3 800.0,735.1 801.0,733.1 802.0,730.5 803.0,727.1 804.0,723.0 805.0,718.3 806.0,712.9 807.0,706.9 808.0,700.5 809.0,693.7 810.0,686.7 811.0,679.5 812.0,672.4 813.0,665.5 814.0,659.0 815.0,653.2 816.0,648.2 817.0,644.3 818.0,641.7 819.0,640.5 820.0,640.7 821.0,642.3 822.0,645.1 823.0,649.0 824.0,654.0 825.0,659.7 826.0,666.2 827.0,673.1 828.0,680.3 829.0,687.7 830.0,695.1 831.0,702.4 832.0,709.5 833.0,716.4 834.0,722.9 835.0,729.1 836.0,734.8 837.0,740.2 838.0,745.1 839.0,749.5 840.0,753.5 841.0,757.1 842.0,760.3 843.0,763.1 844.0,765.6 845.0,767.8 846.0,769.6 847.0,771.4 848.0,772.9 849.0,774.4 850.0,775.6 851.0,776.8 852.0,777.8 853.0,778.7 854.0,779.5 855.0,780.3 856.0,780.9 857.0,781.5 858.0,782.1 859.0,782.6 860.0,783.0 861.0,783.4 862.0,783.8 863.0,784.1 864.0,784.4 865.0,784.6 866.0,784.8 867.0,785.0 868.0,785.1 869.0,785.2 870.0,785.3 871.0,785.4 872.0,785.4 873.0,785.4 874.0,785.5 875.0,785.5 876.0,785.6 877.0,785.6 878.0,785.6 879.0,785.7 880.0,785.7 881.0,785.7 882.0,785.8 883.0,785.8 884.0,785.9 885.0,785.9 886.0,785.9 887.0,786.0 888.0,786.0 889.0,786.0 890.0,786.1 891.0,786.1 892.0,786.1 893.0,786.2 894.0,786.2 895.0,786.3 896.0,786.3 897.0,786.3 898.0,786.4 899.0,786.4 900.0,786.4 901.0,786.5 902.0,786.5 903.0,786.5 904.0,786.6" fill="none" stroke="#e0262f" stroke-width="1.7" stroke-linejoin="round"/>
<polyline points="975.0,409.8 976.0,409.8 977.0,409.8 978.0,409.8 979.0,409.7 980.0,409.7 981.0,409.7 982.0,409.7 983.0,409.7 984.0,409.7 985.0,409.7 986.0,409.7 987.0,409.6 988.0,409.6 989.0,409.6 990.0,409.6 991.0,409.6 992.0,409.6 993.0,409.6 994.0,409.6 995.0,409.5 996.0,409.5 997.0,409.5 998.0,409.5 999.0,409.5 1000.0,409.5 1001.0,409.5 1002.0,409.5 1003.0,409.4 1004.0,409.4 1005.0,409.4 1006.0,409.4 1007.0,409.4 1008.0,409.4 1009.0,409.4 1010.0,409.4 1011.0,409.3 1012.0,409.3 1013.0,409.3 1014.0,409.3 1015.0,409.3 1016.0,409.3 1017.0,409.3 1018.0,409.3 1019.0,409.3 1020.0,409.2 1021.0,409.2 1022.0,409.2 1023.0,409.2 1024.0,409.2 1025.0,409.2 1026.0,409.1 1027.0,409.1 1028.0,409.0 1029.0,408.8 1030.0,408.7 1031.0,408.5 1032.0,408.2 1033.0,407.9 1034.0,407.6 1035.0,407.2 1036.0,406.7 1037.0,406.2 1038.0,405.6 1039.0,404.8 1040.0,404.0 1041.0,403.1 1042.0,402.0 1043.0,400.8 1044.0,399.4 1045.0,397.8 1046.0,396.0 1047.0,393.9 1048.0,391.7 1049.0,389.1 1050.0,386.3 1051.0,383.1 1052.0,379.8 1053.0,376.1 1054.0,372.2 1055.0,368.1 1056.0,363.8 1057.0,359.0 1058.0,353.9 1059.0,348.4 1060.0,342.5 1061.0,336.4 1062.0,329.9 1063.0,323.1 1064.0,316.2 1065.0,309.1 1066.0,301.9 1067.0,294.6 1068.0,287.5 1069.0,280.5 1070.0,273.9 1071.0,267.6 1072.0,261.9 1073.0,256.9 1074.0,252.6 1075.0,249.3 1076.0,247.0 1077.0,245.7 1078.0,245.6 1079.0,246.6 1080.0,248.7 1081.0,251.8 1082.0,255.9 1083.0,260.7 1084.0,266.3 1085.0,272.4 1086.0,279.0 1087.0,285.9 1088.0,292.9 1089.0,300.1 1090.0,307.3 1091.0,314.4 1092.0,321.4 1093.0,328.2 1094.0,334.7 1095.0,340.9 1096.0,346.8 1097.0,352.3 1098.0,357.5 1099.0,362.3 1100.0,366.7 1101.0,370.8 1102.0,374.7 1103.0,378.4 1104.0,381.8 1105.0,385.0 1106.0,387.8 1107.0,390.4 1108.0,392.8 1109.0,394.8 1110.0,396.6 1111.0,398.3 1112.0,399.7 1113.0,400.9 1114.0,402.0 1115.0,402.9 1116.0,403.7 1117.0,404.4 1118.0,405.1 1119.0,405.6 1120.0,406.0 1121.0,406.4 1122.0,406.8 1123.0,407.0 1124.0,407.3 1125.0,407.5 1126.0,407.6 1127.0,407.7 1128.0,407.8 1129.0,407.8 1130.0,407.9 1131.0,407.9 1132.0,407.8 1133.0,407.8 1134.0,407.8 1135.0,407.8 1136.0,407.8 1137.0,407.8 1138.0,407.8 1139.0,407.8 1140.0,407.8 1141.0,407.7 1142.0,407.7 1143.0,407.7 1144.0,407.7 1145.0,407.7 1146.0,407.7 1147.0,407.7 1148.0,407.7 1149.0,407.6 1150.0,407.6 1151.0,407.6 1152.0,407.6 1153.0,407.6 1154.0,407.6 1155.0,407.6 1156.0,407.6 1157.0,407.5 1158.0,407.5 1159.0,407.5 1160.0,407.5 1161.0,407.5 1162.0,407.5 1163.0,407.5 1164.0,407.5 1165.0,407.4 1166.0,407.4 1167.0,407.4 1168.0,407.4 1169.0,407.4 1170.0,407.4 1171.0,407.4 1172.0,407.4 1173.0,407.3 1174.0,407.3 1175.0,407.3 1176.0,407.3 1177.0,407.3 1178.0,407.3 1179.0,407.3 1180.0,407.3 1181.0,407.2 1182.0,407.2 1183.0,407.2 1184.0,407.2 1185.0,407.2 1186.0,407.2 1187.0,407.2 1188.0,407.2 1189.0,407.1 1190.0,407.1 1191.0,407.1 1192.0,407.1 1193.0,407.1 1194.0,407.1 1195.0,407.1 1196.0,407.1 1197.0,407.0 1198.0,407.0 1199.0,407.0 1200.0,407.0 1201.0,407.0 1202.0,407.0 1203.0,407.0 1204.0,407.0 1205.0,406.9 1206.0,406.9 1207.0,406.9 1208.0,406.9 1209.0,406.9 1210.0,406.9 1211.0,406.9 1212.0,406.9 1213.0,406.8 1214.0,406.8 1215.0,406.8 1216.0,406.8 1217.0,406.8 1218.0,406.8 1219.0,406.8 1220.0,406.8 1221.0,406.7 1222.0,406.7 1223.0,406.7 1224.0,406.7 1225.0,406.7 1226.0,406.7 1227.0,406.7 1228.0,406.7 1229.0,406.6 1230.0,406.6 1231.0,406.6 1232.0,406.6 1233.0,406.6 1234.0,406.6 1235.0,406.6 1236.0,406.6 1237.0,406.5 1238.0,406.5 1239.0,406.5 1240.0,406.5 1241.0,406.5 1242.0,406.5 1243.0,406.5 1244.0,406.5 1245.0,406.4 1246.0,406.4 1247.0,406.4 1248.0,406.4 1249.0,406.4 1250.0,406.4 1251.0,406.4 1252.0,406.4 1253.0,406.3 1254.0,406.3 1255.0,406.3 1256.0,406.3 1257.0,406.3 1258.0,406.3 1259.0,406.3 1260.0,406.3 1261.0,406.2 1262.0,406.2 1263.0,406.2 1264.0,406.2 1265.0,406.2" fill="none" stroke="#e0262f" stroke-width="1.9" stroke-linejoin="round"/>
<polyline points="962.0,610.1 963.0,610.0 964.0,609.9 965.0,609.8 966.0,609.7 967.0,609.7 968.0,609.6 969.0,609.5 970.0,609.4 971.0,609.3 972.0,609.2 973.0,609.2 974.0,609.1 975.0,609.0 976.0,608.9 977.0,608.8 978.0,608.7 979.0,608.6 980.0,608.6 981.0,608.5 982.0,608.4 983.0,608.3 984.0,608.2 985.0,608.1 986.0,608.0 987.0,607.9 988.0,607.8 989.0,607.7 990.0,607.6 991.0,607.6 992.0,607.5 993.0,607.4 994.0,607.3 995.0,607.2 996.0,607.1 997.0,607.0 998.0,606.9 999.0,606.8 1000.0,606.7 1001.0,606.6 1002.0,606.4 1003.0,606.3 1004.0,606.2 1005.0,606.1 1006.0,606.0 1007.0,605.9 1008.0,605.8 1009.0,605.7 1010.0,605.5 1011.0,605.4 1012.0,605.3 1013.0,605.2 1014.0,605.0 1015.0,604.9 1016.0,604.8 1017.0,604.6 1018.0,604.5 1019.0,604.3 1020.0,604.1 1021.0,604.0 1022.0,603.8 1023.0,603.6 1024.0,603.4 1025.0,603.1 1026.0,602.9 1027.0,602.6 1028.0,602.3 1029.0,601.9 1030.0,601.5 1031.0,601.1 1032.0,600.6 1033.0,600.0 1034.0,599.4 1035.0,598.6 1036.0,597.8 1037.0,596.9 1038.0,595.8 1039.0,594.6 1040.0,593.2 1041.0,591.7 1042.0,589.9 1043.0,588.0 1044.0,585.9 1045.0,583.5 1046.0,580.9 1047.0,578.0 1048.0,574.9 1049.0,571.6 1050.0,568.0 1051.0,564.1 1052.0,560.0 1053.0,555.7 1054.0,551.1 1055.0,546.4 1056.0,541.6 1057.0,536.6 1058.0,531.6 1059.0,526.6 1060.0,521.6 1061.0,516.6 1062.0,511.9 1063.0,507.3 1064.0,503.0 1065.0,499.1 1066.0,495.6 1067.0,492.6 1068.0,490.1 1069.0,488.1 1070.0,486.8 1071.0,486.2 1072.0,486.2 1073.0,486.8 1074.0,488.0 1075.0,489.8 1076.0,492.0 1077.0,494.7 1078.0,497.8 1079.0,501.1 1080.0,504.6 1081.0,508.2 1082.0,511.9 1083.0,515.5 1084.0,519.1 1085.0,522.7 1086.0,526.2 1087.0,529.6 1088.0,533.1 1089.0,536.5 1090.0,539.9 1091.0,543.1 1092.0,546.2 1093.0,549.1 1094.0,551.8 1095.0,554.2 1096.0,556.4 1097.0,558.4 1098.0,560.3 1099.0,562.0 1100.0,563.6 1101.0,565.1 1102.0,566.6 1103.0,568.1 1104.0,569.5 1105.0,570.8 1106.0,572.2 1107.0,573.5 1108.0,574.8 1109.0,576.1 1110.0,577.3 1111.0,578.6 1112.0,579.8 1113.0,581.0 1114.0,582.1 1115.0,583.3 1116.0,584.3 1117.0,585.4 1118.0,586.4 1119.0,587.3 1120.0,588.2 1121.0,589.0 1122.0,589.8 1123.0,590.5 1124.0,591.2 1125.0,591.8 1126.0,592.3 1127.0,592.8 1128.0,593.3 1129.0,593.7 1130.0,594.0 1131.0,594.3 1132.0,594.6 1133.0,594.8 1134.0,595.0 1135.0,595.2 1136.0,595.4 1137.0,595.5 1138.0,595.6 1139.0,595.7 1140.0,595.7 1141.0,595.8 1142.0,595.8 1143.0,595.8 1144.0,595.8 1145.0,595.8 1146.0,595.9 1147.0,595.9 1148.0,595.9 1149.0,595.9 1150.0,595.9 1151.0,595.9 1152.0,595.9 1153.0,595.9 1154.0,595.9 1155.0,595.9 1156.0,595.9 1157.0,595.8 1158.0,595.8 1159.0,595.8 1160.0,595.8 1161.0,595.8 1162.0,595.7 1163.0,595.7 1164.0,595.7 1165.0,595.7 1166.0,595.7 1167.0,595.6 1168.0,595.6 1169.0,595.6 1170.0,595.5 1171.0,595.5 1172.0,595.5 1173.0,595.5 1174.0,595.4 1175.0,595.4 1176.0,595.4 1177.0,595.3 1178.0,595.3 1179.0,595.3 1180.0,595.2 1181.0,595.2 1182.0,595.2 1183.0,595.1 1184.0,595.1 1185.0,595.1 1186.0,595.0 1187.0,595.0 1188.0,595.0 1189.0,594.9 1190.0,594.9 1191.0,594.9 1192.0,594.8 1193.0,594.8 1194.0,594.8 1195.0,594.7 1196.0,594.7 1197.0,594.6 1198.0,594.6 1199.0,594.6 1200.0,594.5 1201.0,594.5 1202.0,594.5 1203.0,594.4 1204.0,594.4 1205.0,594.3 1206.0,594.3 1207.0,594.3 1208.0,594.2 1209.0,594.2 1210.0,594.1 1211.0,594.1 1212.0,594.1 1213.0,594.0 1214.0,594.0 1215.0,593.9 1216.0,593.9 1217.0,593.9 1218.0,593.8 1219.0,593.8 1220.0,593.7 1221.0,593.7 1222.0,593.7 1223.0,593.6 1224.0,593.6 1225.0,593.5 1226.0,593.5 1227.0,593.5 1228.0,593.4 1229.0,593.4 1230.0,593.3 1231.0,593.3 1232.0,593.2 1233.0,593.2 1234.0,593.2 1235.0,593.1 1236.0,593.1 1237.0,593.0 1238.0,593.0 1239.0,593.0 1240.0,592.9 1241.0,592.9 1242.0,592.8 1243.0,592.8 1244.0,592.7 1245.0,592.7 1246.0,592.7 1247.0,592.6 1248.0,592.6 1249.0,592.5 1250.0,592.5" fill="none" stroke="#e0262f" stroke-width="1.9" stroke-linejoin="round"/>
<polyline points="978.0,777.4 979.0,777.3 980.0,777.2 981.0,777.1 982.0,777.0 983.0,777.0 984.0,776.9 985.0,776.8 986.0,776.7 987.0,776.6 988.0,776.5 989.0,776.5 990.0,776.4 991.0,776.3 992.0,776.2 993.0,776.1 994.0,776.0 995.0,776.0 996.0,775.9 997.0,775.8 998.0,775.7 999.0,775.6 1000.0,775.5 1001.0,775.4 1002.0,775.3 1003.0,775.3 1004.0,775.2 1005.0,775.1 1006.0,775.0 1007.0,774.9 1008.0,774.8 1009.0,774.7 1010.0,774.6 1011.0,774.5 1012.0,774.4 1013.0,774.3 1014.0,774.3 1015.0,774.2 1016.0,774.1 1017.0,774.0 1018.0,773.9 1019.0,773.8 1020.0,773.7 1021.0,773.6 1022.0,773.5 1023.0,773.4 1024.0,773.3 1025.0,773.2 1026.0,773.1 1027.0,772.9 1028.0,772.8 1029.0,772.7 1030.0,772.6 1031.0,772.5 1032.0,772.4 1033.0,772.3 1034.0,772.1 1035.0,772.0 1036.0,771.9 1037.0,771.7 1038.0,771.5 1039.0,771.4 1040.0,771.2 1041.0,771.0 1042.0,770.8 1043.0,770.5 1044.0,770.3 1045.0,769.9 1046.0,769.6 1047.0,769.2 1048.0,768.7 1049.0,768.2 1050.0,767.6 1051.0,766.9 1052.0,766.1 1053.0,765.3 1054.0,764.3 1055.0,763.1 1056.0,761.9 1057.0,760.5 1058.0,759.0 1059.0,757.3 1060.0,755.5 1061.0,753.5 1062.0,751.5 1063.0,749.3 1064.0,747.0 1065.0,744.6 1066.0,742.2 1067.0,739.8 1068.0,737.4 1069.0,735.0 1070.0,732.7 1071.0,730.4 1072.0,728.3 1073.0,726.4 1074.0,724.5 1075.0,722.9 1076.0,721.3 1077.0,720.0 1078.0,718.8 1079.0,718.0 1080.0,717.5 1081.0,717.4 1082.0,717.7 1083.0,718.2 1084.0,718.9 1085.0,719.4 1086.0,719.6 1087.0,719.1 1088.0,717.9 1089.0,715.9 1090.0,713.0 1091.0,709.3 1092.0,704.9 1093.0,699.8 1094.0,694.3 1095.0,688.6 1096.0,682.8 1097.0,677.4 1098.0,672.6 1099.0,668.7 1100.0,666.0 1101.0,664.7 1102.0,665.1 1103.0,666.6 1104.0,669.4 1105.0,673.1 1106.0,677.6 1107.0,682.9 1108.0,688.6 1109.0,694.6 1110.0,700.7 1111.0,706.8 1112.0,712.7 1113.0,718.2 1114.0,723.4 1115.0,728.1 1116.0,732.2 1117.0,735.9 1118.0,739.0 1119.0,741.6 1120.0,743.7 1121.0,745.5 1122.0,746.8 1123.0,747.7 1124.0,748.3 1125.0,748.6 1126.0,748.5 1127.0,748.2 1128.0,747.7 1129.0,746.9 1130.0,746.0 1131.0,744.8 1132.0,743.5 1133.0,742.1 1134.0,740.6 1135.0,739.0 1136.0,737.4 1137.0,735.8 1138.0,734.2 1139.0,732.7 1140.0,731.4 1141.0,730.1 1142.0,729.1 1143.0,728.2 1144.0,727.6 1145.0,727.2 1146.0,727.0 1147.0,727.2 1148.0,727.5 1149.0,728.2 1150.0,729.1 1151.0,730.1 1152.0,731.4 1153.0,732.8 1154.0,734.4 1155.0,736.0 1156.0,737.8 1157.0,739.5 1158.0,741.3 1159.0,743.1 1160.0,744.8 1161.0,746.6 1162.0,748.2 1163.0,749.8 1164.0,751.2 1165.0,752.6 1166.0,753.9 1167.0,755.1 1168.0,756.2 1169.0,757.1 1170.0,758.0 1171.0,758.8 1172.0,759.4 1173.0,760.0 1174.0,760.5 1175.0,761.0 1176.0,761.3 1177.0,761.7 1178.0,761.9 1179.0,762.1 1180.0,762.3 1181.0,762.5 1182.0,762.6 1183.0,762.7 1184.0,762.7 1185.0,762.8 1186.0,762.8 1187.0,762.8 1188.0,762.8 1189.0,762.8 1190.0,762.8 1191.0,762.8 1192.0,762.8 1193.0,762.8 1194.0,762.7 1195.0,762.7 1196.0,762.7 1197.0,762.7 1198.0,762.6 1199.0,762.6 1200.0,762.6 1201.0,762.5 1202.0,762.5 1203.0,762.4 1204.0,762.4 1205.0,762.4 1206.0,762.3 1207.0,762.3 1208.0,762.2 1209.0,762.2 1210.0,762.1 1211.0,762.1 1212.0,762.1 1213.0,762.0 1214.0,762.0 1215.0,761.9 1216.0,761.9 1217.0,761.8 1218.0,761.8 1219.0,761.7 1220.0,761.7 1221.0,761.6 1222.0,761.6 1223.0,761.5 1224.0,761.5 1225.0,761.5 1226.0,761.4 1227.0,761.4 1228.0,761.3 1229.0,761.3 1230.0,761.2 1231.0,761.2 1232.0,761.1 1233.0,761.1 1234.0,761.0 1235.0,761.0 1236.0,760.9 1237.0,760.9 1238.0,760.8 1239.0,760.8 1240.0,760.7" fill="none" stroke="#e0262f" stroke-width="1.9" stroke-linejoin="round"/>
<polyline points="988.2,227.8 988.7,226.6 989.5,224.9 990.4,223.2 991.2,222.2 992.0,222.2 992.8,222.7 993.7,223.4 994.6,223.5 995.6,222.9 996.8,221.9 997.9,220.8 998.9,219.6 999.8,218.3 1000.6,216.9 1001.5,215.7 1002.3,214.9 1003.2,214.7 1004.0,215.0 1004.9,215.6 1005.8,216.2 1006.7,217.2 1007.7,218.4 1008.7,219.6 1009.6,220.0 1010.4,219.1 1011.1,217.4 1011.9,215.9 1012.7,215.7 1013.7,217.8 1014.8,221.3 1016.0,224.7 1017.0,226.5 1017.9,225.7 1018.8,223.4 1019.6,220.7 1020.4,218.8 1021.1,218.1 1021.7,218.0 1022.3,218.0 1023.0,217.9 1023.7,217.4 1024.5,216.8 1025.2,216.3 1026.0,216.2 1026.7,216.8 1027.5,217.9 1028.2,219.1 1029.0,220.0 1029.8,220.7 1030.6,221.3 1031.5,221.7 1032.4,221.8 1033.4,221.5 1034.5,220.8 1035.7,220.0 1036.7,219.6 1037.6,219.6 1038.5,219.8 1039.4,220.2 1040.2,220.5 1040.9,220.9 1041.6,221.5 1042.3,221.9 1043.2,221.8 1044.5,220.7 1046.0,218.9 1047.5,217.2 1048.8,216.6 1049.8,217.7 1050.6,219.9 1051.4,222.0 1052.2,223.0 1053.0,222.0 1053.7,219.7 1054.6,217.5 1055.6,216.6 1056.9,217.8 1058.5,220.3 1060.1,222.8 1061.6,223.9 1063.0,222.9 1064.3,220.5 1065.6,218.2 1066.8,217.0 1067.9,217.8 1068.9,219.6 1070.0,221.7 1071.1,223.0 1072.4,223.1 1073.8,222.5 1075.2,221.8 1076.3,221.8 1077.1,222.8 1077.6,224.4 1078.1,225.9 1078.8,226.9 1079.8,227.0 1081.0,226.5 1082.2,225.9 1083.1,225.6 1083.7,225.6 1084.1,225.8 1084.5,226.1 1085.0,226.5 1085.7,227.1 1086.6,227.8 1087.5,228.4 1088.4,228.6 1089.4,228.0 1090.4,226.9 1091.3,225.9 1092.3,225.6 1093.2,226.6 1093.9,228.4 1094.8,230.0 1095.7,230.4 1096.8,228.8 1098.0,225.9 1099.3,223.0 1100.5,221.3 1101.6,221.4 1102.7,222.5 1103.7,224.0 1104.8,225.2 1105.9,226.3 1107.0,227.4 1108.1,228.3 1109.1,228.6 1110.0,227.9 1110.7,226.5 1111.4,225.1 1112.1,224.3 1112.7,224.6 1113.3,225.5 1113.9,226.5 1114.6,226.9 1115.4,226.2 1116.3,225.0 1117.2,223.8 1118.1,223.5 1119.0,224.7 1119.8,226.8 1120.7,228.8 1121.5,229.9 1122.3,229.5 1123.0,228.2 1123.7,226.6 1124.5,225.6 1125.3,225.4 1126.2,225.6 1127.1,225.8 1128.0,225.6 1128.9,224.6 1129.9,223.1 1130.8,221.7 1131.8,220.9 1132.8,221.1 1133.7,221.9 1134.7,222.9 1135.7,223.5 1136.8,223.6 1137.9,223.6 1139.0,223.4 1140.0,223.5 1140.9,224.0 1141.8,224.6 1142.6,225.2 1143.4,225.2 1144.1,224.3 1144.8,222.8 1145.5,221.3 1146.4,220.5 1147.6,220.7 1149.1,221.4 1150.6,222.4 1152.0,223.5 1153.2,224.9 1154.3,226.7 1155.3,228.1 1156.3,228.6 1157.2,227.5 1158.1,225.2 1159.0,222.9 1159.8,221.8 1160.7,222.5 1161.5,224.4 1162.4,226.2 1163.2,226.9 1164.0,225.7 1164.9,223.5 1165.7,221.2 1166.6,220.0 1167.5,220.7 1168.5,222.5 1169.5,224.2 1170.5,224.8 1171.6,223.4 1172.7,220.7 1173.8,218.1 1174.8,217.0 1175.7,217.9 1176.5,220.2 1177.3,222.8 1178.2,224.8 1179.2,226.3 1180.2,227.6 1181.1,228.4 1182.1,228.6 1183.1,227.6 1184.0,225.8 1184.9,223.9 1185.5,222.6" fill="none" stroke="#2a2a2a" stroke-width="1.9" stroke-linejoin="round" stroke-linecap="round"/>
<line x1="165.5" y1="161.7" x2="165.5" y2="805" stroke="#1c212b" stroke-width="1.6" stroke-dasharray="4 4.5" stroke-opacity="0.85"/>
<line x1="182.5" y1="113.7" x2="182.5" y2="805" stroke="#1c212b" stroke-width="1.6" stroke-dasharray="4 4.5" stroke-opacity="0.85"/>
<line x1="200.5" y1="62" x2="200.5" y2="805" stroke="#1c212b" stroke-width="1.6" stroke-dasharray="4 4.5" stroke-opacity="0.85"/>
<line x1="220.5" y1="42" x2="220.5" y2="805" stroke="#1c212b" stroke-width="1.6" stroke-dasharray="4 4.5" stroke-opacity="0.85"/>
<line x1="507.6" y1="93.7" x2="507.6" y2="807" stroke="#1c212b" stroke-width="1.6" stroke-dasharray="4 4.5" stroke-opacity="0.85"/>
<line x1="524.6" y1="58" x2="524.6" y2="807" stroke="#1c212b" stroke-width="1.6" stroke-dasharray="4 4.5" stroke-opacity="0.85"/>
<line x1="537.4" y1="94.7" x2="537.4" y2="807" stroke="#1c212b" stroke-width="1.6" stroke-dasharray="4 4.5" stroke-opacity="0.85"/>
<line x1="783.4" y1="109" x2="783.4" y2="807" stroke="#1c212b" stroke-width="1.6" stroke-dasharray="4 4.5" stroke-opacity="0.85"/>
<line x1="818.9" y1="79.5" x2="818.9" y2="807" stroke="#1c212b" stroke-width="1.6" stroke-dasharray="4 4.5" stroke-opacity="0.85"/>
<line x1="1078" y1="135.3" x2="1078" y2="806" stroke="#555" stroke-width="1.6" stroke-dasharray="4 4.5" stroke-opacity="0.85"/>
<line x1="1101.3" y1="114.5" x2="1101.3" y2="806" stroke="#555" stroke-width="1.6" stroke-dasharray="4 4.5" stroke-opacity="0.85"/>
<line x1="1145" y1="116" x2="1145" y2="806" stroke="#555" stroke-width="1.6" stroke-dasharray="4 4.5" stroke-opacity="0.85"/>
<line x1="37" y1="809" x2="325" y2="809" stroke="#333" stroke-width="1.8"/>
<line x1="62.0" y1="809" x2="62.0" y2="812.5" stroke="#333" stroke-width="1.6"/>
<line x1="114.2" y1="809" x2="114.2" y2="812.5" stroke="#333" stroke-width="1.6"/>
<line x1="166.4" y1="809" x2="166.4" y2="812.5" stroke="#333" stroke-width="1.6"/>
<line x1="218.6" y1="809" x2="218.6" y2="812.5" stroke="#333" stroke-width="1.6"/>
<line x1="270.8" y1="809" x2="270.8" y2="812.5" stroke="#333" stroke-width="1.6"/>
<line x1="323.0" y1="809" x2="323.0" y2="812.5" stroke="#333" stroke-width="1.6"/>
<line x1="88.1" y1="809" x2="88.1" y2="811.2" stroke="#333" stroke-width="1.4"/>
<line x1="140.3" y1="809" x2="140.3" y2="811.2" stroke="#333" stroke-width="1.4"/>
<line x1="192.5" y1="809" x2="192.5" y2="811.2" stroke="#333" stroke-width="1.4"/>
<line x1="244.7" y1="809" x2="244.7" y2="811.2" stroke="#333" stroke-width="1.4"/>
<line x1="296.9" y1="809" x2="296.9" y2="811.2" stroke="#333" stroke-width="1.4"/>
<text x="62.0" y="826.5" font-size="15.5" font-weight="bold" fill="#111" text-anchor="middle" textLength="24" lengthAdjust="spacingAndGlyphs" stroke="#111" stroke-width="0.3" >300</text>
<text x="114.2" y="826.5" font-size="15.5" font-weight="bold" fill="#111" text-anchor="middle" textLength="24" lengthAdjust="spacingAndGlyphs" stroke="#111" stroke-width="0.3" >295</text>
<text x="166.4" y="826.5" font-size="15.5" font-weight="bold" fill="#111" text-anchor="middle" textLength="24" lengthAdjust="spacingAndGlyphs" stroke="#111" stroke-width="0.3" >290</text>
<text x="218.6" y="826.5" font-size="15.5" font-weight="bold" fill="#111" text-anchor="middle" textLength="24" lengthAdjust="spacingAndGlyphs" stroke="#111" stroke-width="0.3" >285</text>
<text x="270.8" y="826.5" font-size="15.5" font-weight="bold" fill="#111" text-anchor="middle" textLength="24" lengthAdjust="spacingAndGlyphs" stroke="#111" stroke-width="0.3" >280</text>
<text x="323.0" y="826.5" font-size="15.5" font-weight="bold" fill="#111" text-anchor="middle" textLength="24" lengthAdjust="spacingAndGlyphs" stroke="#111" stroke-width="0.3" >275</text>
<line x1="373" y1="810.5" x2="630" y2="810.5" stroke="#333" stroke-width="1.8"/>
<line x1="374.0" y1="810.5" x2="374.0" y2="814.0" stroke="#333" stroke-width="1.6"/>
<line x1="432.0" y1="810.5" x2="432.0" y2="814.0" stroke="#333" stroke-width="1.6"/>
<line x1="490.0" y1="810.5" x2="490.0" y2="814.0" stroke="#333" stroke-width="1.6"/>
<line x1="548.0" y1="810.5" x2="548.0" y2="814.0" stroke="#333" stroke-width="1.6"/>
<line x1="606.0" y1="810.5" x2="606.0" y2="814.0" stroke="#333" stroke-width="1.6"/>
<line x1="403.0" y1="810.5" x2="403.0" y2="812.7" stroke="#333" stroke-width="1.4"/>
<line x1="461.0" y1="810.5" x2="461.0" y2="812.7" stroke="#333" stroke-width="1.4"/>
<line x1="519.0" y1="810.5" x2="519.0" y2="812.7" stroke="#333" stroke-width="1.4"/>
<line x1="577.0" y1="810.5" x2="577.0" y2="812.7" stroke="#333" stroke-width="1.4"/>
<line x1="635.0" y1="810.5" x2="635.0" y2="812.7" stroke="#333" stroke-width="1.4"/>
<text x="374.0" y="827.5" font-size="14.5" font-weight="bold" fill="#111" text-anchor="middle" textLength="21.5" lengthAdjust="spacingAndGlyphs" stroke="#111" stroke-width="0.3" >545</text>
<text x="432.0" y="827.5" font-size="14.5" font-weight="bold" fill="#111" text-anchor="middle" textLength="21.5" lengthAdjust="spacingAndGlyphs" stroke="#111" stroke-width="0.3" >540</text>
<text x="490.0" y="827.5" font-size="14.5" font-weight="bold" fill="#111" text-anchor="middle" textLength="21.5" lengthAdjust="spacingAndGlyphs" stroke="#111" stroke-width="0.3" >535</text>
<text x="548.0" y="827.5" font-size="14.5" font-weight="bold" fill="#111" text-anchor="middle" textLength="21.5" lengthAdjust="spacingAndGlyphs" stroke="#111" stroke-width="0.3" >530</text>
<text x="606.0" y="827.5" font-size="14.5" font-weight="bold" fill="#111" text-anchor="middle" textLength="21.5" lengthAdjust="spacingAndGlyphs" stroke="#111" stroke-width="0.3" >525</text>
<line x1="657" y1="808.75" x2="1262" y2="808.75" stroke="#333" stroke-width="1.8"/>
<line x1="657" y1="808.75" x2="657" y2="808.75" stroke="#333" stroke-width="1.8"/>
<line x1="685.0" y1="808.75" x2="685.0" y2="812.25" stroke="#333" stroke-width="1.6"/>
<line x1="753.9" y1="808.75" x2="753.9" y2="812.25" stroke="#333" stroke-width="1.6"/>
<line x1="822.8" y1="808.75" x2="822.8" y2="812.25" stroke="#333" stroke-width="1.6"/>
<line x1="891.7" y1="808.75" x2="891.7" y2="812.25" stroke="#333" stroke-width="1.6"/>
<line x1="719.5" y1="808.75" x2="719.5" y2="810.95" stroke="#333" stroke-width="1.4"/>
<line x1="788.4" y1="808.75" x2="788.4" y2="810.95" stroke="#333" stroke-width="1.4"/>
<line x1="857.2" y1="808.75" x2="857.2" y2="810.95" stroke="#333" stroke-width="1.4"/>
<line x1="926.1" y1="808.75" x2="926.1" y2="810.95" stroke="#333" stroke-width="1.4"/>
<text x="685.0" y="826.5" font-size="15.5" font-weight="bold" fill="#111" text-anchor="middle" textLength="23.5" lengthAdjust="spacingAndGlyphs" stroke="#111" stroke-width="0.3" >695</text>
<text x="753.9" y="826.5" font-size="15.5" font-weight="bold" fill="#111" text-anchor="middle" textLength="23.5" lengthAdjust="spacingAndGlyphs" stroke="#111" stroke-width="0.3" >690</text>
<text x="822.8" y="826.5" font-size="15.5" font-weight="bold" fill="#111" text-anchor="middle" textLength="23.5" lengthAdjust="spacingAndGlyphs" stroke="#111" stroke-width="0.3" >685</text>
<text x="891.7" y="826.5" font-size="15.5" font-weight="bold" fill="#111" text-anchor="middle" textLength="23.5" lengthAdjust="spacingAndGlyphs" stroke="#111" stroke-width="0.3" >680</text>
<line x1="935" y1="808.75" x2="935" y2="808.75" stroke="#333" stroke-width="1.8"/>
<line x1="935.5" y1="808.75" x2="935.5" y2="812.25" stroke="#333" stroke-width="1.6"/>
<line x1="1000.8" y1="808.75" x2="1000.8" y2="812.25" stroke="#333" stroke-width="1.6"/>
<line x1="1066.0" y1="808.75" x2="1066.0" y2="812.25" stroke="#333" stroke-width="1.6"/>
<line x1="1131.2" y1="808.75" x2="1131.2" y2="812.25" stroke="#333" stroke-width="1.6"/>
<line x1="1196.5" y1="808.75" x2="1196.5" y2="812.25" stroke="#333" stroke-width="1.6"/>
<line x1="1261.8" y1="808.75" x2="1261.8" y2="812.25" stroke="#333" stroke-width="1.6"/>
<line x1="968.1" y1="808.75" x2="968.1" y2="810.95" stroke="#333" stroke-width="1.4"/>
<line x1="1033.4" y1="808.75" x2="1033.4" y2="810.95" stroke="#333" stroke-width="1.4"/>
<line x1="1098.6" y1="808.75" x2="1098.6" y2="810.95" stroke="#333" stroke-width="1.4"/>
<line x1="1163.9" y1="808.75" x2="1163.9" y2="810.95" stroke="#333" stroke-width="1.4"/>
<line x1="1229.1" y1="808.75" x2="1229.1" y2="810.95" stroke="#333" stroke-width="1.4"/>
<text x="935.5" y="827.5" font-size="15.5" font-weight="bold" fill="#111" text-anchor="middle" textLength="24" lengthAdjust="spacingAndGlyphs" stroke="#111" stroke-width="0.3" >180</text>
<text x="1000.8" y="827.5" font-size="15.5" font-weight="bold" fill="#111" text-anchor="middle" textLength="24" lengthAdjust="spacingAndGlyphs" stroke="#111" stroke-width="0.3" >175</text>
<text x="1066.0" y="827.5" font-size="15.5" font-weight="bold" fill="#111" text-anchor="middle" textLength="24" lengthAdjust="spacingAndGlyphs" stroke="#111" stroke-width="0.3" >170</text>
<text x="1131.2" y="827.5" font-size="15.5" font-weight="bold" fill="#111" text-anchor="middle" textLength="24" lengthAdjust="spacingAndGlyphs" stroke="#111" stroke-width="0.3" >165</text>
<text x="1196.5" y="827.5" font-size="15.5" font-weight="bold" fill="#111" text-anchor="middle" textLength="24" lengthAdjust="spacingAndGlyphs" stroke="#111" stroke-width="0.3" >160</text>
<text x="1261.8" y="827.5" font-size="15.5" font-weight="bold" fill="#111" text-anchor="middle" textLength="24" lengthAdjust="spacingAndGlyphs" stroke="#111" stroke-width="0.3" >155</text>
<text x="109.6" y="848.3" font-size="16.2" font-weight="bold" fill="#111" text-anchor="start" textLength="158" lengthAdjust="spacingAndGlyphs" stroke="#111" stroke-width="0.3" >Binding energy(eV)</text>
<text x="430.8" y="849.7" font-size="16.2" font-weight="bold" fill="#111" text-anchor="start" textLength="141.5" lengthAdjust="spacingAndGlyphs" stroke="#111" stroke-width="0.3" >Binding energy(eV)</text>
<text x="718.8" y="849.9" font-size="16.2" font-weight="bold" fill="#111" text-anchor="start" textLength="153" lengthAdjust="spacingAndGlyphs" stroke="#111" stroke-width="0.3" >Binding energy(eV)</text>
<text x="1021.5" y="853.9" font-size="16.2" font-weight="bold" fill="#111" text-anchor="start" textLength="152.5" lengthAdjust="spacingAndGlyphs" stroke="#111" stroke-width="0.3" >Binding energy(eV)</text>
<text x="56.3" y="21.2" font-size="26" font-weight="normal" fill="#111" text-anchor="start" textLength="27" lengthAdjust="spacingAndGlyphs" stroke="#111" stroke-width="0.55" >(a)</text>
<text x="416.6" y="21.2" font-size="26" font-weight="normal" fill="#111" text-anchor="start" textLength="28.8" lengthAdjust="spacingAndGlyphs" stroke="#111" stroke-width="0.55" >(b)</text>
<text x="717" y="21.2" font-size="26" font-weight="normal" fill="#111" text-anchor="start" textLength="28" lengthAdjust="spacingAndGlyphs" stroke="#111" stroke-width="0.55" >(c)</text>
<text x="1005" y="22" font-size="26" font-weight="normal" fill="#111" text-anchor="start" textLength="28.3" lengthAdjust="spacingAndGlyphs" stroke="#111" stroke-width="0.55" >(d)</text>
<text x="181.5" y="26.5" font-size="33" font-weight="bold" fill="#111" text-anchor="start" textLength="55.5" lengthAdjust="spacingAndGlyphs" stroke="#111" stroke-width="0.3" >C1s</text>
<text x="490" y="27.8" font-size="33" font-weight="bold" fill="#111" text-anchor="start" textLength="57" lengthAdjust="spacingAndGlyphs" stroke="#111" stroke-width="0.3" >O1s</text>
<text x="793.5" y="30.5" font-size="33" font-weight="bold" fill="#111" text-anchor="start" textLength="50" lengthAdjust="spacingAndGlyphs" stroke="#111" stroke-width="0.3" >F1s</text>
<text x="1070.8" y="31.5" font-size="33" font-weight="bold" fill="#111" text-anchor="start" textLength="55.5" lengthAdjust="spacingAndGlyphs" stroke="#111" stroke-width="0.3" >S2p</text>
<text x="33.5" y="91.5" font-size="30.5" font-weight="bold" fill="#111" text-anchor="start" textLength="47" lengthAdjust="spacingAndGlyphs" stroke="#111" stroke-width="0.3" >Ref</text>
<text x="25" y="317.5" font-size="30.5" font-weight="bold" fill="#111" text-anchor="start" textLength="63.5" lengthAdjust="spacingAndGlyphs" stroke="#111" stroke-width="0.3" >DTD</text>
<text x="17.8" y="498" font-size="30.5" font-weight="bold" fill="#111" text-anchor="start" textLength="84" lengthAdjust="spacingAndGlyphs" stroke="#111" stroke-width="0.3" >1,3-PS</text>
<text x="45" y="675.5" font-size="30.5" font-weight="bold" fill="#111" text-anchor="start" textLength="36" lengthAdjust="spacingAndGlyphs" stroke="#111" stroke-width="0.3" >ES</text>
<text x="241.5" y="56.2" font-size="20.5" font-weight="bold" fill="#111" text-anchor="start" textLength="37.5" lengthAdjust="spacingAndGlyphs" stroke="#111" stroke-width="0.3" >C-C</text>
<path d="M283.0,51.0 L284.0,50.4 L289.2,54.6 L288.4,56.4 L287.0,55.6 Z" fill="#111" stroke="#111" stroke-width="0.6" stroke-linejoin="round"/>
<text x="302.3" y="56.2" font-size="20.5" font-weight="bold" fill="#111" text-anchor="start" textLength="38.5" lengthAdjust="spacingAndGlyphs" stroke="#111" stroke-width="0.3" >C-H</text>
<path d="M345.0,51.0 L346.0,50.4 L351.2,54.6 L350.4,56.4 L349.0,55.6 Z" fill="#111" stroke="#111" stroke-width="0.6" stroke-linejoin="round"/>
<text x="365.5" y="56.4" font-size="20.5" font-weight="bold" fill="#111" text-anchor="start" textLength="78" lengthAdjust="spacingAndGlyphs" stroke="#111" stroke-width="0.3" >graphite</text>
<line x1="253.8" y1="61.5" x2="234.3" y2="69.4" stroke="#3a3a3a" stroke-width="1.8"/>
<path d="M221.3,74.7 L234.5,64.7 L235.4,69.0 L237.7,72.7 Z" fill="#111"/>
<text x="102" y="93.6" font-size="20.5" font-weight="bold" fill="#111" text-anchor="start" textLength="38.5" lengthAdjust="spacingAndGlyphs" stroke="#111" stroke-width="0.3" >C-O</text>
<line x1="147.5" y1="88.2" x2="186.0" y2="88.2" stroke="#3a3a3a" stroke-width="1.8"/>
<path d="M200.0,88.2 L184.0,92.5 L184.8,88.2 L184.0,83.9 Z" fill="#111"/>
<text x="70" y="139" font-size="20.5" font-weight="bold" fill="#111" text-anchor="start" textLength="42.5" lengthAdjust="spacingAndGlyphs" stroke="#111" stroke-width="0.3" >C=O</text>
<line x1="118.7" y1="130.6" x2="166.7" y2="130.6" stroke="#3a3a3a" stroke-width="1.8"/>
<path d="M180.7,130.6 L164.7,134.9 L165.5,130.6 L164.7,126.3 Z" fill="#111"/>
<text x="3.5" y="163.5" font-weight="bold" fill="#111" stroke="#111" stroke-width="0.3" textLength="73.5" lengthAdjust="spacingAndGlyphs"><tspan font-size="20.5" dy="0">Li</tspan><tspan font-size="19.5" dy="11.8">2</tspan><tspan font-size="20.5" dy="-11.8">CO</tspan><tspan font-size="19.5" dy="11.8">3</tspan></text>
<path d="M81.5,159.0 L82.5,158.4 L87.7,162.6 L86.9,164.4 L85.5,163.6 Z" fill="#111" stroke="#111" stroke-width="0.6" stroke-linejoin="round"/>
<text x="100.5" y="163.5" font-size="20.5" font-weight="bold" fill="#111" text-anchor="start" textLength="57.5" lengthAdjust="spacingAndGlyphs" stroke="#111" stroke-width="0.3" >PVDF</text>
<line x1="132.7" y1="172.2" x2="152.0" y2="180.0" stroke="#3a3a3a" stroke-width="1.8"/>
<path d="M165.0,185.3 L148.6,183.3 L150.9,179.6 L151.8,175.3 Z" fill="#111"/>
<text x="395.3" y="82.5" font-weight="bold" fill="#111" stroke="#111" stroke-width="0.3" textLength="74" lengthAdjust="spacingAndGlyphs"><tspan font-size="20.5" dy="0">Li</tspan><tspan font-size="19.5" dy="11.5">2</tspan><tspan font-size="20.5" dy="-11.5">CO</tspan><tspan font-size="19.5" dy="11.5">3</tspan></text>
<line x1="466.3" y1="77.4" x2="510.2" y2="77.4" stroke="#3a3a3a" stroke-width="1.8"/>
<path d="M524.2,77.4 L508.2,81.7 L509.0,77.4 L508.2,73.1 Z" fill="#111"/>
<text x="410.5" y="117" font-size="20.5" font-weight="bold" fill="#111" text-anchor="start" textLength="38.5" lengthAdjust="spacingAndGlyphs" stroke="#111" stroke-width="0.3" >C-O</text>
<line x1="450.0" y1="108.9" x2="493.0" y2="108.9" stroke="#3a3a3a" stroke-width="1.8"/>
<path d="M507.0,108.9 L491.0,113.2 L491.8,108.9 L491.0,104.6 Z" fill="#111"/>
<text x="589.3" y="122" font-size="20.5" font-weight="bold" fill="#111" text-anchor="start" textLength="43.5" lengthAdjust="spacingAndGlyphs" stroke="#111" stroke-width="0.3" >C=O</text>
<line x1="588.0" y1="116.0" x2="550.4" y2="116.0" stroke="#3a3a3a" stroke-width="1.8"/>
<path d="M536.4,116.0 L552.4,111.7 L551.6,116.0 L552.4,120.3 Z" fill="#111"/>
<text x="882" y="79.5" font-size="20.5" font-weight="bold" fill="#111" text-anchor="start" textLength="34" lengthAdjust="spacingAndGlyphs" stroke="#111" stroke-width="0.3" >LiF</text>
<line x1="872.0" y1="77.3" x2="841.6" y2="87.2" stroke="#3a3a3a" stroke-width="1.8"/>
<path d="M828.3,91.6 L842.2,82.5 L842.7,86.9 L844.8,90.7 Z" fill="#111"/>
<text x="667.7" y="129.8" font-size="20.5" font-weight="bold" fill="#111" text-anchor="start" textLength="55.5" lengthAdjust="spacingAndGlyphs" stroke="#111" stroke-width="0.3" >PVDF</text>
<line x1="727.7" y1="124.4" x2="762.9" y2="124.4" stroke="#3a3a3a" stroke-width="1.8"/>
<path d="M776.9,124.4 L760.9,128.7 L761.7,124.4 L760.9,120.1 Z" fill="#111"/>
<text x="956.5" y="102.5" font-weight="bold" fill="#111" stroke="#111" stroke-width="0.3" textLength="71" lengthAdjust="spacingAndGlyphs"><tspan font-size="20" dy="0">Li</tspan><tspan font-size="18.5" dy="11.5">2</tspan><tspan font-size="20" dy="-11.5">SO</tspan><tspan font-size="18.5" dy="11.5">3</tspan></text>
<line x1="1033.6" y1="107.1" x2="1080.6" y2="131.3" stroke="#3a3a3a" stroke-width="1.8"/>
<path d="M1093.0,137.7 L1076.8,134.2 L1079.5,130.7 L1080.7,126.6 Z" fill="#111"/>
<text x="1194.6" y="107.8" font-weight="bold" fill="#111" stroke="#111" stroke-width="0.3" textLength="82" lengthAdjust="spacingAndGlyphs"><tspan font-size="20" dy="0">Li</tspan><tspan font-size="18.5" dy="7.7">2</tspan><tspan font-size="20" dy="-7.7">S</tspan><tspan font-size="18.5" dy="7.7">2</tspan><tspan font-size="20" dy="-7.7">O</tspan><tspan font-size="18.5" dy="7.7">3</tspan></text>
<line x1="1197.0" y1="114.5" x2="1159.5" y2="128.3" stroke="#3a3a3a" stroke-width="1.8"/>
<path d="M1146.4,133.2 L1159.9,123.6 L1160.7,127.9 L1162.9,131.7 Z" fill="#111"/>
<text x="912" y="171" font-weight="bold" fill="#111" stroke="#111" stroke-width="0.3" textLength="93.5" lengthAdjust="spacingAndGlyphs"><tspan font-size="20" dy="0">ROSO</tspan><tspan font-size="18.5" dy="9.5">2</tspan><tspan font-size="20" dy="-9.5">Li</tspan></text>
<line x1="1011.3" y1="165.0" x2="1053.8" y2="165.0" stroke="#3a3a3a" stroke-width="1.8"/>
<path d="M1067.8,165.0 L1051.8,169.3 L1052.6,165.0 L1051.8,160.7 Z" fill="#111"/>
</g>
</svg></body></html>
